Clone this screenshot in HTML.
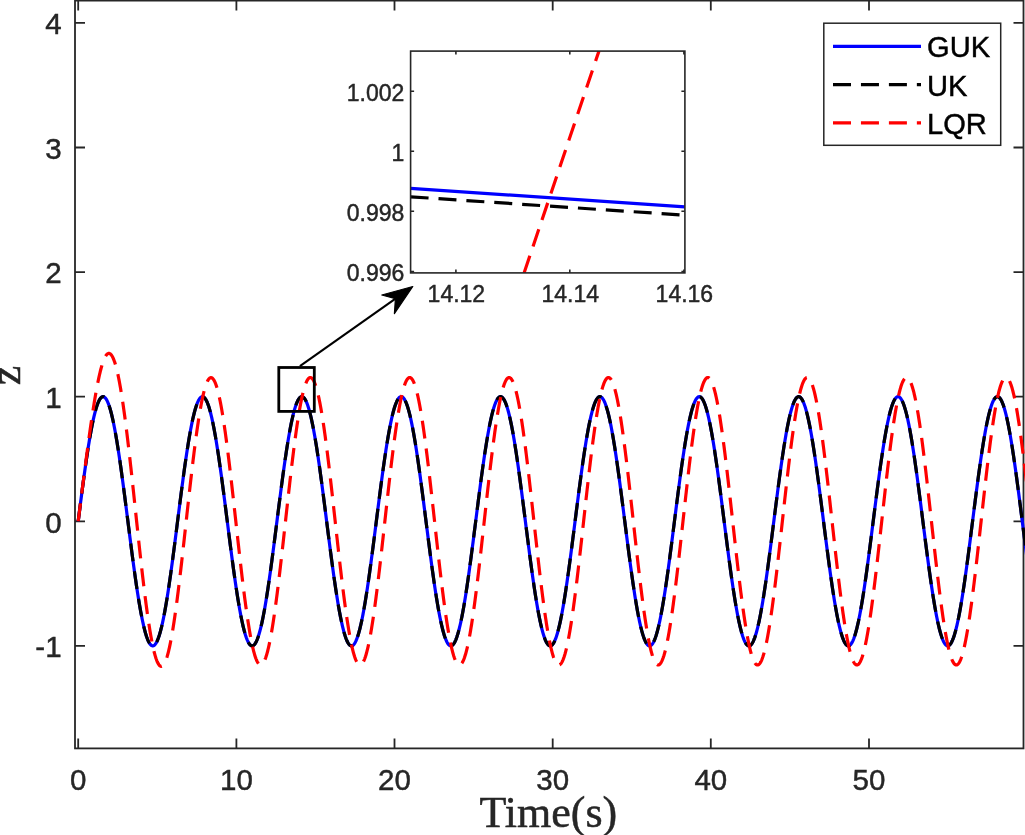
<!DOCTYPE html>
<html lang="en"><head><meta charset="utf-8"><title>Time(s) vs z</title>
<style>html,body{margin:0;padding:0;background:#fff;overflow:hidden}svg{display:block}.t{font-family:"Liberation Sans",Arial,Helvetica,sans-serif;fill:#262626;stroke:#262626;stroke-width:0.45px}.s{font-family:"Liberation Serif","Times New Roman",Times,serif;fill:#262626;stroke:#262626;stroke-width:0.5px}</style></head><body>
<svg width="1025" height="835" viewBox="0 0 1025 835">
<rect x="0" y="0" width="1025" height="835" fill="#fff"/>
<defs><clipPath id="ca"><rect x="75.0" y="0.6" width="950.0" height="747.8"/></clipPath><clipPath id="ci"><rect x="410.6" y="50.9" width="274.3" height="222"/></clipPath></defs>
<g stroke="#262626" stroke-width="1.8" fill="none" stroke-linecap="butt">
<rect x="75.0" y="0.6" width="948.5" height="747.8"/>
<path d="M78.2,748.4v-10M78.2,0.6v10M236.4,748.4v-10M236.4,0.6v10M394.5,748.4v-10M394.5,0.6v10M552.7,748.4v-10M552.7,0.6v10M710.8,748.4v-10M710.8,0.6v10M869.0,748.4v-10M869.0,0.6v10M75.0,645.9h10M1023.5,645.9h-10M75.0,521.3h10M1023.5,521.3h-10M75.0,396.7h10M1023.5,396.7h-10M75.0,272.1h10M1023.5,272.1h-10M75.0,147.5h10M1023.5,147.5h-10M75.0,22.9h10M1023.5,22.9h-10"/>
</g>
<g clip-path="url(#ca)" fill="none" stroke-width="3.2" stroke-linejoin="round">
<path d="M78.20,521.26 L78.52,518.77 L78.83,516.28 L79.15,513.79 L79.47,511.30 L79.78,508.82 L80.10,506.35 L80.41,503.87 L80.73,501.41 L81.05,498.95 L81.36,496.51 L81.68,494.07 L82.00,491.64 L82.31,489.23 L82.63,486.83 L82.94,484.44 L83.26,482.07 L83.58,479.71 L83.89,477.37 L84.21,475.05 L84.53,472.74 L84.84,470.46 L85.16,468.19 L85.48,465.95 L85.79,463.73 L86.11,461.53 L86.42,459.35 L86.74,457.20 L87.06,455.08 L87.37,452.98 L87.69,450.91 L88.01,448.87 L88.32,446.86 L88.64,444.87 L88.95,442.92 L89.27,441.00 L89.59,439.11 L89.90,437.25 L90.22,435.43 L90.54,433.64 L90.85,431.88 L91.17,430.17 L91.49,428.48 L91.80,426.84 L92.12,425.23 L92.43,423.67 L92.75,422.14 L93.07,420.65 L93.38,419.20 L93.70,417.79 L94.02,416.42 L94.33,415.10 L94.65,413.81 L94.96,412.57 L95.28,411.38 L95.60,410.22 L95.91,409.12 L96.23,408.05 L96.55,407.04 L96.86,406.06 L97.18,405.14 L97.50,404.26 L97.81,403.42 L98.13,402.64 L98.44,401.90 L98.76,401.21 L99.08,400.57 L99.39,399.97 L99.71,399.43 L100.03,398.93 L100.34,398.48 L100.66,398.08 L100.98,397.73 L101.29,397.43 L101.61,397.18 L101.92,396.98 L102.24,396.83 L102.56,396.73 L102.87,396.68 L103.19,396.68 L103.51,396.72 L103.82,396.82 L104.14,396.97 L104.45,397.17 L104.77,397.41 L105.09,397.71 L105.40,398.05 L105.72,398.45 L106.04,398.89 L106.35,399.39 L106.67,399.93 L106.99,400.52 L107.30,401.16 L107.62,401.84 L107.93,402.58 L108.25,403.36 L108.57,404.19 L108.88,405.07 L109.20,405.99 L109.52,406.96 L109.83,407.97 L110.15,409.03 L110.46,410.13 L110.78,411.28 L111.10,412.48 L111.41,413.71 L111.73,414.99 L112.05,416.31 L112.36,417.68 L112.68,419.08 L113.00,420.53 L113.31,422.02 L113.63,423.54 L113.94,425.11 L114.26,426.71 L114.58,428.35 L114.89,430.03 L115.21,431.75 L115.53,433.50 L115.84,435.28 L116.16,437.10 L116.47,438.96 L116.79,440.85 L117.11,442.76 L117.42,444.72 L117.74,446.70 L118.06,448.71 L118.37,450.75 L118.69,452.82 L119.01,454.91 L119.32,457.03 L119.64,459.18 L119.95,461.35 L120.27,463.55 L120.59,465.77 L120.90,468.01 L121.22,470.28 L121.54,472.56 L121.85,474.86 L122.17,477.18 L122.48,479.52 L122.80,481.88 L123.12,484.25 L123.43,486.64 L123.75,489.04 L124.07,491.45 L124.38,493.88 L124.70,496.31 L125.02,498.76 L125.33,501.21 L125.65,503.68 L125.96,506.15 L126.28,508.62 L126.60,511.11 L126.91,513.59 L127.23,516.08 L127.55,518.57 L127.86,521.06 L128.18,523.55 L128.49,526.04 L128.81,528.53 L129.13,531.02 L129.44,533.50 L129.76,535.98 L130.08,538.45 L130.39,540.91 L130.71,543.37 L131.03,545.82 L131.34,548.26 L131.66,550.68 L131.97,553.10 L132.29,555.50 L132.61,557.89 L132.92,560.26 L133.24,562.62 L133.56,564.96 L133.87,567.29 L134.19,569.59 L134.50,571.88 L134.82,574.15 L135.14,576.39 L135.45,578.62 L135.77,580.82 L136.09,582.99 L136.40,585.15 L136.72,587.27 L137.04,589.37 L137.35,591.44 L137.67,593.49 L137.98,595.51 L138.30,597.49 L138.62,599.45 L138.93,601.37 L139.25,603.26 L139.57,605.12 L139.88,606.95 L140.20,608.74 L140.52,610.50 L140.83,612.22 L141.15,613.90 L141.46,615.55 L141.78,617.16 L142.10,618.73 L142.41,620.26 L142.73,621.76 L143.05,623.21 L143.36,624.62 L143.68,625.99 L143.99,627.32 L144.31,628.61 L144.63,629.85 L144.94,631.05 L145.26,632.21 L145.58,633.32 L145.89,634.38 L146.21,635.41 L146.53,636.38 L146.84,637.31 L147.16,638.19 L147.47,639.03 L147.79,639.82 L148.11,640.56 L148.42,641.26 L148.74,641.90 L149.06,642.50 L149.37,643.05 L149.69,643.55 L150.00,644.00 L150.32,644.41 L150.64,644.76 L150.95,645.06 L151.27,645.32 L151.59,645.52 L151.90,645.68 L152.22,645.78 L152.54,645.84 L152.85,645.85 L153.17,645.80 L153.48,645.71 L153.80,645.57 L154.12,645.37 L154.43,645.13 L154.75,644.84 L155.07,644.50 L155.38,644.10 L155.70,643.66 L156.01,643.17 L156.33,642.64 L156.65,642.05 L156.96,641.42 L157.28,640.73 L157.60,640.00 L157.91,639.22 L158.23,638.40 L158.55,637.53 L158.86,636.61 L159.18,635.64 L159.49,634.63 L159.81,633.58 L160.13,632.47 L160.44,631.33 L160.76,630.14 L161.08,628.91 L161.39,627.63 L161.71,626.31 L162.02,624.95 L162.34,623.55 L162.66,622.11 L162.97,620.62 L163.29,619.10 L163.61,617.54 L163.92,615.94 L164.24,614.30 L164.56,612.62 L164.87,610.91 L165.19,609.16 L165.50,607.38 L165.82,605.56 L166.14,603.71 L166.45,601.83 L166.77,599.91 L167.09,597.96 L167.40,595.98 L167.72,593.97 L168.03,591.94 L168.35,589.87 L168.67,587.78 L168.98,585.66 L169.30,583.51 L169.62,581.34 L169.93,579.14 L170.25,576.93 L170.57,574.69 L170.88,572.42 L171.20,570.14 L171.51,567.84 L171.83,565.52 L172.15,563.18 L172.46,560.83 L172.78,558.46 L173.10,556.07 L173.41,553.67 L173.73,551.26 L174.04,548.84 L174.36,546.40 L174.68,543.96 L174.99,541.50 L175.31,539.04 L175.63,536.57 L175.94,534.09 L176.26,531.61 L176.58,529.13 L176.89,526.64 L177.21,524.15 L177.52,521.66 L177.84,519.17 L178.16,516.67 L178.47,514.19 L178.79,511.70 L179.11,509.22 L179.42,506.74 L179.74,504.27 L180.06,501.80 L180.37,499.35 L180.69,496.90 L181.00,494.46 L181.32,492.03 L181.64,489.61 L181.95,487.21 L182.27,484.82 L182.59,482.45 L182.90,480.09 L183.22,477.74 L183.53,475.42 L183.85,473.11 L184.17,470.82 L184.48,468.55 L184.80,466.30 L185.12,464.08 L185.43,461.88 L185.75,459.70 L186.07,457.54 L186.38,455.42 L186.70,453.31 L187.01,451.24 L187.33,449.19 L187.65,447.17 L187.96,445.19 L188.28,443.23 L188.60,441.30 L188.91,439.41 L189.23,437.54 L189.54,435.72 L189.86,433.92 L190.18,432.16 L190.49,430.44 L190.81,428.75 L191.13,427.10 L191.44,425.49 L191.76,423.91 L192.08,422.38 L192.39,420.88 L192.71,419.43 L193.02,418.01 L193.34,416.64 L193.66,415.30 L193.97,414.01 L194.29,412.77 L194.61,411.56 L194.92,410.41 L195.24,409.29 L195.55,408.22 L195.87,407.19 L196.19,406.22 L196.50,405.28 L196.82,404.39 L197.14,403.55 L197.45,402.76 L197.77,402.02 L198.09,401.32 L198.40,400.67 L198.72,400.06 L199.03,399.51 L199.35,399.01 L199.67,398.55 L199.98,398.14 L200.30,397.79 L200.62,397.48 L200.93,397.22 L201.25,397.01 L201.56,396.85 L201.88,396.74 L202.20,396.68 L202.51,396.67 L202.83,396.71 L203.15,396.80 L203.46,396.94 L203.78,397.13 L204.10,397.37 L204.41,397.66 L204.73,398.00 L205.04,398.38 L205.36,398.82 L205.68,399.30 L205.99,399.84 L206.31,400.42 L206.63,401.05 L206.94,401.73 L207.26,402.46 L207.57,403.23 L207.89,404.05 L208.21,404.92 L208.52,405.84 L208.84,406.80 L209.16,407.81 L209.47,408.86 L209.79,409.96 L210.11,411.10 L210.42,412.28 L210.74,413.51 L211.05,414.79 L211.37,416.10 L211.69,417.46 L212.00,418.86 L212.32,420.30 L212.64,421.78 L212.95,423.30 L213.27,424.86 L213.58,426.45 L213.90,428.09 L214.22,429.76 L214.53,431.47 L214.85,433.22 L215.17,435.00 L215.48,436.81 L215.80,438.66 L216.12,440.54 L216.43,442.46 L216.75,444.40 L217.06,446.38 L217.38,448.39 L217.70,450.42 L218.01,452.48 L218.33,454.58 L218.65,456.69 L218.96,458.84 L219.28,461.01 L219.60,463.20 L219.91,465.42 L220.23,467.65 L220.54,469.91 L220.86,472.19 L221.18,474.49 L221.49,476.81 L221.81,479.15 L222.13,481.50 L222.44,483.87 L222.76,486.26 L223.07,488.66 L223.39,491.07 L223.71,493.49 L224.02,495.92 L224.34,498.37 L224.66,500.82 L224.97,503.29 L225.29,505.75 L225.61,508.23 L225.92,510.71 L226.24,513.19 L226.55,515.68 L226.87,518.17 L227.19,520.66 L227.50,523.16 L227.82,525.65 L228.14,528.14 L228.45,530.62 L228.77,533.11 L229.08,535.58 L229.40,538.06 L229.72,540.52 L230.03,542.98 L230.35,545.43 L230.67,547.87 L230.98,550.30 L231.30,552.71 L231.62,555.12 L231.93,557.51 L232.25,559.89 L232.56,562.25 L232.88,564.59 L233.20,566.92 L233.51,569.23 L233.83,571.52 L234.15,573.79 L234.46,576.04 L234.78,578.26 L235.09,580.47 L235.41,582.65 L235.73,584.80 L236.04,586.94 L236.36,589.04 L236.68,591.12 L236.99,593.17 L237.31,595.19 L237.63,597.18 L237.94,599.14 L238.26,601.07 L238.57,602.96 L238.89,604.83 L239.21,606.66 L239.52,608.46 L239.84,610.22 L240.16,611.95 L240.47,613.64 L240.79,615.29 L241.10,616.91 L241.42,618.48 L241.74,620.02 L242.05,621.52 L242.37,622.98 L242.69,624.40 L243.00,625.78 L243.32,627.11 L243.64,628.40 L243.95,629.65 L244.27,630.86 L244.58,632.02 L244.90,633.14 L245.22,634.22 L245.53,635.25 L245.85,636.23 L246.17,637.17 L246.48,638.06 L246.80,638.90 L247.11,639.70 L247.43,640.45 L247.75,641.15 L248.06,641.80 L248.38,642.41 L248.70,642.97 L249.01,643.47 L249.33,643.93 L249.65,644.35 L249.96,644.71 L250.28,645.02 L250.59,645.28 L250.91,645.49 L251.23,645.66 L251.54,645.77 L251.86,645.83 L252.18,645.85 L252.49,645.81 L252.81,645.73 L253.12,645.59 L253.44,645.41 L253.76,645.17 L254.07,644.89 L254.39,644.55 L254.71,644.17 L255.02,643.74 L255.34,643.26 L255.66,642.73 L255.97,642.15 L256.29,641.52 L256.60,640.84 L256.92,640.12 L257.24,639.35 L257.55,638.53 L257.87,637.67 L258.19,636.76 L258.50,635.80 L258.82,634.80 L259.14,633.75 L259.45,632.65 L259.77,631.51 L260.08,630.33 L260.40,629.11 L260.72,627.84 L261.03,626.53 L261.35,625.17 L261.67,623.78 L261.98,622.34 L262.30,620.86 L262.61,619.35 L262.93,617.79 L263.25,616.20 L263.56,614.56 L263.88,612.89 L264.20,611.19 L264.51,609.44 L264.83,607.67 L265.15,605.85 L265.46,604.01 L265.78,602.13 L266.09,600.22 L266.41,598.27 L266.73,596.30 L267.04,594.30 L267.36,592.26 L267.68,590.20 L267.99,588.11 L268.31,586.00 L268.62,583.85 L268.94,581.69 L269.26,579.50 L269.57,577.28 L269.89,575.04 L270.21,572.79 L270.52,570.51 L270.84,568.21 L271.16,565.89 L271.47,563.56 L271.79,561.20 L272.10,558.84 L272.42,556.45 L272.74,554.06 L273.05,551.65 L273.37,549.22 L273.69,546.79 L274.00,544.35 L274.32,541.89 L274.63,539.43 L274.95,536.96 L275.27,534.49 L275.58,532.01 L275.90,529.52 L276.22,527.04 L276.53,524.55 L276.85,522.05 L277.17,519.56 L277.48,517.07 L277.80,514.58 L278.11,512.09 L278.43,509.61 L278.75,507.13 L279.06,504.66 L279.38,502.19 L279.70,499.74 L280.01,497.29 L280.33,494.85 L280.64,492.42 L280.96,490.00 L281.28,487.59 L281.59,485.20 L281.91,482.82 L282.23,480.46 L282.54,478.11 L282.86,475.79 L283.18,473.47 L283.49,471.18 L283.81,468.91 L284.12,466.66 L284.44,464.43 L284.76,462.23 L285.07,460.04 L285.39,457.89 L285.71,455.75 L286.02,453.65 L286.34,451.57 L286.65,449.52 L286.97,447.49 L287.29,445.50 L287.60,443.54 L287.92,441.61 L288.24,439.71 L288.55,437.84 L288.87,436.00 L289.19,434.20 L289.50,432.44 L289.82,430.71 L290.13,429.02 L290.45,427.36 L290.77,425.74 L291.08,424.16 L291.40,422.62 L291.72,421.12 L292.03,419.65 L292.35,418.23 L292.66,416.85 L292.98,415.51 L293.30,414.22 L293.61,412.96 L293.93,411.75 L294.25,410.59 L294.56,409.46 L294.88,408.39 L295.20,407.35 L295.51,406.37 L295.83,405.43 L296.14,404.53 L296.46,403.68 L296.78,402.88 L297.09,402.13 L297.41,401.43 L297.73,400.77 L298.04,400.16 L298.36,399.60 L298.68,399.08 L298.99,398.62 L299.31,398.21 L299.62,397.84 L299.94,397.52 L300.26,397.26 L300.57,397.04 L300.89,396.87 L301.21,396.76 L301.52,396.69 L301.84,396.67 L302.15,396.70 L302.47,396.78 L302.79,396.92 L303.10,397.10 L303.42,397.33 L303.74,397.61 L304.05,397.94 L304.37,398.32 L304.69,398.75 L305.00,399.22 L305.32,399.75 L305.63,400.33 L305.95,400.95 L306.27,401.62 L306.58,402.34 L306.90,403.11 L307.22,403.92 L307.53,404.78 L307.85,405.69 L308.16,406.64 L308.48,407.64 L308.80,408.69 L309.11,409.78 L309.43,410.91 L309.75,412.09 L310.06,413.31 L310.38,414.58 L310.70,415.89 L311.01,417.24 L311.33,418.63 L311.64,420.06 L311.96,421.54 L312.28,423.05 L312.59,424.60 L312.91,426.20 L313.23,427.83 L313.54,429.49 L313.86,431.20 L314.17,432.94 L314.49,434.71 L314.81,436.52 L315.12,438.36 L315.44,440.24 L315.76,442.15 L316.07,444.09 L316.39,446.06 L316.71,448.06 L317.02,450.09 L317.34,452.15 L317.65,454.24 L317.97,456.35 L318.29,458.49 L318.60,460.66 L318.92,462.85 L319.24,465.06 L319.55,467.30 L319.87,469.55 L320.18,471.83 L320.50,474.13 L320.82,476.44 L321.13,478.78 L321.45,481.13 L321.77,483.49 L322.08,485.88 L322.40,488.27 L322.72,490.68 L323.03,493.10 L323.35,495.54 L323.66,497.98 L323.98,500.43 L324.30,502.89 L324.61,505.36 L324.93,507.83 L325.25,510.31 L325.56,512.80 L325.88,515.29 L326.19,517.78 L326.51,520.27 L326.83,522.76 L327.14,525.25 L327.46,527.74 L327.78,530.23 L328.09,532.71 L328.41,535.19 L328.73,537.66 L329.04,540.13 L329.36,542.59 L329.67,545.04 L329.99,547.48 L330.31,549.91 L330.62,552.33 L330.94,554.74 L331.26,557.13 L331.57,559.51 L331.89,561.87 L332.20,564.22 L332.52,566.55 L332.84,568.86 L333.15,571.16 L333.47,573.43 L333.79,575.68 L334.10,577.91 L334.42,580.12 L334.74,582.30 L335.05,584.46 L335.37,586.60 L335.68,588.71 L336.00,590.79 L336.32,592.84 L336.63,594.87 L336.95,596.86 L337.27,598.83 L337.58,600.76 L337.90,602.66 L338.22,604.53 L338.53,606.37 L338.85,608.17 L339.16,609.94 L339.48,611.67 L339.80,613.37 L340.11,615.03 L340.43,616.65 L340.75,618.23 L341.06,619.78 L341.38,621.29 L341.69,622.75 L342.01,624.18 L342.33,625.56 L342.64,626.90 L342.96,628.20 L343.28,629.46 L343.59,630.67 L343.91,631.84 L344.23,632.97 L344.54,634.05 L344.86,635.08 L345.17,636.08 L345.49,637.02 L345.81,637.92 L346.12,638.77 L346.44,639.57 L346.76,640.33 L347.07,641.04 L347.39,641.70 L347.70,642.32 L348.02,642.88 L348.34,643.40 L348.65,643.86 L348.97,644.28 L349.29,644.65 L349.60,644.97 L349.92,645.24 L350.24,645.46 L350.55,645.63 L350.87,645.76 L351.18,645.83 L351.50,645.85 L351.82,645.82 L352.13,645.74 L352.45,645.62 L352.77,645.44 L353.08,645.21 L353.40,644.94 L353.71,644.61 L354.03,644.23 L354.35,643.81 L354.66,643.34 L354.98,642.81 L355.30,642.24 L355.61,641.62 L355.93,640.96 L356.25,640.24 L356.56,639.48 L356.88,638.67 L357.19,637.81 L357.51,636.90 L357.83,635.95 L358.14,634.96 L358.46,633.92 L358.78,632.83 L359.09,631.70 L359.41,630.52 L359.72,629.30 L360.04,628.04 L360.36,626.74 L360.67,625.39 L360.99,624.00 L361.31,622.57 L361.62,621.10 L361.94,619.59 L362.26,618.04 L362.57,616.45 L362.89,614.83 L363.20,613.16 L363.52,611.46 L363.84,609.72 L364.15,607.95 L364.47,606.14 L364.79,604.30 L365.10,602.43 L365.42,600.52 L365.73,598.59 L366.05,596.62 L366.37,594.62 L366.68,592.59 L367.00,590.53 L367.32,588.45 L367.63,586.33 L367.95,584.20 L368.27,582.03 L368.58,579.85 L368.90,577.64 L369.21,575.40 L369.53,573.15 L369.85,570.87 L370.16,568.58 L370.48,566.26 L370.80,563.93 L371.11,561.58 L371.43,559.21 L371.74,556.83 L372.06,554.44 L372.38,552.03 L372.69,549.61 L373.01,547.18 L373.33,544.74 L373.64,542.28 L373.96,539.82 L374.28,537.36 L374.59,534.88 L374.91,532.40 L375.22,529.92 L375.54,527.43 L375.86,524.94 L376.17,522.45 L376.49,519.96 L376.81,517.47 L377.12,514.98 L377.44,512.49 L377.76,510.01 L378.07,507.53 L378.39,505.05 L378.70,502.59 L379.02,500.13 L379.34,497.68 L379.65,495.23 L379.97,492.80 L380.29,490.38 L380.60,487.97 L380.92,485.58 L381.23,483.20 L381.55,480.84 L381.87,478.49 L382.18,476.15 L382.50,473.84 L382.82,471.55 L383.13,469.27 L383.45,467.02 L383.77,464.79 L384.08,462.58 L384.40,460.39 L384.71,458.23 L385.03,456.09 L385.35,453.98 L385.66,451.90 L385.98,449.84 L386.30,447.81 L386.61,445.82 L386.93,443.85 L387.24,441.91 L387.56,440.01 L387.88,438.13 L388.19,436.29 L388.51,434.49 L388.83,432.72 L389.14,430.98 L389.46,429.28 L389.78,427.62 L390.09,426.00 L390.41,424.41 L390.72,422.86 L391.04,421.35 L391.36,419.88 L391.67,418.46 L391.99,417.07 L392.31,415.72 L392.62,414.42 L392.94,413.16 L393.25,411.94 L393.57,410.77 L393.89,409.64 L394.20,408.56 L394.52,407.52 L394.84,406.52 L395.15,405.57 L395.47,404.67 L395.79,403.82 L396.10,403.01 L396.42,402.25 L396.73,401.53 L397.05,400.87 L397.37,400.25 L397.68,399.68 L398.00,399.16 L398.32,398.69 L398.63,398.27 L398.95,397.90 L399.26,397.57 L399.58,397.30 L399.90,397.07 L400.21,396.90 L400.53,396.77 L400.85,396.70 L401.16,396.67 L401.48,396.69 L401.80,396.77 L402.11,396.89 L402.43,397.06 L402.74,397.29 L403.06,397.56 L403.38,397.88 L403.69,398.25 L404.01,398.68 L404.33,399.14 L404.64,399.66 L404.96,400.23 L405.27,400.85 L405.59,401.51 L405.91,402.22 L406.22,402.98 L406.54,403.79 L406.86,404.64 L407.17,405.54 L407.49,406.49 L407.81,407.48 L408.12,408.52 L408.44,409.60 L408.75,410.73 L409.07,411.90 L409.39,413.12 L409.70,414.38 L410.02,415.68 L410.34,417.02 L410.65,418.41 L410.97,419.83 L411.28,421.30 L411.60,422.81 L411.92,424.35 L412.23,425.94 L412.55,427.56 L412.87,429.22 L413.18,430.92 L413.50,432.66 L413.82,434.43 L414.13,436.23 L414.45,438.07 L414.76,439.94 L415.08,441.84 L415.40,443.78 L415.71,445.75 L416.03,447.74 L416.35,449.77 L416.66,451.82 L416.98,453.91 L417.30,456.02 L417.61,458.15 L417.93,460.31 L418.24,462.50 L418.56,464.71 L418.88,466.94 L419.19,469.19 L419.51,471.47 L419.83,473.76 L420.14,476.07 L420.46,478.40 L420.77,480.75 L421.09,483.12 L421.41,485.50 L421.72,487.89 L422.04,490.30 L422.36,492.72 L422.67,495.15 L422.99,497.59 L423.31,500.04 L423.62,502.50 L423.94,504.97 L424.25,507.44 L424.57,509.92 L424.89,512.40 L425.20,514.89 L425.52,517.38 L425.84,519.87 L426.15,522.36 L426.47,524.85 L426.78,527.34 L427.10,529.83 L427.42,532.32 L427.73,534.80 L428.05,537.27 L428.37,539.74 L428.68,542.20 L429.00,544.65 L429.32,547.09 L429.63,549.52 L429.95,551.95 L430.26,554.35 L430.58,556.75 L430.90,559.13 L431.21,561.50 L431.53,563.85 L431.85,566.18 L432.16,568.50 L432.48,570.79 L432.79,573.07 L433.11,575.32 L433.43,577.56 L433.74,579.77 L434.06,581.96 L434.38,584.12 L434.69,586.26 L435.01,588.37 L435.33,590.46 L435.64,592.52 L435.96,594.55 L436.27,596.55 L436.59,598.52 L436.91,600.46 L437.22,602.36 L437.54,604.24 L437.86,606.08 L438.17,607.89 L438.49,609.66 L438.80,611.40 L439.12,613.10 L439.44,614.77 L439.75,616.40 L440.07,617.99 L440.39,619.54 L440.70,621.05 L441.02,622.52 L441.34,623.95 L441.65,625.34 L441.97,626.69 L442.28,628.00 L442.60,629.26 L442.92,630.48 L443.23,631.66 L443.55,632.79 L443.87,633.88 L444.18,634.92 L444.50,635.92 L444.81,636.87 L445.13,637.78 L445.45,638.64 L445.76,639.45 L446.08,640.21 L446.40,640.93 L446.71,641.60 L447.03,642.22 L447.35,642.79 L447.66,643.32 L447.98,643.79 L448.29,644.22 L448.61,644.60 L448.93,644.92 L449.24,645.20 L449.56,645.43 L449.88,645.61 L450.19,645.74 L450.51,645.82 L450.82,645.85 L451.14,645.83 L451.46,645.76 L451.77,645.64 L452.09,645.47 L452.41,645.25 L452.72,644.98 L453.04,644.66 L453.36,644.30 L453.67,643.88 L453.99,643.41 L454.30,642.90 L454.62,642.34 L454.94,641.72 L455.25,641.06 L455.57,640.36 L455.89,639.60 L456.20,638.80 L456.52,637.95 L456.84,637.05 L457.15,636.11 L457.47,635.12 L457.78,634.09 L458.10,633.01 L458.42,631.88 L458.73,630.71 L459.05,629.50 L459.37,628.25 L459.68,626.95 L460.00,625.61 L460.31,624.23 L460.63,622.80 L460.95,621.34 L461.26,619.83 L461.58,618.29 L461.90,616.71 L462.21,615.09 L462.53,613.43 L462.85,611.73 L463.16,610.00 L463.48,608.24 L463.79,606.43 L464.11,604.60 L464.43,602.73 L464.74,600.83 L465.06,598.90 L465.38,596.93 L465.69,594.94 L466.01,592.91 L466.32,590.86 L466.64,588.78 L466.96,586.67 L467.27,584.54 L467.59,582.38 L467.91,580.20 L468.22,577.99 L468.54,575.76 L468.86,573.51 L469.17,571.24 L469.49,568.94 L469.80,566.63 L470.12,564.30 L470.44,561.96 L470.75,559.59 L471.07,557.21 L471.39,554.82 L471.70,552.41 L472.02,550.00 L472.33,547.57 L472.65,545.13 L472.97,542.67 L473.28,540.22 L473.60,537.75 L473.92,535.28 L474.23,532.80 L474.55,530.31 L474.87,527.83 L475.18,525.34 L475.50,522.85 L475.81,520.36 L476.13,517.86 L476.45,515.37 L476.76,512.89 L477.08,510.40 L477.40,507.92 L477.71,505.45 L478.03,502.98 L478.34,500.52 L478.66,498.07 L478.98,495.62 L479.29,493.19 L479.61,490.77 L479.93,488.36 L480.24,485.96 L480.56,483.58 L480.88,481.21 L481.19,478.86 L481.51,476.52 L481.82,474.21 L482.14,471.91 L482.46,469.63 L482.77,467.38 L483.09,465.14 L483.41,462.93 L483.72,460.74 L484.04,458.57 L484.35,456.43 L484.67,454.32 L484.99,452.23 L485.30,450.17 L485.62,448.13 L485.94,446.13 L486.25,444.16 L486.57,442.22 L486.89,440.31 L487.20,438.43 L487.52,436.58 L487.83,434.77 L488.15,433.00 L488.47,431.26 L488.78,429.55 L489.10,427.88 L489.42,426.25 L489.73,424.66 L490.05,423.11 L490.36,421.59 L490.68,420.12 L491.00,418.68 L491.31,417.29 L491.63,415.94 L491.95,414.63 L492.26,413.36 L492.58,412.13 L492.90,410.95 L493.21,409.82 L493.53,408.73 L493.84,407.68 L494.16,406.68 L494.48,405.72 L494.79,404.81 L495.11,403.95 L495.43,403.13 L495.74,402.37 L496.06,401.64 L496.38,400.97 L496.69,400.35 L497.01,399.77 L497.32,399.24 L497.64,398.76 L497.96,398.33 L498.27,397.95 L498.59,397.62 L498.91,397.34 L499.22,397.10 L499.54,396.92 L499.85,396.79 L500.17,396.70 L500.49,396.67 L500.80,396.69 L501.12,396.75 L501.44,396.87 L501.75,397.03 L502.07,397.25 L502.39,397.51 L502.70,397.83 L503.02,398.19 L503.33,398.60 L503.65,399.07 L503.97,399.58 L504.28,400.14 L504.60,400.74 L504.92,401.40 L505.23,402.11 L505.55,402.86 L505.86,403.66 L506.18,404.50 L506.50,405.39 L506.81,406.33 L507.13,407.32 L507.45,408.35 L507.76,409.43 L508.08,410.55 L508.40,411.71 L508.71,412.92 L509.03,414.17 L509.34,415.47 L509.66,416.80 L509.98,418.18 L510.29,419.60 L510.61,421.06 L510.93,422.57 L511.24,424.11 L511.56,425.68 L511.87,427.30 L512.19,428.96 L512.51,430.65 L512.82,432.38 L513.14,434.14 L513.46,435.94 L513.77,437.77 L514.09,439.64 L514.41,441.54 L514.72,443.47 L515.04,445.43 L515.35,447.42 L515.67,449.44 L515.99,451.49 L516.30,453.57 L516.62,455.68 L516.94,457.81 L517.25,459.97 L517.57,462.15 L517.88,464.35 L518.20,466.58 L518.52,468.83 L518.83,471.10 L519.15,473.39 L519.47,475.70 L519.78,478.03 L520.10,480.38 L520.42,482.74 L520.73,485.12 L521.05,487.51 L521.36,489.91 L521.68,492.33 L522.00,494.76 L522.31,497.20 L522.63,499.65 L522.95,502.11 L523.26,504.57 L523.58,507.05 L523.89,509.52 L524.21,512.01 L524.53,514.49 L524.84,516.98 L525.16,519.47 L525.48,521.97 L525.79,524.46 L526.11,526.95 L526.43,529.44 L526.74,531.92 L527.06,534.40 L527.37,536.88 L527.69,539.34 L528.01,541.81 L528.32,544.26 L528.64,546.70 L528.96,549.14 L529.27,551.56 L529.59,553.97 L529.90,556.37 L530.22,558.75 L530.54,561.12 L530.85,563.47 L531.17,565.81 L531.49,568.13 L531.80,570.43 L532.12,572.71 L532.44,574.97 L532.75,577.20 L533.07,579.42 L533.38,581.61 L533.70,583.78 L534.02,585.92 L534.33,588.04 L534.65,590.13 L534.97,592.19 L535.28,594.22 L535.60,596.23 L535.92,598.20 L536.23,600.15 L536.55,602.06 L536.86,603.94 L537.18,605.79 L537.50,607.60 L537.81,609.38 L538.13,611.13 L538.45,612.83 L538.76,614.50 L539.08,616.14 L539.39,617.73 L539.71,619.29 L540.03,620.81 L540.34,622.29 L540.66,623.73 L540.98,625.12 L541.29,626.48 L541.61,627.79 L541.93,629.06 L542.24,630.29 L542.56,631.47 L542.87,632.61 L543.19,633.71 L543.51,634.76 L543.82,635.76 L544.14,636.72 L544.46,637.64 L544.77,638.50 L545.09,639.32 L545.40,640.09 L545.72,640.82 L546.04,641.50 L546.35,642.13 L546.67,642.71 L546.99,643.24 L547.30,643.72 L547.62,644.16 L547.94,644.54 L548.25,644.88 L548.57,645.16 L548.88,645.40 L549.20,645.59 L549.52,645.72 L549.83,645.81 L550.15,645.85 L550.47,645.84 L550.78,645.77 L551.10,645.66 L551.41,645.50 L551.73,645.29 L552.05,645.03 L552.36,644.72 L552.68,644.36 L553.00,643.95 L553.31,643.49 L553.63,642.98 L553.95,642.43 L554.26,641.83 L554.58,641.17 L554.89,640.47 L555.21,639.72 L555.53,638.93 L555.84,638.09 L556.16,637.20 L556.48,636.26 L556.79,635.28 L557.11,634.25 L557.42,633.18 L557.74,632.06 L558.06,630.90 L558.37,629.70 L558.69,628.45 L559.01,627.16 L559.32,625.82 L559.64,624.45 L559.96,623.03 L560.27,621.57 L560.59,620.08 L560.90,618.54 L561.22,616.96 L561.54,615.35 L561.85,613.70 L562.17,612.01 L562.49,610.28 L562.80,608.52 L563.12,606.72 L563.43,604.89 L563.75,603.03 L564.07,601.13 L564.38,599.21 L564.70,597.25 L565.02,595.26 L565.33,593.24 L565.65,591.19 L565.97,589.11 L566.28,587.01 L566.60,584.88 L566.91,582.73 L567.23,580.55 L567.55,578.34 L567.86,576.12 L568.18,573.87 L568.50,571.60 L568.81,569.31 L569.13,567.00 L569.44,564.67 L569.76,562.33 L570.08,559.97 L570.39,557.59 L570.71,555.20 L571.03,552.80 L571.34,550.38 L571.66,547.95 L571.98,545.51 L572.29,543.07 L572.61,540.61 L572.92,538.14 L573.24,535.67 L573.56,533.19 L573.87,530.71 L574.19,528.22 L574.51,525.74 L574.82,523.24 L575.14,520.75 L575.46,518.26 L575.77,515.77 L576.09,513.28 L576.40,510.80 L576.72,508.32 L577.04,505.84 L577.35,503.37 L577.67,500.91 L577.99,498.46 L578.30,496.01 L578.62,493.58 L578.93,491.15 L579.25,488.74 L579.57,486.34 L579.88,483.96 L580.20,481.59 L580.52,479.23 L580.83,476.90 L581.15,474.58 L581.47,472.28 L581.78,469.99 L582.10,467.73 L582.41,465.49 L582.73,463.28 L583.05,461.08 L583.36,458.91 L583.68,456.77 L584.00,454.65 L584.31,452.56 L584.63,450.49 L584.94,448.46 L585.26,446.45 L585.58,444.47 L585.89,442.52 L586.21,440.61 L586.53,438.73 L586.84,436.88 L587.16,435.06 L587.48,433.28 L587.79,431.53 L588.11,429.82 L588.42,428.15 L588.74,426.51 L589.06,424.91 L589.37,423.35 L589.69,421.83 L590.01,420.35 L590.32,418.91 L590.64,417.51 L590.95,416.15 L591.27,414.83 L591.59,413.56 L591.90,412.33 L592.22,411.14 L592.54,410.00 L592.85,408.90 L593.17,407.84 L593.49,406.83 L593.80,405.87 L594.12,404.95 L594.43,404.08 L594.75,403.26 L595.07,402.48 L595.38,401.76 L595.70,401.08 L596.02,400.44 L596.33,399.86 L596.65,399.32 L596.96,398.84 L597.28,398.40 L597.60,398.01 L597.91,397.67 L598.23,397.38 L598.55,397.14 L598.86,396.95 L599.18,396.81 L599.50,396.71 L599.81,396.67 L600.13,396.68 L600.44,396.74 L600.76,396.85 L601.08,397.00 L601.39,397.21 L601.71,397.47 L602.03,397.77 L602.34,398.13 L602.66,398.54 L602.97,398.99 L603.29,399.49 L603.61,400.04 L603.92,400.64 L604.24,401.29 L604.56,401.99 L604.87,402.73 L605.19,403.53 L605.51,404.36 L605.82,405.25 L606.14,406.18 L606.45,407.16 L606.77,408.18 L607.09,409.25 L607.40,410.37 L607.72,411.52 L608.04,412.72 L608.35,413.97 L608.67,415.26 L608.98,416.59 L609.30,417.96 L609.62,419.37 L609.93,420.83 L610.25,422.32 L610.57,423.86 L610.88,425.43 L611.20,427.04 L611.52,428.69 L611.83,430.38 L612.15,432.10 L612.46,433.86 L612.78,435.65 L613.10,437.48 L613.41,439.34 L613.73,441.23 L614.05,443.16 L614.36,445.12 L614.68,447.10 L615.00,449.12 L615.31,451.17 L615.63,453.24 L615.94,455.34 L616.26,457.47 L616.58,459.62 L616.89,461.80 L617.21,464.00 L617.53,466.23 L617.84,468.47 L618.16,470.74 L618.47,473.03 L618.79,475.33 L619.11,477.66 L619.42,480.00 L619.74,482.36 L620.06,484.74 L620.37,487.13 L620.69,489.53 L621.01,491.94 L621.32,494.37 L621.64,496.81 L621.95,499.26 L622.27,501.72 L622.59,504.18 L622.90,506.65 L623.22,509.13 L623.54,511.61 L623.85,514.10 L624.17,516.59 L624.48,519.08 L624.80,521.57 L625.12,524.06 L625.43,526.55 L625.75,529.04 L626.07,531.52 L626.38,534.01 L626.70,536.48 L627.02,538.95 L627.33,541.41 L627.65,543.87 L627.96,546.32 L628.28,548.75 L628.60,551.18 L628.91,553.59 L629.23,555.99 L629.55,558.37 L629.86,560.75 L630.18,563.10 L630.49,565.44 L630.81,567.76 L631.13,570.06 L631.44,572.34 L631.76,574.61 L632.08,576.85 L632.39,579.07 L632.71,581.26 L633.03,583.43 L633.34,585.58 L633.66,587.70 L633.97,589.80 L634.29,591.86 L634.61,593.90 L634.92,595.91 L635.24,597.89 L635.56,599.84 L635.87,601.76 L636.19,603.64 L636.50,605.50 L636.82,607.32 L637.14,609.10 L637.45,610.85 L637.77,612.56 L638.09,614.24 L638.40,615.88 L638.72,617.48 L639.04,619.05 L639.35,620.57 L639.67,622.06 L639.98,623.50 L640.30,624.90 L640.62,626.27 L640.93,627.59 L641.25,628.86 L641.57,630.10 L641.88,631.29 L642.20,632.44 L642.51,633.54 L642.83,634.60 L643.15,635.61 L643.46,636.57 L643.78,637.49 L644.10,638.37 L644.41,639.20 L644.73,639.98 L645.05,640.71 L645.36,641.39 L645.68,642.03 L645.99,642.62 L646.31,643.16 L646.63,643.65 L646.94,644.09 L647.26,644.48 L647.58,644.83 L647.89,645.12 L648.21,645.36 L648.52,645.56 L648.84,645.70 L649.16,645.80 L649.47,645.85 L649.79,645.84 L650.11,645.79 L650.42,645.68 L650.74,645.53 L651.06,645.33 L651.37,645.07 L651.69,644.77 L652.00,644.42 L652.32,644.02 L652.64,643.57 L652.95,643.07 L653.27,642.52 L653.59,641.92 L653.90,641.28 L654.22,640.59 L654.54,639.85 L654.85,639.06 L655.17,638.22 L655.48,637.34 L655.80,636.41 L656.12,635.44 L656.43,634.42 L656.75,633.36 L657.07,632.25 L657.38,631.09 L657.70,629.89 L658.01,628.65 L658.33,627.37 L658.65,626.04 L658.96,624.67 L659.28,623.26 L659.60,621.81 L659.91,620.32 L660.23,618.79 L660.55,617.22 L660.86,615.61 L661.18,613.96 L661.49,612.28 L661.81,610.56 L662.13,608.80 L662.44,607.01 L662.76,605.19 L663.08,603.33 L663.39,601.44 L663.71,599.52 L664.02,597.56 L664.34,595.58 L664.66,593.56 L664.97,591.52 L665.29,589.45 L665.61,587.35 L665.92,585.22 L666.24,583.07 L666.56,580.89 L666.87,578.69 L667.19,576.47 L667.50,574.23 L667.82,571.96 L668.14,569.68 L668.45,567.37 L668.77,565.05 L669.09,562.70 L669.40,560.35 L669.72,557.97 L670.03,555.58 L670.35,553.18 L670.67,550.77 L670.98,548.34 L671.30,545.90 L671.62,543.46 L671.93,541.00 L672.25,538.54 L672.57,536.07 L672.88,533.59 L673.20,531.11 L673.51,528.62 L673.83,526.13 L674.15,523.64 L674.46,521.15 L674.78,518.66 L675.10,516.17 L675.41,513.68 L675.73,511.19 L676.04,508.71 L676.36,506.24 L676.68,503.76 L676.99,501.30 L677.31,498.85 L677.63,496.40 L677.94,493.96 L678.26,491.54 L678.58,489.12 L678.89,486.72 L679.21,484.34 L679.52,481.96 L679.84,479.61 L680.16,477.27 L680.47,474.94 L680.79,472.64 L681.11,470.36 L681.42,468.09 L681.74,465.85 L682.05,463.63 L682.37,461.43 L682.69,459.26 L683.00,457.11 L683.32,454.99 L683.64,452.89 L683.95,450.82 L684.27,448.78 L684.59,446.77 L684.90,444.78 L685.22,442.83 L685.53,440.91 L685.85,439.02 L686.17,437.17 L686.48,435.35 L686.80,433.56 L687.12,431.81 L687.43,430.09 L687.75,428.41 L688.06,426.77 L688.38,425.16 L688.70,423.60 L689.01,422.07 L689.33,420.58 L689.65,419.13 L689.96,417.73 L690.28,416.36 L690.60,415.04 L690.91,413.76 L691.23,412.52 L691.54,411.32 L691.86,410.17 L692.18,409.07 L692.49,408.01 L692.81,406.99 L693.13,406.02 L693.44,405.10 L693.76,404.22 L694.08,403.39 L694.39,402.61 L694.71,401.87 L695.02,401.18 L695.34,400.54 L695.66,399.95 L695.97,399.40 L696.29,398.91 L696.61,398.46 L696.92,398.07 L697.24,397.72 L697.55,397.42 L697.87,397.17 L698.19,396.97 L698.50,396.83 L698.82,396.73 L699.14,396.68 L699.45,396.68 L699.77,396.73 L700.09,396.83 L700.40,396.98 L700.72,397.18 L701.03,397.42 L701.35,397.72 L701.67,398.07 L701.98,398.47 L702.30,398.91 L702.62,399.41 L702.93,399.95 L703.25,400.55 L703.56,401.19 L703.88,401.88 L704.20,402.61 L704.51,403.40 L704.83,404.23 L705.15,405.11 L705.46,406.03 L705.78,407.00 L706.10,408.02 L706.41,409.08 L706.73,410.18 L707.04,411.34 L707.36,412.53 L707.68,413.77 L707.99,415.05 L708.31,416.37 L708.63,417.74 L708.94,419.15 L709.26,420.59 L709.57,422.08 L709.89,423.61 L710.21,425.18 L710.52,426.78 L710.84,428.43 L711.16,430.11 L711.47,431.82 L711.79,433.58 L712.11,435.36 L712.42,437.19 L712.74,439.04 L713.05,440.93 L713.37,442.85 L713.69,444.80 L714.00,446.79 L714.32,448.80 L714.64,450.84 L714.95,452.91 L715.27,455.01 L715.58,457.13 L715.90,459.28 L716.22,461.45 L716.53,463.65 L716.85,465.87 L717.17,468.11 L717.48,470.38 L717.80,472.66 L718.12,474.97 L718.43,477.29 L718.75,479.63 L719.06,481.98 L719.38,484.36 L719.70,486.74 L720.01,489.15 L720.33,491.56 L720.65,493.99 L720.96,496.42 L721.28,498.87 L721.59,501.32 L721.91,503.79 L722.23,506.26 L722.54,508.73 L722.86,511.22 L723.18,513.70 L723.49,516.19 L723.81,518.68 L724.13,521.17 L724.44,523.66 L724.76,526.15 L725.07,528.64 L725.39,531.13 L725.71,533.61 L726.02,536.09 L726.34,538.56 L726.66,541.02 L726.97,543.48 L727.29,545.93 L727.60,548.36 L727.92,550.79 L728.24,553.20 L728.55,555.61 L728.87,558.00 L729.19,560.37 L729.50,562.73 L729.82,565.07 L730.14,567.39 L730.45,569.70 L730.77,571.98 L731.08,574.25 L731.40,576.49 L731.72,578.72 L732.03,580.91 L732.35,583.09 L732.67,585.24 L732.98,587.37 L733.30,589.46 L733.62,591.54 L733.93,593.58 L734.25,595.59 L734.56,597.58 L734.88,599.53 L735.20,601.46 L735.51,603.35 L735.83,605.20 L736.15,607.03 L736.46,608.82 L736.78,610.57 L737.09,612.29 L737.41,613.98 L737.73,615.62 L738.04,617.23 L738.36,618.80 L738.68,620.33 L738.99,621.82 L739.31,623.27 L739.63,624.68 L739.94,626.05 L740.26,627.38 L740.57,628.66 L740.89,629.90 L741.21,631.10 L741.52,632.26 L741.84,633.37 L742.16,634.43 L742.47,635.45 L742.79,636.42 L743.10,637.35 L743.42,638.23 L743.74,639.07 L744.05,639.85 L744.37,640.59 L744.69,641.29 L745.00,641.93 L745.32,642.53 L745.64,643.07 L745.95,643.57 L746.27,644.02 L746.58,644.42 L746.90,644.77 L747.22,645.08 L747.53,645.33 L747.85,645.53 L748.17,645.68 L748.48,645.79 L748.80,645.84 L749.11,645.85 L749.43,645.80 L749.75,645.70 L750.06,645.56 L750.38,645.36 L750.70,645.12 L751.01,644.82 L751.33,644.48 L751.65,644.09 L751.96,643.64 L752.28,643.15 L752.59,642.61 L752.91,642.02 L753.23,641.39 L753.54,640.70 L753.86,639.97 L754.18,639.19 L754.49,638.36 L754.81,637.49 L755.12,636.57 L755.44,635.60 L755.76,634.59 L756.07,633.53 L756.39,632.43 L756.71,631.28 L757.02,630.09 L757.34,628.85 L757.66,627.57 L757.97,626.25 L758.29,624.89 L758.60,623.49 L758.92,622.04 L759.24,620.56 L759.55,619.03 L759.87,617.47 L760.19,615.87 L760.50,614.23 L760.82,612.55 L761.13,610.83 L761.45,609.08 L761.77,607.30 L762.08,605.48 L762.40,603.63 L762.72,601.74 L763.03,599.82 L763.35,597.87 L763.67,595.89 L763.98,593.88 L764.30,591.84 L764.61,589.78 L764.93,587.68 L765.25,585.56 L765.56,583.41 L765.88,581.24 L766.20,579.05 L766.51,576.83 L766.83,574.59 L767.14,572.32 L767.46,570.04 L767.78,567.74 L768.09,565.42 L768.41,563.08 L768.73,560.72 L769.04,558.35 L769.36,555.97 L769.68,553.57 L769.99,551.15 L770.31,548.73 L770.62,546.29 L770.94,543.85 L771.26,541.39 L771.57,538.93 L771.89,536.46 L772.21,533.98 L772.52,531.50 L772.84,529.02 L773.16,526.53 L773.47,524.04 L773.79,521.55 L774.10,519.05 L774.42,516.56 L774.74,514.07 L775.05,511.59 L775.37,509.11 L775.69,506.63 L776.00,504.16 L776.32,501.69 L776.63,499.24 L776.95,496.79 L777.27,494.35 L777.58,491.92 L777.90,489.51 L778.22,487.10 L778.53,484.71 L778.85,482.34 L779.17,479.98 L779.48,477.64 L779.80,475.31 L780.11,473.01 L780.43,470.72 L780.75,468.45 L781.06,466.21 L781.38,463.98 L781.70,461.78 L782.01,459.60 L782.33,457.45 L782.64,455.32 L782.96,453.22 L783.28,451.15 L783.59,449.10 L783.91,447.09 L784.23,445.10 L784.54,443.14 L784.86,441.22 L785.18,439.32 L785.49,437.46 L785.81,435.63 L786.12,433.84 L786.44,432.08 L786.76,430.36 L787.07,428.68 L787.39,427.03 L787.71,425.42 L788.02,423.84 L788.34,422.31 L788.65,420.82 L788.97,419.36 L789.29,417.95 L789.60,416.58 L789.92,415.25 L790.24,413.96 L790.55,412.71 L790.87,411.51 L791.19,410.35 L791.50,409.24 L791.82,408.17 L792.13,407.15 L792.45,406.17 L792.77,405.24 L793.08,404.36 L793.40,403.52 L793.72,402.73 L794.03,401.98 L794.35,401.29 L794.66,400.64 L794.98,400.04 L795.30,399.49 L795.61,398.99 L795.93,398.53 L796.25,398.13 L796.56,397.77 L796.88,397.47 L797.20,397.21 L797.51,397.00 L797.83,396.85 L798.14,396.74 L798.46,396.68 L798.78,396.67 L799.09,396.72 L799.41,396.81 L799.73,396.95 L800.04,397.14 L800.36,397.38 L800.67,397.67 L800.99,398.01 L801.31,398.40 L801.62,398.84 L801.94,399.33 L802.26,399.86 L802.57,400.45 L802.89,401.08 L803.21,401.76 L803.52,402.49 L803.84,403.27 L804.15,404.09 L804.47,404.96 L804.79,405.88 L805.10,406.84 L805.42,407.85 L805.74,408.91 L806.05,410.01 L806.37,411.15 L806.68,412.34 L807.00,413.57 L807.32,414.84 L807.63,416.16 L807.95,417.52 L808.27,418.92 L808.58,420.36 L808.90,421.84 L809.22,423.36 L809.53,424.93 L809.85,426.52 L810.16,428.16 L810.48,429.84 L810.80,431.55 L811.11,433.29 L811.43,435.08 L811.75,436.89 L812.06,438.74 L812.38,440.63 L812.70,442.54 L813.01,444.49 L813.33,446.47 L813.64,448.47 L813.96,450.51 L814.28,452.58 L814.59,454.67 L814.91,456.79 L815.23,458.93 L815.54,461.10 L815.86,463.30 L816.17,465.51 L816.49,467.75 L816.81,470.01 L817.12,472.30 L817.44,474.60 L817.76,476.92 L818.07,479.25 L818.39,481.61 L818.71,483.98 L819.02,486.36 L819.34,488.76 L819.65,491.17 L819.97,493.60 L820.29,496.03 L820.60,498.48 L820.92,500.93 L821.24,503.39 L821.55,505.86 L821.87,508.34 L822.18,510.82 L822.50,513.31 L822.82,515.79 L823.13,518.28 L823.45,520.78 L823.77,523.27 L824.08,525.76 L824.40,528.25 L824.72,530.73 L825.03,533.22 L825.35,535.69 L825.66,538.17 L825.98,540.63 L826.30,543.09 L826.61,545.54 L826.93,547.98 L827.25,550.40 L827.56,552.82 L827.88,555.23 L828.19,557.62 L828.51,559.99 L828.83,562.35 L829.14,564.70 L829.46,567.02 L829.78,569.33 L830.09,571.62 L830.41,573.89 L830.73,576.14 L831.04,578.36 L831.36,580.57 L831.67,582.75 L831.99,584.90 L832.31,587.03 L832.62,589.13 L832.94,591.21 L833.26,593.26 L833.57,595.28 L833.89,597.26 L834.20,599.22 L834.52,601.15 L834.84,603.05 L835.15,604.91 L835.47,606.74 L835.79,608.54 L836.10,610.30 L836.42,612.02 L836.74,613.71 L837.05,615.36 L837.37,616.98 L837.68,618.55 L838.00,620.09 L838.32,621.59 L838.63,623.04 L838.95,624.46 L839.27,625.84 L839.58,627.17 L839.90,628.46 L840.21,629.71 L840.53,630.91 L840.85,632.07 L841.16,633.19 L841.48,634.26 L841.80,635.29 L842.11,636.27 L842.43,637.21 L842.75,638.09 L843.06,638.94 L843.38,639.73 L843.69,640.48 L844.01,641.18 L844.33,641.83 L844.64,642.43 L844.96,642.99 L845.28,643.50 L845.59,643.95 L845.91,644.36 L846.22,644.72 L846.54,645.03 L846.86,645.29 L847.17,645.50 L847.49,645.66 L847.81,645.78 L848.12,645.84 L848.44,645.85 L848.76,645.81 L849.07,645.72 L849.39,645.58 L849.70,645.40 L850.02,645.16 L850.34,644.87 L850.65,644.54 L850.97,644.15 L851.29,643.72 L851.60,643.23 L851.92,642.70 L852.24,642.12 L852.55,641.49 L852.87,640.81 L853.18,640.09 L853.50,639.32 L853.82,638.50 L854.13,637.63 L854.45,636.72 L854.77,635.76 L855.08,634.75 L855.40,633.70 L855.71,632.60 L856.03,631.46 L856.35,630.28 L856.66,629.05 L856.98,627.78 L857.30,626.47 L857.61,625.11 L857.93,623.71 L858.25,622.28 L858.56,620.80 L858.88,619.28 L859.19,617.72 L859.51,616.12 L859.83,614.49 L860.14,612.82 L860.46,611.11 L860.78,609.37 L861.09,607.59 L861.41,605.77 L861.72,603.93 L862.04,602.04 L862.36,600.13 L862.67,598.19 L862.99,596.21 L863.31,594.21 L863.62,592.17 L863.94,590.11 L864.26,588.02 L864.57,585.90 L864.89,583.76 L865.20,581.59 L865.52,579.40 L865.84,577.18 L866.15,574.94 L866.47,572.69 L866.79,570.41 L867.10,568.11 L867.42,565.79 L867.73,563.45 L868.05,561.10 L868.37,558.73 L868.68,556.35 L869.00,553.95 L869.32,551.54 L869.63,549.12 L869.95,546.68 L870.27,544.24 L870.58,541.78 L870.90,539.32 L871.21,536.85 L871.53,534.38 L871.85,531.90 L872.16,529.41 L872.48,526.92 L872.80,524.43 L873.11,521.94 L873.43,519.45 L873.74,516.96 L874.06,514.47 L874.38,511.98 L874.69,509.50 L875.01,507.02 L875.33,504.55 L875.64,502.09 L875.96,499.63 L876.28,497.18 L876.59,494.74 L876.91,492.31 L877.22,489.89 L877.54,487.49 L877.86,485.09 L878.17,482.72 L878.49,480.36 L878.81,478.01 L879.12,475.68 L879.44,473.37 L879.75,471.08 L880.07,468.81 L880.39,466.56 L880.70,464.33 L881.02,462.13 L881.34,459.95 L881.65,457.79 L881.97,455.66 L882.29,453.55 L882.60,451.48 L882.92,449.43 L883.23,447.40 L883.55,445.41 L883.87,443.45 L884.18,441.52 L884.50,439.62 L884.82,437.76 L885.13,435.92 L885.45,434.13 L885.76,432.36 L886.08,430.63 L886.40,428.94 L886.71,427.29 L887.03,425.67 L887.35,424.09 L887.66,422.55 L887.98,421.05 L888.30,419.59 L888.61,418.17 L888.93,416.79 L889.24,415.45 L889.56,414.16 L889.88,412.91 L890.19,411.70 L890.51,410.54 L890.83,409.42 L891.14,408.34 L891.46,407.31 L891.78,406.33 L892.09,405.39 L892.41,404.49 L892.72,403.65 L893.04,402.85 L893.36,402.10 L893.67,401.39 L893.99,400.74 L894.31,400.13 L894.62,399.57 L894.94,399.06 L895.25,398.60 L895.57,398.19 L895.89,397.83 L896.20,397.51 L896.52,397.25 L896.84,397.03 L897.15,396.87 L897.47,396.75 L897.79,396.69 L898.10,396.67 L898.42,396.71 L898.73,396.79 L899.05,396.92 L899.37,397.11 L899.68,397.34 L900.00,397.62 L900.32,397.95 L900.63,398.34 L900.95,398.77 L901.26,399.25 L901.58,399.77 L901.90,400.35 L902.21,400.98 L902.53,401.65 L902.85,402.37 L903.16,403.14 L903.48,403.96 L903.80,404.82 L904.11,405.73 L904.43,406.69 L904.74,407.69 L905.06,408.74 L905.38,409.83 L905.69,410.96 L906.01,412.15 L906.33,413.37 L906.64,414.64 L906.96,415.95 L907.27,417.30 L907.59,418.69 L907.91,420.13 L908.22,421.60 L908.54,423.12 L908.86,424.67 L909.17,426.27 L909.49,427.90 L909.81,429.57 L910.12,431.27 L910.44,433.01 L910.75,434.79 L911.07,436.60 L911.39,438.45 L911.70,440.32 L912.02,442.24 L912.34,444.18 L912.65,446.15 L912.97,448.15 L913.28,450.19 L913.60,452.25 L913.92,454.33 L914.23,456.45 L914.55,458.59 L914.87,460.76 L915.18,462.95 L915.50,465.16 L915.82,467.40 L916.13,469.65 L916.45,471.93 L916.76,474.23 L917.08,476.55 L917.40,478.88 L917.71,481.23 L918.03,483.60 L918.35,485.98 L918.66,488.38 L918.98,490.79 L919.29,493.21 L919.61,495.64 L919.93,498.09 L920.24,500.54 L920.56,503.00 L920.88,505.47 L921.19,507.94 L921.51,510.43 L921.83,512.91 L922.14,515.40 L922.46,517.89 L922.77,520.38 L923.09,522.87 L923.41,525.36 L923.72,527.85 L924.04,530.34 L924.36,532.82 L924.67,535.30 L924.99,537.77 L925.30,540.24 L925.62,542.70 L925.94,545.15 L926.25,547.59 L926.57,550.02 L926.89,552.44 L927.20,554.84 L927.52,557.24 L927.84,559.61 L928.15,561.98 L928.47,564.32 L928.78,566.65 L929.10,568.96 L929.42,571.26 L929.73,573.53 L930.05,575.78 L930.37,578.01 L930.68,580.22 L931.00,582.40 L931.32,584.56 L931.63,586.69 L931.95,588.80 L932.26,590.88 L932.58,592.93 L932.90,594.96 L933.21,596.95 L933.53,598.91 L933.85,600.85 L934.16,602.75 L934.48,604.62 L934.79,606.45 L935.11,608.25 L935.43,610.02 L935.74,611.75 L936.06,613.44 L936.38,615.10 L936.69,616.72 L937.01,618.30 L937.33,619.85 L937.64,621.35 L937.96,622.81 L938.27,624.24 L938.59,625.62 L938.91,626.96 L939.22,628.26 L939.54,629.51 L939.86,630.72 L940.17,631.89 L940.49,633.02 L940.80,634.10 L941.12,635.13 L941.44,636.12 L941.75,637.06 L942.07,637.96 L942.39,638.81 L942.70,639.61 L943.02,640.36 L943.34,641.07 L943.65,641.73 L943.97,642.34 L944.28,642.90 L944.60,643.42 L944.92,643.88 L945.23,644.30 L945.55,644.67 L945.87,644.99 L946.18,645.25 L946.50,645.47 L946.81,645.64 L947.13,645.76 L947.45,645.83 L947.76,645.85 L948.08,645.82 L948.40,645.74 L948.71,645.61 L949.03,645.43 L949.35,645.20 L949.66,644.92 L949.98,644.59 L950.29,644.22 L950.61,643.79 L950.93,643.31 L951.24,642.79 L951.56,642.22 L951.88,641.59 L952.19,640.92 L952.51,640.21 L952.82,639.44 L953.14,638.63 L953.46,637.77 L953.77,636.86 L954.09,635.91 L954.41,634.91 L954.72,633.87 L955.04,632.78 L955.36,631.65 L955.67,630.47 L955.99,629.25 L956.30,627.99 L956.62,626.68 L956.94,625.33 L957.25,623.94 L957.57,622.51 L957.89,621.03 L958.20,619.52 L958.52,617.97 L958.83,616.38 L959.15,614.75 L959.47,613.09 L959.78,611.38 L960.10,609.65 L960.42,607.87 L960.73,606.06 L961.05,604.22 L961.37,602.35 L961.68,600.44 L962.00,598.50 L962.31,596.53 L962.63,594.53 L962.95,592.50 L963.26,590.44 L963.58,588.35 L963.90,586.24 L964.21,584.10 L964.53,581.94 L964.84,579.75 L965.16,577.54 L965.48,575.30 L965.79,573.05 L966.11,570.77 L966.43,568.47 L966.74,566.16 L967.06,563.83 L967.38,561.48 L967.69,559.11 L968.01,556.73 L968.32,554.33 L968.64,551.92 L968.96,549.50 L969.27,547.07 L969.59,544.63 L969.91,542.17 L970.22,539.71 L970.54,537.25 L970.86,534.77 L971.17,532.29 L971.49,529.81 L971.80,527.32 L972.12,524.83 L972.44,522.34 L972.75,519.85 L973.07,517.36 L973.39,514.87 L973.70,512.38 L974.02,509.90 L974.33,507.42 L974.65,504.94 L974.97,502.48 L975.28,500.02 L975.60,497.57 L975.92,495.13 L976.23,492.69 L976.55,490.28 L976.87,487.87 L977.18,485.47 L977.50,483.09 L977.81,480.73 L978.13,478.38 L978.45,476.05 L978.76,473.74 L979.08,471.45 L979.40,469.17 L979.71,466.92 L980.03,464.69 L980.34,462.48 L980.66,460.29 L980.98,458.13 L981.29,456.00 L981.61,453.89 L981.93,451.81 L982.24,449.75 L982.56,447.72 L982.88,445.73 L983.19,443.76 L983.51,441.83 L983.82,439.92 L984.14,438.05 L984.46,436.21 L984.77,434.41 L985.09,432.64 L985.41,430.91 L985.72,429.21 L986.04,427.55 L986.35,425.93 L986.67,424.34 L986.99,422.79 L987.30,421.29 L987.62,419.82 L987.94,418.39 L988.25,417.01 L988.57,415.67 L988.89,414.36 L989.20,413.11 L989.52,411.89 L989.83,410.72 L990.15,409.59 L990.47,408.51 L990.78,407.47 L991.10,406.48 L991.42,405.53 L991.73,404.63 L992.05,403.78 L992.36,402.97 L992.68,402.21 L993.00,401.50 L993.31,400.84 L993.63,400.23 L993.95,399.66 L994.26,399.14 L994.58,398.67 L994.90,398.25 L995.21,397.88 L995.53,397.56 L995.84,397.29 L996.16,397.06 L996.48,396.89 L996.79,396.77 L997.11,396.69 L997.43,396.67 L997.74,396.70 L998.06,396.77 L998.37,396.90 L998.69,397.07 L999.01,397.30 L999.32,397.57 L999.64,397.90 L999.96,398.27 L1000.27,398.69 L1000.59,399.17 L1000.91,399.69 L1001.22,400.26 L1001.54,400.87 L1001.85,401.54 L1002.17,402.25 L1002.49,403.02 L1002.80,403.82 L1003.12,404.68 L1003.44,405.58 L1003.75,406.53 L1004.07,407.53 L1004.38,408.57 L1004.70,409.65 L1005.02,410.78 L1005.33,411.95 L1005.65,413.17 L1005.97,414.43 L1006.28,415.74 L1006.60,417.08 L1006.92,418.47 L1007.23,419.90 L1007.55,421.37 L1007.86,422.88 L1008.18,424.42 L1008.50,426.01 L1008.81,427.64 L1009.13,429.30 L1009.45,431.00 L1009.76,432.73 L1010.08,434.51 L1010.40,436.31 L1010.71,438.15 L1011.03,440.02 L1011.34,441.93 L1011.66,443.87 L1011.98,445.83 L1012.29,447.83 L1012.61,449.86 L1012.93,451.92 L1013.24,454.00 L1013.56,456.11 L1013.87,458.25 L1014.19,460.41 L1014.51,462.60 L1014.82,464.81 L1015.14,467.04 L1015.46,469.29 L1015.77,471.57 L1016.09,473.86 L1016.41,476.18 L1016.72,478.51 L1017.04,480.86 L1017.35,483.22 L1017.67,485.60 L1017.99,488.00 L1018.30,490.40 L1018.62,492.82 L1018.94,495.26 L1019.25,497.70 L1019.57,500.15 L1019.88,502.61 L1020.20,505.08 L1020.52,507.55 L1020.83,510.03 L1021.15,512.51 L1021.47,515.00 L1021.78,517.49 L1022.10,519.98 L1022.42,522.47 L1022.73,524.96 L1023.05,527.45 L1023.36,529.94 L1023.68,532.43 L1024.00,534.91 L1024.31,537.38 L1024.63,539.85 L1024.95,542.31 L1025.26,544.76 L1025.58,547.20 L1025.89,549.63 L1026.21,552.05 L1026.53,554.46 L1026.84,556.86 L1027.16,559.24" stroke="#0000ff"/>
<path d="M78.20,521.26 L78.52,518.77 L78.83,516.28 L79.15,513.79 L79.47,511.30 L79.78,508.82 L80.10,506.35 L80.41,503.87 L80.73,501.41 L81.05,498.95 L81.36,496.51 L81.68,494.07 L82.00,491.64 L82.31,489.23 L82.63,486.83 L82.94,484.44 L83.26,482.07 L83.58,479.71 L83.89,477.37 L84.21,475.05 L84.53,472.74 L84.84,470.46 L85.16,468.19 L85.48,465.95 L85.79,463.73 L86.11,461.53 L86.42,459.35 L86.74,457.20 L87.06,455.08 L87.37,452.98 L87.69,450.91 L88.01,448.87 L88.32,446.86 L88.64,444.87 L88.95,442.92 L89.27,441.00 L89.59,439.11 L89.90,437.25 L90.22,435.43 L90.54,433.64 L90.85,431.88 L91.17,430.17 L91.49,428.48 L91.80,426.84 L92.12,425.23 L92.43,423.67 L92.75,422.14 L93.07,420.65 L93.38,419.20 L93.70,417.79 L94.02,416.42 L94.33,415.10 L94.65,413.81 L94.96,412.57 L95.28,411.38 L95.60,410.22 L95.91,409.12 L96.23,408.05 L96.55,407.04 L96.86,406.06 L97.18,405.14 L97.50,404.26 L97.81,403.42 L98.13,402.64 L98.44,401.90 L98.76,401.21 L99.08,400.57 L99.39,399.97 L99.71,399.43 L100.03,398.93 L100.34,398.48 L100.66,398.08 L100.98,397.73 L101.29,397.43 L101.61,397.18 L101.92,396.98 L102.24,396.83 L102.56,396.73 L102.87,396.68 L103.19,396.68 L103.51,396.72 L103.82,396.82 L104.14,396.97 L104.45,397.17 L104.77,397.41 L105.09,397.71 L105.40,398.05 L105.72,398.45 L106.04,398.89 L106.35,399.39 L106.67,399.93 L106.99,400.52 L107.30,401.16 L107.62,401.84 L107.93,402.58 L108.25,403.36 L108.57,404.19 L108.88,405.07 L109.20,405.99 L109.52,406.96 L109.83,407.97 L110.15,409.03 L110.46,410.13 L110.78,411.28 L111.10,412.48 L111.41,413.71 L111.73,414.99 L112.05,416.31 L112.36,417.68 L112.68,419.08 L113.00,420.53 L113.31,422.02 L113.63,423.54 L113.94,425.11 L114.26,426.71 L114.58,428.35 L114.89,430.03 L115.21,431.75 L115.53,433.50 L115.84,435.28 L116.16,437.10 L116.47,438.96 L116.79,440.85 L117.11,442.76 L117.42,444.72 L117.74,446.70 L118.06,448.71 L118.37,450.75 L118.69,452.82 L119.01,454.91 L119.32,457.03 L119.64,459.18 L119.95,461.35 L120.27,463.55 L120.59,465.77 L120.90,468.01 L121.22,470.28 L121.54,472.56 L121.85,474.86 L122.17,477.18 L122.48,479.52 L122.80,481.88 L123.12,484.25 L123.43,486.64 L123.75,489.04 L124.07,491.45 L124.38,493.88 L124.70,496.31 L125.02,498.76 L125.33,501.21 L125.65,503.68 L125.96,506.15 L126.28,508.62 L126.60,511.11 L126.91,513.59 L127.23,516.08 L127.55,518.57 L127.86,521.06 L128.18,523.55 L128.49,526.04 L128.81,528.53 L129.13,531.02 L129.44,533.50 L129.76,535.98 L130.08,538.45 L130.39,540.91 L130.71,543.37 L131.03,545.82 L131.34,548.26 L131.66,550.68 L131.97,553.10 L132.29,555.50 L132.61,557.89 L132.92,560.26 L133.24,562.62 L133.56,564.96 L133.87,567.29 L134.19,569.59 L134.50,571.88 L134.82,574.15 L135.14,576.39 L135.45,578.62 L135.77,580.82 L136.09,582.99 L136.40,585.15 L136.72,587.27 L137.04,589.37 L137.35,591.44 L137.67,593.49 L137.98,595.51 L138.30,597.49 L138.62,599.45 L138.93,601.37 L139.25,603.26 L139.57,605.12 L139.88,606.95 L140.20,608.74 L140.52,610.50 L140.83,612.22 L141.15,613.90 L141.46,615.55 L141.78,617.16 L142.10,618.73 L142.41,620.26 L142.73,621.76 L143.05,623.21 L143.36,624.62 L143.68,625.99 L143.99,627.32 L144.31,628.61 L144.63,629.85 L144.94,631.05 L145.26,632.21 L145.58,633.32 L145.89,634.38 L146.21,635.41 L146.53,636.38 L146.84,637.31 L147.16,638.19 L147.47,639.03 L147.79,639.82 L148.11,640.56 L148.42,641.26 L148.74,641.90 L149.06,642.50 L149.37,643.05 L149.69,643.55 L150.00,644.00 L150.32,644.41 L150.64,644.76 L150.95,645.06 L151.27,645.32 L151.59,645.52 L151.90,645.68 L152.22,645.78 L152.54,645.84 L152.85,645.85 L153.17,645.80 L153.48,645.71 L153.80,645.57 L154.12,645.37 L154.43,645.13 L154.75,644.84 L155.07,644.50 L155.38,644.10 L155.70,643.66 L156.01,643.17 L156.33,642.64 L156.65,642.05 L156.96,641.42 L157.28,640.73 L157.60,640.00 L157.91,639.22 L158.23,638.40 L158.55,637.53 L158.86,636.61 L159.18,635.64 L159.49,634.63 L159.81,633.58 L160.13,632.47 L160.44,631.33 L160.76,630.14 L161.08,628.91 L161.39,627.63 L161.71,626.31 L162.02,624.95 L162.34,623.55 L162.66,622.11 L162.97,620.62 L163.29,619.10 L163.61,617.54 L163.92,615.94 L164.24,614.30 L164.56,612.62 L164.87,610.91 L165.19,609.16 L165.50,607.38 L165.82,605.56 L166.14,603.71 L166.45,601.83 L166.77,599.91 L167.09,597.96 L167.40,595.98 L167.72,593.97 L168.03,591.94 L168.35,589.87 L168.67,587.78 L168.98,585.66 L169.30,583.51 L169.62,581.34 L169.93,579.14 L170.25,576.93 L170.57,574.69 L170.88,572.42 L171.20,570.14 L171.51,567.84 L171.83,565.52 L172.15,563.18 L172.46,560.83 L172.78,558.46 L173.10,556.07 L173.41,553.67 L173.73,551.26 L174.04,548.84 L174.36,546.40 L174.68,543.96 L174.99,541.50 L175.31,539.04 L175.63,536.57 L175.94,534.09 L176.26,531.61 L176.58,529.13 L176.89,526.64 L177.21,524.15 L177.52,521.66 L177.84,519.17 L178.16,516.67 L178.47,514.19 L178.79,511.70 L179.11,509.22 L179.42,506.74 L179.74,504.27 L180.06,501.80 L180.37,499.35 L180.69,496.90 L181.00,494.46 L181.32,492.03 L181.64,489.61 L181.95,487.21 L182.27,484.82 L182.59,482.45 L182.90,480.09 L183.22,477.74 L183.53,475.42 L183.85,473.11 L184.17,470.82 L184.48,468.55 L184.80,466.30 L185.12,464.08 L185.43,461.88 L185.75,459.70 L186.07,457.54 L186.38,455.42 L186.70,453.31 L187.01,451.24 L187.33,449.19 L187.65,447.17 L187.96,445.19 L188.28,443.23 L188.60,441.30 L188.91,439.41 L189.23,437.54 L189.54,435.72 L189.86,433.92 L190.18,432.16 L190.49,430.44 L190.81,428.75 L191.13,427.10 L191.44,425.49 L191.76,423.91 L192.08,422.38 L192.39,420.88 L192.71,419.43 L193.02,418.01 L193.34,416.64 L193.66,415.30 L193.97,414.01 L194.29,412.77 L194.61,411.56 L194.92,410.41 L195.24,409.29 L195.55,408.22 L195.87,407.19 L196.19,406.22 L196.50,405.28 L196.82,404.39 L197.14,403.55 L197.45,402.76 L197.77,402.02 L198.09,401.32 L198.40,400.67 L198.72,400.06 L199.03,399.51 L199.35,399.01 L199.67,398.55 L199.98,398.14 L200.30,397.79 L200.62,397.48 L200.93,397.22 L201.25,397.01 L201.56,396.85 L201.88,396.74 L202.20,396.68 L202.51,396.67 L202.83,396.71 L203.15,396.80 L203.46,396.94 L203.78,397.13 L204.10,397.37 L204.41,397.66 L204.73,398.00 L205.04,398.38 L205.36,398.82 L205.68,399.30 L205.99,399.84 L206.31,400.42 L206.63,401.05 L206.94,401.73 L207.26,402.46 L207.57,403.23 L207.89,404.05 L208.21,404.92 L208.52,405.84 L208.84,406.80 L209.16,407.81 L209.47,408.86 L209.79,409.96 L210.11,411.10 L210.42,412.28 L210.74,413.51 L211.05,414.79 L211.37,416.10 L211.69,417.46 L212.00,418.86 L212.32,420.30 L212.64,421.78 L212.95,423.30 L213.27,424.86 L213.58,426.45 L213.90,428.09 L214.22,429.76 L214.53,431.47 L214.85,433.22 L215.17,435.00 L215.48,436.81 L215.80,438.66 L216.12,440.54 L216.43,442.46 L216.75,444.40 L217.06,446.38 L217.38,448.39 L217.70,450.42 L218.01,452.48 L218.33,454.58 L218.65,456.69 L218.96,458.84 L219.28,461.01 L219.60,463.20 L219.91,465.42 L220.23,467.65 L220.54,469.91 L220.86,472.19 L221.18,474.49 L221.49,476.81 L221.81,479.15 L222.13,481.50 L222.44,483.87 L222.76,486.26 L223.07,488.66 L223.39,491.07 L223.71,493.49 L224.02,495.92 L224.34,498.37 L224.66,500.82 L224.97,503.29 L225.29,505.75 L225.61,508.23 L225.92,510.71 L226.24,513.19 L226.55,515.68 L226.87,518.17 L227.19,520.66 L227.50,523.16 L227.82,525.65 L228.14,528.14 L228.45,530.62 L228.77,533.11 L229.08,535.58 L229.40,538.06 L229.72,540.52 L230.03,542.98 L230.35,545.43 L230.67,547.87 L230.98,550.30 L231.30,552.71 L231.62,555.12 L231.93,557.51 L232.25,559.89 L232.56,562.25 L232.88,564.59 L233.20,566.92 L233.51,569.23 L233.83,571.52 L234.15,573.79 L234.46,576.04 L234.78,578.26 L235.09,580.47 L235.41,582.65 L235.73,584.80 L236.04,586.94 L236.36,589.04 L236.68,591.12 L236.99,593.17 L237.31,595.19 L237.63,597.18 L237.94,599.14 L238.26,601.07 L238.57,602.96 L238.89,604.83 L239.21,606.66 L239.52,608.46 L239.84,610.22 L240.16,611.95 L240.47,613.64 L240.79,615.29 L241.10,616.91 L241.42,618.48 L241.74,620.02 L242.05,621.52 L242.37,622.98 L242.69,624.40 L243.00,625.78 L243.32,627.11 L243.64,628.40 L243.95,629.65 L244.27,630.86 L244.58,632.02 L244.90,633.14 L245.22,634.22 L245.53,635.25 L245.85,636.23 L246.17,637.17 L246.48,638.06 L246.80,638.90 L247.11,639.70 L247.43,640.45 L247.75,641.15 L248.06,641.80 L248.38,642.41 L248.70,642.97 L249.01,643.47 L249.33,643.93 L249.65,644.35 L249.96,644.71 L250.28,645.02 L250.59,645.28 L250.91,645.49 L251.23,645.66 L251.54,645.77 L251.86,645.83 L252.18,645.85 L252.49,645.81 L252.81,645.73 L253.12,645.59 L253.44,645.41 L253.76,645.17 L254.07,644.89 L254.39,644.55 L254.71,644.17 L255.02,643.74 L255.34,643.26 L255.66,642.73 L255.97,642.15 L256.29,641.52 L256.60,640.84 L256.92,640.12 L257.24,639.35 L257.55,638.53 L257.87,637.67 L258.19,636.76 L258.50,635.80 L258.82,634.80 L259.14,633.75 L259.45,632.65 L259.77,631.51 L260.08,630.33 L260.40,629.11 L260.72,627.84 L261.03,626.53 L261.35,625.17 L261.67,623.78 L261.98,622.34 L262.30,620.86 L262.61,619.35 L262.93,617.79 L263.25,616.20 L263.56,614.56 L263.88,612.89 L264.20,611.19 L264.51,609.44 L264.83,607.67 L265.15,605.85 L265.46,604.01 L265.78,602.13 L266.09,600.22 L266.41,598.27 L266.73,596.30 L267.04,594.30 L267.36,592.26 L267.68,590.20 L267.99,588.11 L268.31,586.00 L268.62,583.85 L268.94,581.69 L269.26,579.50 L269.57,577.28 L269.89,575.04 L270.21,572.79 L270.52,570.51 L270.84,568.21 L271.16,565.89 L271.47,563.56 L271.79,561.20 L272.10,558.84 L272.42,556.45 L272.74,554.06 L273.05,551.65 L273.37,549.22 L273.69,546.79 L274.00,544.35 L274.32,541.89 L274.63,539.43 L274.95,536.96 L275.27,534.49 L275.58,532.01 L275.90,529.52 L276.22,527.04 L276.53,524.55 L276.85,522.05 L277.17,519.56 L277.48,517.07 L277.80,514.58 L278.11,512.09 L278.43,509.61 L278.75,507.13 L279.06,504.66 L279.38,502.19 L279.70,499.74 L280.01,497.29 L280.33,494.85 L280.64,492.42 L280.96,490.00 L281.28,487.59 L281.59,485.20 L281.91,482.82 L282.23,480.46 L282.54,478.11 L282.86,475.79 L283.18,473.47 L283.49,471.18 L283.81,468.91 L284.12,466.66 L284.44,464.43 L284.76,462.23 L285.07,460.04 L285.39,457.89 L285.71,455.75 L286.02,453.65 L286.34,451.57 L286.65,449.52 L286.97,447.49 L287.29,445.50 L287.60,443.54 L287.92,441.61 L288.24,439.71 L288.55,437.84 L288.87,436.00 L289.19,434.20 L289.50,432.44 L289.82,430.71 L290.13,429.02 L290.45,427.36 L290.77,425.74 L291.08,424.16 L291.40,422.62 L291.72,421.12 L292.03,419.65 L292.35,418.23 L292.66,416.85 L292.98,415.51 L293.30,414.22 L293.61,412.96 L293.93,411.75 L294.25,410.59 L294.56,409.46 L294.88,408.39 L295.20,407.35 L295.51,406.37 L295.83,405.43 L296.14,404.53 L296.46,403.68 L296.78,402.88 L297.09,402.13 L297.41,401.43 L297.73,400.77 L298.04,400.16 L298.36,399.60 L298.68,399.08 L298.99,398.62 L299.31,398.21 L299.62,397.84 L299.94,397.52 L300.26,397.26 L300.57,397.04 L300.89,396.87 L301.21,396.76 L301.52,396.69 L301.84,396.67 L302.15,396.70 L302.47,396.78 L302.79,396.92 L303.10,397.10 L303.42,397.33 L303.74,397.61 L304.05,397.94 L304.37,398.32 L304.69,398.75 L305.00,399.22 L305.32,399.75 L305.63,400.33 L305.95,400.95 L306.27,401.62 L306.58,402.34 L306.90,403.11 L307.22,403.92 L307.53,404.78 L307.85,405.69 L308.16,406.64 L308.48,407.64 L308.80,408.69 L309.11,409.78 L309.43,410.91 L309.75,412.09 L310.06,413.31 L310.38,414.58 L310.70,415.89 L311.01,417.24 L311.33,418.63 L311.64,420.06 L311.96,421.54 L312.28,423.05 L312.59,424.60 L312.91,426.20 L313.23,427.83 L313.54,429.49 L313.86,431.20 L314.17,432.94 L314.49,434.71 L314.81,436.52 L315.12,438.36 L315.44,440.24 L315.76,442.15 L316.07,444.09 L316.39,446.06 L316.71,448.06 L317.02,450.09 L317.34,452.15 L317.65,454.24 L317.97,456.35 L318.29,458.49 L318.60,460.66 L318.92,462.85 L319.24,465.06 L319.55,467.30 L319.87,469.55 L320.18,471.83 L320.50,474.13 L320.82,476.44 L321.13,478.78 L321.45,481.13 L321.77,483.49 L322.08,485.88 L322.40,488.27 L322.72,490.68 L323.03,493.10 L323.35,495.54 L323.66,497.98 L323.98,500.43 L324.30,502.89 L324.61,505.36 L324.93,507.83 L325.25,510.31 L325.56,512.80 L325.88,515.29 L326.19,517.78 L326.51,520.27 L326.83,522.76 L327.14,525.25 L327.46,527.74 L327.78,530.23 L328.09,532.71 L328.41,535.19 L328.73,537.66 L329.04,540.13 L329.36,542.59 L329.67,545.04 L329.99,547.48 L330.31,549.91 L330.62,552.33 L330.94,554.74 L331.26,557.13 L331.57,559.51 L331.89,561.87 L332.20,564.22 L332.52,566.55 L332.84,568.86 L333.15,571.16 L333.47,573.43 L333.79,575.68 L334.10,577.91 L334.42,580.12 L334.74,582.30 L335.05,584.46 L335.37,586.60 L335.68,588.71 L336.00,590.79 L336.32,592.84 L336.63,594.87 L336.95,596.86 L337.27,598.83 L337.58,600.76 L337.90,602.66 L338.22,604.53 L338.53,606.37 L338.85,608.17 L339.16,609.94 L339.48,611.67 L339.80,613.37 L340.11,615.03 L340.43,616.65 L340.75,618.23 L341.06,619.78 L341.38,621.29 L341.69,622.75 L342.01,624.18 L342.33,625.56 L342.64,626.90 L342.96,628.20 L343.28,629.46 L343.59,630.67 L343.91,631.84 L344.23,632.97 L344.54,634.05 L344.86,635.08 L345.17,636.08 L345.49,637.02 L345.81,637.92 L346.12,638.77 L346.44,639.57 L346.76,640.33 L347.07,641.04 L347.39,641.70 L347.70,642.32 L348.02,642.88 L348.34,643.40 L348.65,643.86 L348.97,644.28 L349.29,644.65 L349.60,644.97 L349.92,645.24 L350.24,645.46 L350.55,645.63 L350.87,645.76 L351.18,645.83 L351.50,645.85 L351.82,645.82 L352.13,645.74 L352.45,645.62 L352.77,645.44 L353.08,645.21 L353.40,644.94 L353.71,644.61 L354.03,644.23 L354.35,643.81 L354.66,643.34 L354.98,642.81 L355.30,642.24 L355.61,641.62 L355.93,640.96 L356.25,640.24 L356.56,639.48 L356.88,638.67 L357.19,637.81 L357.51,636.90 L357.83,635.95 L358.14,634.96 L358.46,633.92 L358.78,632.83 L359.09,631.70 L359.41,630.52 L359.72,629.30 L360.04,628.04 L360.36,626.74 L360.67,625.39 L360.99,624.00 L361.31,622.57 L361.62,621.10 L361.94,619.59 L362.26,618.04 L362.57,616.45 L362.89,614.83 L363.20,613.16 L363.52,611.46 L363.84,609.72 L364.15,607.95 L364.47,606.14 L364.79,604.30 L365.10,602.43 L365.42,600.52 L365.73,598.59 L366.05,596.62 L366.37,594.62 L366.68,592.59 L367.00,590.53 L367.32,588.45 L367.63,586.33 L367.95,584.20 L368.27,582.03 L368.58,579.85 L368.90,577.64 L369.21,575.40 L369.53,573.15 L369.85,570.87 L370.16,568.58 L370.48,566.26 L370.80,563.93 L371.11,561.58 L371.43,559.21 L371.74,556.83 L372.06,554.44 L372.38,552.03 L372.69,549.61 L373.01,547.18 L373.33,544.74 L373.64,542.28 L373.96,539.82 L374.28,537.36 L374.59,534.88 L374.91,532.40 L375.22,529.92 L375.54,527.43 L375.86,524.94 L376.17,522.45 L376.49,519.96 L376.81,517.47 L377.12,514.98 L377.44,512.49 L377.76,510.01 L378.07,507.53 L378.39,505.05 L378.70,502.59 L379.02,500.13 L379.34,497.68 L379.65,495.23 L379.97,492.80 L380.29,490.38 L380.60,487.97 L380.92,485.58 L381.23,483.20 L381.55,480.84 L381.87,478.49 L382.18,476.15 L382.50,473.84 L382.82,471.55 L383.13,469.27 L383.45,467.02 L383.77,464.79 L384.08,462.58 L384.40,460.39 L384.71,458.23 L385.03,456.09 L385.35,453.98 L385.66,451.90 L385.98,449.84 L386.30,447.81 L386.61,445.82 L386.93,443.85 L387.24,441.91 L387.56,440.01 L387.88,438.13 L388.19,436.29 L388.51,434.49 L388.83,432.72 L389.14,430.98 L389.46,429.28 L389.78,427.62 L390.09,426.00 L390.41,424.41 L390.72,422.86 L391.04,421.35 L391.36,419.88 L391.67,418.46 L391.99,417.07 L392.31,415.72 L392.62,414.42 L392.94,413.16 L393.25,411.94 L393.57,410.77 L393.89,409.64 L394.20,408.56 L394.52,407.52 L394.84,406.52 L395.15,405.57 L395.47,404.67 L395.79,403.82 L396.10,403.01 L396.42,402.25 L396.73,401.53 L397.05,400.87 L397.37,400.25 L397.68,399.68 L398.00,399.16 L398.32,398.69 L398.63,398.27 L398.95,397.90 L399.26,397.57 L399.58,397.30 L399.90,397.07 L400.21,396.90 L400.53,396.77 L400.85,396.70 L401.16,396.67 L401.48,396.69 L401.80,396.77 L402.11,396.89 L402.43,397.06 L402.74,397.29 L403.06,397.56 L403.38,397.88 L403.69,398.25 L404.01,398.68 L404.33,399.14 L404.64,399.66 L404.96,400.23 L405.27,400.85 L405.59,401.51 L405.91,402.22 L406.22,402.98 L406.54,403.79 L406.86,404.64 L407.17,405.54 L407.49,406.49 L407.81,407.48 L408.12,408.52 L408.44,409.60 L408.75,410.73 L409.07,411.90 L409.39,413.12 L409.70,414.38 L410.02,415.68 L410.34,417.02 L410.65,418.41 L410.97,419.83 L411.28,421.30 L411.60,422.81 L411.92,424.35 L412.23,425.94 L412.55,427.56 L412.87,429.22 L413.18,430.92 L413.50,432.66 L413.82,434.43 L414.13,436.23 L414.45,438.07 L414.76,439.94 L415.08,441.84 L415.40,443.78 L415.71,445.75 L416.03,447.74 L416.35,449.77 L416.66,451.82 L416.98,453.91 L417.30,456.02 L417.61,458.15 L417.93,460.31 L418.24,462.50 L418.56,464.71 L418.88,466.94 L419.19,469.19 L419.51,471.47 L419.83,473.76 L420.14,476.07 L420.46,478.40 L420.77,480.75 L421.09,483.12 L421.41,485.50 L421.72,487.89 L422.04,490.30 L422.36,492.72 L422.67,495.15 L422.99,497.59 L423.31,500.04 L423.62,502.50 L423.94,504.97 L424.25,507.44 L424.57,509.92 L424.89,512.40 L425.20,514.89 L425.52,517.38 L425.84,519.87 L426.15,522.36 L426.47,524.85 L426.78,527.34 L427.10,529.83 L427.42,532.32 L427.73,534.80 L428.05,537.27 L428.37,539.74 L428.68,542.20 L429.00,544.65 L429.32,547.09 L429.63,549.52 L429.95,551.95 L430.26,554.35 L430.58,556.75 L430.90,559.13 L431.21,561.50 L431.53,563.85 L431.85,566.18 L432.16,568.50 L432.48,570.79 L432.79,573.07 L433.11,575.32 L433.43,577.56 L433.74,579.77 L434.06,581.96 L434.38,584.12 L434.69,586.26 L435.01,588.37 L435.33,590.46 L435.64,592.52 L435.96,594.55 L436.27,596.55 L436.59,598.52 L436.91,600.46 L437.22,602.36 L437.54,604.24 L437.86,606.08 L438.17,607.89 L438.49,609.66 L438.80,611.40 L439.12,613.10 L439.44,614.77 L439.75,616.40 L440.07,617.99 L440.39,619.54 L440.70,621.05 L441.02,622.52 L441.34,623.95 L441.65,625.34 L441.97,626.69 L442.28,628.00 L442.60,629.26 L442.92,630.48 L443.23,631.66 L443.55,632.79 L443.87,633.88 L444.18,634.92 L444.50,635.92 L444.81,636.87 L445.13,637.78 L445.45,638.64 L445.76,639.45 L446.08,640.21 L446.40,640.93 L446.71,641.60 L447.03,642.22 L447.35,642.79 L447.66,643.32 L447.98,643.79 L448.29,644.22 L448.61,644.60 L448.93,644.92 L449.24,645.20 L449.56,645.43 L449.88,645.61 L450.19,645.74 L450.51,645.82 L450.82,645.85 L451.14,645.83 L451.46,645.76 L451.77,645.64 L452.09,645.47 L452.41,645.25 L452.72,644.98 L453.04,644.66 L453.36,644.30 L453.67,643.88 L453.99,643.41 L454.30,642.90 L454.62,642.34 L454.94,641.72 L455.25,641.06 L455.57,640.36 L455.89,639.60 L456.20,638.80 L456.52,637.95 L456.84,637.05 L457.15,636.11 L457.47,635.12 L457.78,634.09 L458.10,633.01 L458.42,631.88 L458.73,630.71 L459.05,629.50 L459.37,628.25 L459.68,626.95 L460.00,625.61 L460.31,624.23 L460.63,622.80 L460.95,621.34 L461.26,619.83 L461.58,618.29 L461.90,616.71 L462.21,615.09 L462.53,613.43 L462.85,611.73 L463.16,610.00 L463.48,608.24 L463.79,606.43 L464.11,604.60 L464.43,602.73 L464.74,600.83 L465.06,598.90 L465.38,596.93 L465.69,594.94 L466.01,592.91 L466.32,590.86 L466.64,588.78 L466.96,586.67 L467.27,584.54 L467.59,582.38 L467.91,580.20 L468.22,577.99 L468.54,575.76 L468.86,573.51 L469.17,571.24 L469.49,568.94 L469.80,566.63 L470.12,564.30 L470.44,561.96 L470.75,559.59 L471.07,557.21 L471.39,554.82 L471.70,552.41 L472.02,550.00 L472.33,547.57 L472.65,545.13 L472.97,542.67 L473.28,540.22 L473.60,537.75 L473.92,535.28 L474.23,532.80 L474.55,530.31 L474.87,527.83 L475.18,525.34 L475.50,522.85 L475.81,520.36 L476.13,517.86 L476.45,515.37 L476.76,512.89 L477.08,510.40 L477.40,507.92 L477.71,505.45 L478.03,502.98 L478.34,500.52 L478.66,498.07 L478.98,495.62 L479.29,493.19 L479.61,490.77 L479.93,488.36 L480.24,485.96 L480.56,483.58 L480.88,481.21 L481.19,478.86 L481.51,476.52 L481.82,474.21 L482.14,471.91 L482.46,469.63 L482.77,467.38 L483.09,465.14 L483.41,462.93 L483.72,460.74 L484.04,458.57 L484.35,456.43 L484.67,454.32 L484.99,452.23 L485.30,450.17 L485.62,448.13 L485.94,446.13 L486.25,444.16 L486.57,442.22 L486.89,440.31 L487.20,438.43 L487.52,436.58 L487.83,434.77 L488.15,433.00 L488.47,431.26 L488.78,429.55 L489.10,427.88 L489.42,426.25 L489.73,424.66 L490.05,423.11 L490.36,421.59 L490.68,420.12 L491.00,418.68 L491.31,417.29 L491.63,415.94 L491.95,414.63 L492.26,413.36 L492.58,412.13 L492.90,410.95 L493.21,409.82 L493.53,408.73 L493.84,407.68 L494.16,406.68 L494.48,405.72 L494.79,404.81 L495.11,403.95 L495.43,403.13 L495.74,402.37 L496.06,401.64 L496.38,400.97 L496.69,400.35 L497.01,399.77 L497.32,399.24 L497.64,398.76 L497.96,398.33 L498.27,397.95 L498.59,397.62 L498.91,397.34 L499.22,397.10 L499.54,396.92 L499.85,396.79 L500.17,396.70 L500.49,396.67 L500.80,396.69 L501.12,396.75 L501.44,396.87 L501.75,397.03 L502.07,397.25 L502.39,397.51 L502.70,397.83 L503.02,398.19 L503.33,398.60 L503.65,399.07 L503.97,399.58 L504.28,400.14 L504.60,400.74 L504.92,401.40 L505.23,402.11 L505.55,402.86 L505.86,403.66 L506.18,404.50 L506.50,405.39 L506.81,406.33 L507.13,407.32 L507.45,408.35 L507.76,409.43 L508.08,410.55 L508.40,411.71 L508.71,412.92 L509.03,414.17 L509.34,415.47 L509.66,416.80 L509.98,418.18 L510.29,419.60 L510.61,421.06 L510.93,422.57 L511.24,424.11 L511.56,425.68 L511.87,427.30 L512.19,428.96 L512.51,430.65 L512.82,432.38 L513.14,434.14 L513.46,435.94 L513.77,437.77 L514.09,439.64 L514.41,441.54 L514.72,443.47 L515.04,445.43 L515.35,447.42 L515.67,449.44 L515.99,451.49 L516.30,453.57 L516.62,455.68 L516.94,457.81 L517.25,459.97 L517.57,462.15 L517.88,464.35 L518.20,466.58 L518.52,468.83 L518.83,471.10 L519.15,473.39 L519.47,475.70 L519.78,478.03 L520.10,480.38 L520.42,482.74 L520.73,485.12 L521.05,487.51 L521.36,489.91 L521.68,492.33 L522.00,494.76 L522.31,497.20 L522.63,499.65 L522.95,502.11 L523.26,504.57 L523.58,507.05 L523.89,509.52 L524.21,512.01 L524.53,514.49 L524.84,516.98 L525.16,519.47 L525.48,521.97 L525.79,524.46 L526.11,526.95 L526.43,529.44 L526.74,531.92 L527.06,534.40 L527.37,536.88 L527.69,539.34 L528.01,541.81 L528.32,544.26 L528.64,546.70 L528.96,549.14 L529.27,551.56 L529.59,553.97 L529.90,556.37 L530.22,558.75 L530.54,561.12 L530.85,563.47 L531.17,565.81 L531.49,568.13 L531.80,570.43 L532.12,572.71 L532.44,574.97 L532.75,577.20 L533.07,579.42 L533.38,581.61 L533.70,583.78 L534.02,585.92 L534.33,588.04 L534.65,590.13 L534.97,592.19 L535.28,594.22 L535.60,596.23 L535.92,598.20 L536.23,600.15 L536.55,602.06 L536.86,603.94 L537.18,605.79 L537.50,607.60 L537.81,609.38 L538.13,611.13 L538.45,612.83 L538.76,614.50 L539.08,616.14 L539.39,617.73 L539.71,619.29 L540.03,620.81 L540.34,622.29 L540.66,623.73 L540.98,625.12 L541.29,626.48 L541.61,627.79 L541.93,629.06 L542.24,630.29 L542.56,631.47 L542.87,632.61 L543.19,633.71 L543.51,634.76 L543.82,635.76 L544.14,636.72 L544.46,637.64 L544.77,638.50 L545.09,639.32 L545.40,640.09 L545.72,640.82 L546.04,641.50 L546.35,642.13 L546.67,642.71 L546.99,643.24 L547.30,643.72 L547.62,644.16 L547.94,644.54 L548.25,644.88 L548.57,645.16 L548.88,645.40 L549.20,645.59 L549.52,645.72 L549.83,645.81 L550.15,645.85 L550.47,645.84 L550.78,645.77 L551.10,645.66 L551.41,645.50 L551.73,645.29 L552.05,645.03 L552.36,644.72 L552.68,644.36 L553.00,643.95 L553.31,643.49 L553.63,642.98 L553.95,642.43 L554.26,641.83 L554.58,641.17 L554.89,640.47 L555.21,639.72 L555.53,638.93 L555.84,638.09 L556.16,637.20 L556.48,636.26 L556.79,635.28 L557.11,634.25 L557.42,633.18 L557.74,632.06 L558.06,630.90 L558.37,629.70 L558.69,628.45 L559.01,627.16 L559.32,625.82 L559.64,624.45 L559.96,623.03 L560.27,621.57 L560.59,620.08 L560.90,618.54 L561.22,616.96 L561.54,615.35 L561.85,613.70 L562.17,612.01 L562.49,610.28 L562.80,608.52 L563.12,606.72 L563.43,604.89 L563.75,603.03 L564.07,601.13 L564.38,599.21 L564.70,597.25 L565.02,595.26 L565.33,593.24 L565.65,591.19 L565.97,589.11 L566.28,587.01 L566.60,584.88 L566.91,582.73 L567.23,580.55 L567.55,578.34 L567.86,576.12 L568.18,573.87 L568.50,571.60 L568.81,569.31 L569.13,567.00 L569.44,564.67 L569.76,562.33 L570.08,559.97 L570.39,557.59 L570.71,555.20 L571.03,552.80 L571.34,550.38 L571.66,547.95 L571.98,545.51 L572.29,543.07 L572.61,540.61 L572.92,538.14 L573.24,535.67 L573.56,533.19 L573.87,530.71 L574.19,528.22 L574.51,525.74 L574.82,523.24 L575.14,520.75 L575.46,518.26 L575.77,515.77 L576.09,513.28 L576.40,510.80 L576.72,508.32 L577.04,505.84 L577.35,503.37 L577.67,500.91 L577.99,498.46 L578.30,496.01 L578.62,493.58 L578.93,491.15 L579.25,488.74 L579.57,486.34 L579.88,483.96 L580.20,481.59 L580.52,479.23 L580.83,476.90 L581.15,474.58 L581.47,472.28 L581.78,469.99 L582.10,467.73 L582.41,465.49 L582.73,463.28 L583.05,461.08 L583.36,458.91 L583.68,456.77 L584.00,454.65 L584.31,452.56 L584.63,450.49 L584.94,448.46 L585.26,446.45 L585.58,444.47 L585.89,442.52 L586.21,440.61 L586.53,438.73 L586.84,436.88 L587.16,435.06 L587.48,433.28 L587.79,431.53 L588.11,429.82 L588.42,428.15 L588.74,426.51 L589.06,424.91 L589.37,423.35 L589.69,421.83 L590.01,420.35 L590.32,418.91 L590.64,417.51 L590.95,416.15 L591.27,414.83 L591.59,413.56 L591.90,412.33 L592.22,411.14 L592.54,410.00 L592.85,408.90 L593.17,407.84 L593.49,406.83 L593.80,405.87 L594.12,404.95 L594.43,404.08 L594.75,403.26 L595.07,402.48 L595.38,401.76 L595.70,401.08 L596.02,400.44 L596.33,399.86 L596.65,399.32 L596.96,398.84 L597.28,398.40 L597.60,398.01 L597.91,397.67 L598.23,397.38 L598.55,397.14 L598.86,396.95 L599.18,396.81 L599.50,396.71 L599.81,396.67 L600.13,396.68 L600.44,396.74 L600.76,396.85 L601.08,397.00 L601.39,397.21 L601.71,397.47 L602.03,397.77 L602.34,398.13 L602.66,398.54 L602.97,398.99 L603.29,399.49 L603.61,400.04 L603.92,400.64 L604.24,401.29 L604.56,401.99 L604.87,402.73 L605.19,403.53 L605.51,404.36 L605.82,405.25 L606.14,406.18 L606.45,407.16 L606.77,408.18 L607.09,409.25 L607.40,410.37 L607.72,411.52 L608.04,412.72 L608.35,413.97 L608.67,415.26 L608.98,416.59 L609.30,417.96 L609.62,419.37 L609.93,420.83 L610.25,422.32 L610.57,423.86 L610.88,425.43 L611.20,427.04 L611.52,428.69 L611.83,430.38 L612.15,432.10 L612.46,433.86 L612.78,435.65 L613.10,437.48 L613.41,439.34 L613.73,441.23 L614.05,443.16 L614.36,445.12 L614.68,447.10 L615.00,449.12 L615.31,451.17 L615.63,453.24 L615.94,455.34 L616.26,457.47 L616.58,459.62 L616.89,461.80 L617.21,464.00 L617.53,466.23 L617.84,468.47 L618.16,470.74 L618.47,473.03 L618.79,475.33 L619.11,477.66 L619.42,480.00 L619.74,482.36 L620.06,484.74 L620.37,487.13 L620.69,489.53 L621.01,491.94 L621.32,494.37 L621.64,496.81 L621.95,499.26 L622.27,501.72 L622.59,504.18 L622.90,506.65 L623.22,509.13 L623.54,511.61 L623.85,514.10 L624.17,516.59 L624.48,519.08 L624.80,521.57 L625.12,524.06 L625.43,526.55 L625.75,529.04 L626.07,531.52 L626.38,534.01 L626.70,536.48 L627.02,538.95 L627.33,541.41 L627.65,543.87 L627.96,546.32 L628.28,548.75 L628.60,551.18 L628.91,553.59 L629.23,555.99 L629.55,558.37 L629.86,560.75 L630.18,563.10 L630.49,565.44 L630.81,567.76 L631.13,570.06 L631.44,572.34 L631.76,574.61 L632.08,576.85 L632.39,579.07 L632.71,581.26 L633.03,583.43 L633.34,585.58 L633.66,587.70 L633.97,589.80 L634.29,591.86 L634.61,593.90 L634.92,595.91 L635.24,597.89 L635.56,599.84 L635.87,601.76 L636.19,603.64 L636.50,605.50 L636.82,607.32 L637.14,609.10 L637.45,610.85 L637.77,612.56 L638.09,614.24 L638.40,615.88 L638.72,617.48 L639.04,619.05 L639.35,620.57 L639.67,622.06 L639.98,623.50 L640.30,624.90 L640.62,626.27 L640.93,627.59 L641.25,628.86 L641.57,630.10 L641.88,631.29 L642.20,632.44 L642.51,633.54 L642.83,634.60 L643.15,635.61 L643.46,636.57 L643.78,637.49 L644.10,638.37 L644.41,639.20 L644.73,639.98 L645.05,640.71 L645.36,641.39 L645.68,642.03 L645.99,642.62 L646.31,643.16 L646.63,643.65 L646.94,644.09 L647.26,644.48 L647.58,644.83 L647.89,645.12 L648.21,645.36 L648.52,645.56 L648.84,645.70 L649.16,645.80 L649.47,645.85 L649.79,645.84 L650.11,645.79 L650.42,645.68 L650.74,645.53 L651.06,645.33 L651.37,645.07 L651.69,644.77 L652.00,644.42 L652.32,644.02 L652.64,643.57 L652.95,643.07 L653.27,642.52 L653.59,641.92 L653.90,641.28 L654.22,640.59 L654.54,639.85 L654.85,639.06 L655.17,638.22 L655.48,637.34 L655.80,636.41 L656.12,635.44 L656.43,634.42 L656.75,633.36 L657.07,632.25 L657.38,631.09 L657.70,629.89 L658.01,628.65 L658.33,627.37 L658.65,626.04 L658.96,624.67 L659.28,623.26 L659.60,621.81 L659.91,620.32 L660.23,618.79 L660.55,617.22 L660.86,615.61 L661.18,613.96 L661.49,612.28 L661.81,610.56 L662.13,608.80 L662.44,607.01 L662.76,605.19 L663.08,603.33 L663.39,601.44 L663.71,599.52 L664.02,597.56 L664.34,595.58 L664.66,593.56 L664.97,591.52 L665.29,589.45 L665.61,587.35 L665.92,585.22 L666.24,583.07 L666.56,580.89 L666.87,578.69 L667.19,576.47 L667.50,574.23 L667.82,571.96 L668.14,569.68 L668.45,567.37 L668.77,565.05 L669.09,562.70 L669.40,560.35 L669.72,557.97 L670.03,555.58 L670.35,553.18 L670.67,550.77 L670.98,548.34 L671.30,545.90 L671.62,543.46 L671.93,541.00 L672.25,538.54 L672.57,536.07 L672.88,533.59 L673.20,531.11 L673.51,528.62 L673.83,526.13 L674.15,523.64 L674.46,521.15 L674.78,518.66 L675.10,516.17 L675.41,513.68 L675.73,511.19 L676.04,508.71 L676.36,506.24 L676.68,503.76 L676.99,501.30 L677.31,498.85 L677.63,496.40 L677.94,493.96 L678.26,491.54 L678.58,489.12 L678.89,486.72 L679.21,484.34 L679.52,481.96 L679.84,479.61 L680.16,477.27 L680.47,474.94 L680.79,472.64 L681.11,470.36 L681.42,468.09 L681.74,465.85 L682.05,463.63 L682.37,461.43 L682.69,459.26 L683.00,457.11 L683.32,454.99 L683.64,452.89 L683.95,450.82 L684.27,448.78 L684.59,446.77 L684.90,444.78 L685.22,442.83 L685.53,440.91 L685.85,439.02 L686.17,437.17 L686.48,435.35 L686.80,433.56 L687.12,431.81 L687.43,430.09 L687.75,428.41 L688.06,426.77 L688.38,425.16 L688.70,423.60 L689.01,422.07 L689.33,420.58 L689.65,419.13 L689.96,417.73 L690.28,416.36 L690.60,415.04 L690.91,413.76 L691.23,412.52 L691.54,411.32 L691.86,410.17 L692.18,409.07 L692.49,408.01 L692.81,406.99 L693.13,406.02 L693.44,405.10 L693.76,404.22 L694.08,403.39 L694.39,402.61 L694.71,401.87 L695.02,401.18 L695.34,400.54 L695.66,399.95 L695.97,399.40 L696.29,398.91 L696.61,398.46 L696.92,398.07 L697.24,397.72 L697.55,397.42 L697.87,397.17 L698.19,396.97 L698.50,396.83 L698.82,396.73 L699.14,396.68 L699.45,396.68 L699.77,396.73 L700.09,396.83 L700.40,396.98 L700.72,397.18 L701.03,397.42 L701.35,397.72 L701.67,398.07 L701.98,398.47 L702.30,398.91 L702.62,399.41 L702.93,399.95 L703.25,400.55 L703.56,401.19 L703.88,401.88 L704.20,402.61 L704.51,403.40 L704.83,404.23 L705.15,405.11 L705.46,406.03 L705.78,407.00 L706.10,408.02 L706.41,409.08 L706.73,410.18 L707.04,411.34 L707.36,412.53 L707.68,413.77 L707.99,415.05 L708.31,416.37 L708.63,417.74 L708.94,419.15 L709.26,420.59 L709.57,422.08 L709.89,423.61 L710.21,425.18 L710.52,426.78 L710.84,428.43 L711.16,430.11 L711.47,431.82 L711.79,433.58 L712.11,435.36 L712.42,437.19 L712.74,439.04 L713.05,440.93 L713.37,442.85 L713.69,444.80 L714.00,446.79 L714.32,448.80 L714.64,450.84 L714.95,452.91 L715.27,455.01 L715.58,457.13 L715.90,459.28 L716.22,461.45 L716.53,463.65 L716.85,465.87 L717.17,468.11 L717.48,470.38 L717.80,472.66 L718.12,474.97 L718.43,477.29 L718.75,479.63 L719.06,481.98 L719.38,484.36 L719.70,486.74 L720.01,489.15 L720.33,491.56 L720.65,493.99 L720.96,496.42 L721.28,498.87 L721.59,501.32 L721.91,503.79 L722.23,506.26 L722.54,508.73 L722.86,511.22 L723.18,513.70 L723.49,516.19 L723.81,518.68 L724.13,521.17 L724.44,523.66 L724.76,526.15 L725.07,528.64 L725.39,531.13 L725.71,533.61 L726.02,536.09 L726.34,538.56 L726.66,541.02 L726.97,543.48 L727.29,545.93 L727.60,548.36 L727.92,550.79 L728.24,553.20 L728.55,555.61 L728.87,558.00 L729.19,560.37 L729.50,562.73 L729.82,565.07 L730.14,567.39 L730.45,569.70 L730.77,571.98 L731.08,574.25 L731.40,576.49 L731.72,578.72 L732.03,580.91 L732.35,583.09 L732.67,585.24 L732.98,587.37 L733.30,589.46 L733.62,591.54 L733.93,593.58 L734.25,595.59 L734.56,597.58 L734.88,599.53 L735.20,601.46 L735.51,603.35 L735.83,605.20 L736.15,607.03 L736.46,608.82 L736.78,610.57 L737.09,612.29 L737.41,613.98 L737.73,615.62 L738.04,617.23 L738.36,618.80 L738.68,620.33 L738.99,621.82 L739.31,623.27 L739.63,624.68 L739.94,626.05 L740.26,627.38 L740.57,628.66 L740.89,629.90 L741.21,631.10 L741.52,632.26 L741.84,633.37 L742.16,634.43 L742.47,635.45 L742.79,636.42 L743.10,637.35 L743.42,638.23 L743.74,639.07 L744.05,639.85 L744.37,640.59 L744.69,641.29 L745.00,641.93 L745.32,642.53 L745.64,643.07 L745.95,643.57 L746.27,644.02 L746.58,644.42 L746.90,644.77 L747.22,645.08 L747.53,645.33 L747.85,645.53 L748.17,645.68 L748.48,645.79 L748.80,645.84 L749.11,645.85 L749.43,645.80 L749.75,645.70 L750.06,645.56 L750.38,645.36 L750.70,645.12 L751.01,644.82 L751.33,644.48 L751.65,644.09 L751.96,643.64 L752.28,643.15 L752.59,642.61 L752.91,642.02 L753.23,641.39 L753.54,640.70 L753.86,639.97 L754.18,639.19 L754.49,638.36 L754.81,637.49 L755.12,636.57 L755.44,635.60 L755.76,634.59 L756.07,633.53 L756.39,632.43 L756.71,631.28 L757.02,630.09 L757.34,628.85 L757.66,627.57 L757.97,626.25 L758.29,624.89 L758.60,623.49 L758.92,622.04 L759.24,620.56 L759.55,619.03 L759.87,617.47 L760.19,615.87 L760.50,614.23 L760.82,612.55 L761.13,610.83 L761.45,609.08 L761.77,607.30 L762.08,605.48 L762.40,603.63 L762.72,601.74 L763.03,599.82 L763.35,597.87 L763.67,595.89 L763.98,593.88 L764.30,591.84 L764.61,589.78 L764.93,587.68 L765.25,585.56 L765.56,583.41 L765.88,581.24 L766.20,579.05 L766.51,576.83 L766.83,574.59 L767.14,572.32 L767.46,570.04 L767.78,567.74 L768.09,565.42 L768.41,563.08 L768.73,560.72 L769.04,558.35 L769.36,555.97 L769.68,553.57 L769.99,551.15 L770.31,548.73 L770.62,546.29 L770.94,543.85 L771.26,541.39 L771.57,538.93 L771.89,536.46 L772.21,533.98 L772.52,531.50 L772.84,529.02 L773.16,526.53 L773.47,524.04 L773.79,521.55 L774.10,519.05 L774.42,516.56 L774.74,514.07 L775.05,511.59 L775.37,509.11 L775.69,506.63 L776.00,504.16 L776.32,501.69 L776.63,499.24 L776.95,496.79 L777.27,494.35 L777.58,491.92 L777.90,489.51 L778.22,487.10 L778.53,484.71 L778.85,482.34 L779.17,479.98 L779.48,477.64 L779.80,475.31 L780.11,473.01 L780.43,470.72 L780.75,468.45 L781.06,466.21 L781.38,463.98 L781.70,461.78 L782.01,459.60 L782.33,457.45 L782.64,455.32 L782.96,453.22 L783.28,451.15 L783.59,449.10 L783.91,447.09 L784.23,445.10 L784.54,443.14 L784.86,441.22 L785.18,439.32 L785.49,437.46 L785.81,435.63 L786.12,433.84 L786.44,432.08 L786.76,430.36 L787.07,428.68 L787.39,427.03 L787.71,425.42 L788.02,423.84 L788.34,422.31 L788.65,420.82 L788.97,419.36 L789.29,417.95 L789.60,416.58 L789.92,415.25 L790.24,413.96 L790.55,412.71 L790.87,411.51 L791.19,410.35 L791.50,409.24 L791.82,408.17 L792.13,407.15 L792.45,406.17 L792.77,405.24 L793.08,404.36 L793.40,403.52 L793.72,402.73 L794.03,401.98 L794.35,401.29 L794.66,400.64 L794.98,400.04 L795.30,399.49 L795.61,398.99 L795.93,398.53 L796.25,398.13 L796.56,397.77 L796.88,397.47 L797.20,397.21 L797.51,397.00 L797.83,396.85 L798.14,396.74 L798.46,396.68 L798.78,396.67 L799.09,396.72 L799.41,396.81 L799.73,396.95 L800.04,397.14 L800.36,397.38 L800.67,397.67 L800.99,398.01 L801.31,398.40 L801.62,398.84 L801.94,399.33 L802.26,399.86 L802.57,400.45 L802.89,401.08 L803.21,401.76 L803.52,402.49 L803.84,403.27 L804.15,404.09 L804.47,404.96 L804.79,405.88 L805.10,406.84 L805.42,407.85 L805.74,408.91 L806.05,410.01 L806.37,411.15 L806.68,412.34 L807.00,413.57 L807.32,414.84 L807.63,416.16 L807.95,417.52 L808.27,418.92 L808.58,420.36 L808.90,421.84 L809.22,423.36 L809.53,424.93 L809.85,426.52 L810.16,428.16 L810.48,429.84 L810.80,431.55 L811.11,433.29 L811.43,435.08 L811.75,436.89 L812.06,438.74 L812.38,440.63 L812.70,442.54 L813.01,444.49 L813.33,446.47 L813.64,448.47 L813.96,450.51 L814.28,452.58 L814.59,454.67 L814.91,456.79 L815.23,458.93 L815.54,461.10 L815.86,463.30 L816.17,465.51 L816.49,467.75 L816.81,470.01 L817.12,472.30 L817.44,474.60 L817.76,476.92 L818.07,479.25 L818.39,481.61 L818.71,483.98 L819.02,486.36 L819.34,488.76 L819.65,491.17 L819.97,493.60 L820.29,496.03 L820.60,498.48 L820.92,500.93 L821.24,503.39 L821.55,505.86 L821.87,508.34 L822.18,510.82 L822.50,513.31 L822.82,515.79 L823.13,518.28 L823.45,520.78 L823.77,523.27 L824.08,525.76 L824.40,528.25 L824.72,530.73 L825.03,533.22 L825.35,535.69 L825.66,538.17 L825.98,540.63 L826.30,543.09 L826.61,545.54 L826.93,547.98 L827.25,550.40 L827.56,552.82 L827.88,555.23 L828.19,557.62 L828.51,559.99 L828.83,562.35 L829.14,564.70 L829.46,567.02 L829.78,569.33 L830.09,571.62 L830.41,573.89 L830.73,576.14 L831.04,578.36 L831.36,580.57 L831.67,582.75 L831.99,584.90 L832.31,587.03 L832.62,589.13 L832.94,591.21 L833.26,593.26 L833.57,595.28 L833.89,597.26 L834.20,599.22 L834.52,601.15 L834.84,603.05 L835.15,604.91 L835.47,606.74 L835.79,608.54 L836.10,610.30 L836.42,612.02 L836.74,613.71 L837.05,615.36 L837.37,616.98 L837.68,618.55 L838.00,620.09 L838.32,621.59 L838.63,623.04 L838.95,624.46 L839.27,625.84 L839.58,627.17 L839.90,628.46 L840.21,629.71 L840.53,630.91 L840.85,632.07 L841.16,633.19 L841.48,634.26 L841.80,635.29 L842.11,636.27 L842.43,637.21 L842.75,638.09 L843.06,638.94 L843.38,639.73 L843.69,640.48 L844.01,641.18 L844.33,641.83 L844.64,642.43 L844.96,642.99 L845.28,643.50 L845.59,643.95 L845.91,644.36 L846.22,644.72 L846.54,645.03 L846.86,645.29 L847.17,645.50 L847.49,645.66 L847.81,645.78 L848.12,645.84 L848.44,645.85 L848.76,645.81 L849.07,645.72 L849.39,645.58 L849.70,645.40 L850.02,645.16 L850.34,644.87 L850.65,644.54 L850.97,644.15 L851.29,643.72 L851.60,643.23 L851.92,642.70 L852.24,642.12 L852.55,641.49 L852.87,640.81 L853.18,640.09 L853.50,639.32 L853.82,638.50 L854.13,637.63 L854.45,636.72 L854.77,635.76 L855.08,634.75 L855.40,633.70 L855.71,632.60 L856.03,631.46 L856.35,630.28 L856.66,629.05 L856.98,627.78 L857.30,626.47 L857.61,625.11 L857.93,623.71 L858.25,622.28 L858.56,620.80 L858.88,619.28 L859.19,617.72 L859.51,616.12 L859.83,614.49 L860.14,612.82 L860.46,611.11 L860.78,609.37 L861.09,607.59 L861.41,605.77 L861.72,603.93 L862.04,602.04 L862.36,600.13 L862.67,598.19 L862.99,596.21 L863.31,594.21 L863.62,592.17 L863.94,590.11 L864.26,588.02 L864.57,585.90 L864.89,583.76 L865.20,581.59 L865.52,579.40 L865.84,577.18 L866.15,574.94 L866.47,572.69 L866.79,570.41 L867.10,568.11 L867.42,565.79 L867.73,563.45 L868.05,561.10 L868.37,558.73 L868.68,556.35 L869.00,553.95 L869.32,551.54 L869.63,549.12 L869.95,546.68 L870.27,544.24 L870.58,541.78 L870.90,539.32 L871.21,536.85 L871.53,534.38 L871.85,531.90 L872.16,529.41 L872.48,526.92 L872.80,524.43 L873.11,521.94 L873.43,519.45 L873.74,516.96 L874.06,514.47 L874.38,511.98 L874.69,509.50 L875.01,507.02 L875.33,504.55 L875.64,502.09 L875.96,499.63 L876.28,497.18 L876.59,494.74 L876.91,492.31 L877.22,489.89 L877.54,487.49 L877.86,485.09 L878.17,482.72 L878.49,480.36 L878.81,478.01 L879.12,475.68 L879.44,473.37 L879.75,471.08 L880.07,468.81 L880.39,466.56 L880.70,464.33 L881.02,462.13 L881.34,459.95 L881.65,457.79 L881.97,455.66 L882.29,453.55 L882.60,451.48 L882.92,449.43 L883.23,447.40 L883.55,445.41 L883.87,443.45 L884.18,441.52 L884.50,439.62 L884.82,437.76 L885.13,435.92 L885.45,434.13 L885.76,432.36 L886.08,430.63 L886.40,428.94 L886.71,427.29 L887.03,425.67 L887.35,424.09 L887.66,422.55 L887.98,421.05 L888.30,419.59 L888.61,418.17 L888.93,416.79 L889.24,415.45 L889.56,414.16 L889.88,412.91 L890.19,411.70 L890.51,410.54 L890.83,409.42 L891.14,408.34 L891.46,407.31 L891.78,406.33 L892.09,405.39 L892.41,404.49 L892.72,403.65 L893.04,402.85 L893.36,402.10 L893.67,401.39 L893.99,400.74 L894.31,400.13 L894.62,399.57 L894.94,399.06 L895.25,398.60 L895.57,398.19 L895.89,397.83 L896.20,397.51 L896.52,397.25 L896.84,397.03 L897.15,396.87 L897.47,396.75 L897.79,396.69 L898.10,396.67 L898.42,396.71 L898.73,396.79 L899.05,396.92 L899.37,397.11 L899.68,397.34 L900.00,397.62 L900.32,397.95 L900.63,398.34 L900.95,398.77 L901.26,399.25 L901.58,399.77 L901.90,400.35 L902.21,400.98 L902.53,401.65 L902.85,402.37 L903.16,403.14 L903.48,403.96 L903.80,404.82 L904.11,405.73 L904.43,406.69 L904.74,407.69 L905.06,408.74 L905.38,409.83 L905.69,410.96 L906.01,412.15 L906.33,413.37 L906.64,414.64 L906.96,415.95 L907.27,417.30 L907.59,418.69 L907.91,420.13 L908.22,421.60 L908.54,423.12 L908.86,424.67 L909.17,426.27 L909.49,427.90 L909.81,429.57 L910.12,431.27 L910.44,433.01 L910.75,434.79 L911.07,436.60 L911.39,438.45 L911.70,440.32 L912.02,442.24 L912.34,444.18 L912.65,446.15 L912.97,448.15 L913.28,450.19 L913.60,452.25 L913.92,454.33 L914.23,456.45 L914.55,458.59 L914.87,460.76 L915.18,462.95 L915.50,465.16 L915.82,467.40 L916.13,469.65 L916.45,471.93 L916.76,474.23 L917.08,476.55 L917.40,478.88 L917.71,481.23 L918.03,483.60 L918.35,485.98 L918.66,488.38 L918.98,490.79 L919.29,493.21 L919.61,495.64 L919.93,498.09 L920.24,500.54 L920.56,503.00 L920.88,505.47 L921.19,507.94 L921.51,510.43 L921.83,512.91 L922.14,515.40 L922.46,517.89 L922.77,520.38 L923.09,522.87 L923.41,525.36 L923.72,527.85 L924.04,530.34 L924.36,532.82 L924.67,535.30 L924.99,537.77 L925.30,540.24 L925.62,542.70 L925.94,545.15 L926.25,547.59 L926.57,550.02 L926.89,552.44 L927.20,554.84 L927.52,557.24 L927.84,559.61 L928.15,561.98 L928.47,564.32 L928.78,566.65 L929.10,568.96 L929.42,571.26 L929.73,573.53 L930.05,575.78 L930.37,578.01 L930.68,580.22 L931.00,582.40 L931.32,584.56 L931.63,586.69 L931.95,588.80 L932.26,590.88 L932.58,592.93 L932.90,594.96 L933.21,596.95 L933.53,598.91 L933.85,600.85 L934.16,602.75 L934.48,604.62 L934.79,606.45 L935.11,608.25 L935.43,610.02 L935.74,611.75 L936.06,613.44 L936.38,615.10 L936.69,616.72 L937.01,618.30 L937.33,619.85 L937.64,621.35 L937.96,622.81 L938.27,624.24 L938.59,625.62 L938.91,626.96 L939.22,628.26 L939.54,629.51 L939.86,630.72 L940.17,631.89 L940.49,633.02 L940.80,634.10 L941.12,635.13 L941.44,636.12 L941.75,637.06 L942.07,637.96 L942.39,638.81 L942.70,639.61 L943.02,640.36 L943.34,641.07 L943.65,641.73 L943.97,642.34 L944.28,642.90 L944.60,643.42 L944.92,643.88 L945.23,644.30 L945.55,644.67 L945.87,644.99 L946.18,645.25 L946.50,645.47 L946.81,645.64 L947.13,645.76 L947.45,645.83 L947.76,645.85 L948.08,645.82 L948.40,645.74 L948.71,645.61 L949.03,645.43 L949.35,645.20 L949.66,644.92 L949.98,644.59 L950.29,644.22 L950.61,643.79 L950.93,643.31 L951.24,642.79 L951.56,642.22 L951.88,641.59 L952.19,640.92 L952.51,640.21 L952.82,639.44 L953.14,638.63 L953.46,637.77 L953.77,636.86 L954.09,635.91 L954.41,634.91 L954.72,633.87 L955.04,632.78 L955.36,631.65 L955.67,630.47 L955.99,629.25 L956.30,627.99 L956.62,626.68 L956.94,625.33 L957.25,623.94 L957.57,622.51 L957.89,621.03 L958.20,619.52 L958.52,617.97 L958.83,616.38 L959.15,614.75 L959.47,613.09 L959.78,611.38 L960.10,609.65 L960.42,607.87 L960.73,606.06 L961.05,604.22 L961.37,602.35 L961.68,600.44 L962.00,598.50 L962.31,596.53 L962.63,594.53 L962.95,592.50 L963.26,590.44 L963.58,588.35 L963.90,586.24 L964.21,584.10 L964.53,581.94 L964.84,579.75 L965.16,577.54 L965.48,575.30 L965.79,573.05 L966.11,570.77 L966.43,568.47 L966.74,566.16 L967.06,563.83 L967.38,561.48 L967.69,559.11 L968.01,556.73 L968.32,554.33 L968.64,551.92 L968.96,549.50 L969.27,547.07 L969.59,544.63 L969.91,542.17 L970.22,539.71 L970.54,537.25 L970.86,534.77 L971.17,532.29 L971.49,529.81 L971.80,527.32 L972.12,524.83 L972.44,522.34 L972.75,519.85 L973.07,517.36 L973.39,514.87 L973.70,512.38 L974.02,509.90 L974.33,507.42 L974.65,504.94 L974.97,502.48 L975.28,500.02 L975.60,497.57 L975.92,495.13 L976.23,492.69 L976.55,490.28 L976.87,487.87 L977.18,485.47 L977.50,483.09 L977.81,480.73 L978.13,478.38 L978.45,476.05 L978.76,473.74 L979.08,471.45 L979.40,469.17 L979.71,466.92 L980.03,464.69 L980.34,462.48 L980.66,460.29 L980.98,458.13 L981.29,456.00 L981.61,453.89 L981.93,451.81 L982.24,449.75 L982.56,447.72 L982.88,445.73 L983.19,443.76 L983.51,441.83 L983.82,439.92 L984.14,438.05 L984.46,436.21 L984.77,434.41 L985.09,432.64 L985.41,430.91 L985.72,429.21 L986.04,427.55 L986.35,425.93 L986.67,424.34 L986.99,422.79 L987.30,421.29 L987.62,419.82 L987.94,418.39 L988.25,417.01 L988.57,415.67 L988.89,414.36 L989.20,413.11 L989.52,411.89 L989.83,410.72 L990.15,409.59 L990.47,408.51 L990.78,407.47 L991.10,406.48 L991.42,405.53 L991.73,404.63 L992.05,403.78 L992.36,402.97 L992.68,402.21 L993.00,401.50 L993.31,400.84 L993.63,400.23 L993.95,399.66 L994.26,399.14 L994.58,398.67 L994.90,398.25 L995.21,397.88 L995.53,397.56 L995.84,397.29 L996.16,397.06 L996.48,396.89 L996.79,396.77 L997.11,396.69 L997.43,396.67 L997.74,396.70 L998.06,396.77 L998.37,396.90 L998.69,397.07 L999.01,397.30 L999.32,397.57 L999.64,397.90 L999.96,398.27 L1000.27,398.69 L1000.59,399.17 L1000.91,399.69 L1001.22,400.26 L1001.54,400.87 L1001.85,401.54 L1002.17,402.25 L1002.49,403.02 L1002.80,403.82 L1003.12,404.68 L1003.44,405.58 L1003.75,406.53 L1004.07,407.53 L1004.38,408.57 L1004.70,409.65 L1005.02,410.78 L1005.33,411.95 L1005.65,413.17 L1005.97,414.43 L1006.28,415.74 L1006.60,417.08 L1006.92,418.47 L1007.23,419.90 L1007.55,421.37 L1007.86,422.88 L1008.18,424.42 L1008.50,426.01 L1008.81,427.64 L1009.13,429.30 L1009.45,431.00 L1009.76,432.73 L1010.08,434.51 L1010.40,436.31 L1010.71,438.15 L1011.03,440.02 L1011.34,441.93 L1011.66,443.87 L1011.98,445.83 L1012.29,447.83 L1012.61,449.86 L1012.93,451.92 L1013.24,454.00 L1013.56,456.11 L1013.87,458.25 L1014.19,460.41 L1014.51,462.60 L1014.82,464.81 L1015.14,467.04 L1015.46,469.29 L1015.77,471.57 L1016.09,473.86 L1016.41,476.18 L1016.72,478.51 L1017.04,480.86 L1017.35,483.22 L1017.67,485.60 L1017.99,488.00 L1018.30,490.40 L1018.62,492.82 L1018.94,495.26 L1019.25,497.70 L1019.57,500.15 L1019.88,502.61 L1020.20,505.08 L1020.52,507.55 L1020.83,510.03 L1021.15,512.51 L1021.47,515.00 L1021.78,517.49 L1022.10,519.98 L1022.42,522.47 L1022.73,524.96 L1023.05,527.45 L1023.36,529.94 L1023.68,532.43 L1024.00,534.91 L1024.31,537.38 L1024.63,539.85 L1024.95,542.31 L1025.26,544.76 L1025.58,547.20 L1025.89,549.63 L1026.21,552.05 L1026.53,554.46 L1026.84,556.86 L1027.16,559.24" stroke="#000" stroke-dasharray="18 9.95"/>
<path d="M78.20,521.26 L78.52,518.77 L78.83,516.28 L79.15,513.78 L79.47,511.29 L79.78,508.80 L80.10,506.31 L80.41,503.82 L80.73,501.33 L81.05,498.84 L81.36,496.35 L81.68,493.87 L82.00,491.39 L82.31,488.91 L82.63,486.43 L82.94,483.96 L83.26,481.49 L83.58,479.02 L83.89,476.56 L84.21,474.11 L84.53,471.66 L84.84,469.22 L85.16,466.78 L85.48,464.35 L85.79,461.93 L86.11,459.52 L86.42,457.12 L86.74,454.73 L87.06,452.35 L87.37,449.98 L87.69,447.62 L88.01,445.27 L88.32,442.94 L88.64,440.62 L88.95,438.32 L89.27,436.03 L89.59,433.76 L89.90,431.50 L90.22,429.26 L90.54,427.04 L90.85,424.84 L91.17,422.66 L91.49,420.50 L91.80,418.36 L92.12,416.24 L92.43,414.14 L92.75,412.07 L93.07,410.02 L93.38,408.00 L93.70,406.00 L94.02,404.03 L94.33,402.08 L94.65,400.16 L94.96,398.28 L95.28,396.42 L95.60,394.59 L95.91,392.79 L96.23,391.02 L96.55,389.29 L96.86,387.59 L97.18,385.92 L97.50,384.28 L97.81,382.68 L98.13,381.12 L98.44,379.59 L98.76,378.10 L99.08,376.65 L99.39,375.24 L99.71,373.86 L100.03,372.53 L100.34,371.23 L100.66,369.98 L100.98,368.77 L101.29,367.60 L101.61,366.47 L101.92,365.39 L102.24,364.34 L102.56,363.35 L102.87,362.40 L103.19,361.49 L103.51,360.63 L103.82,359.81 L104.14,359.05 L104.45,358.33 L104.77,357.65 L105.09,357.03 L105.40,356.45 L105.72,355.92 L106.04,355.44 L106.35,355.01 L106.67,354.63 L106.99,354.30 L107.30,354.02 L107.62,353.79 L107.93,353.62 L108.25,353.49 L108.57,353.41 L108.88,353.39 L109.20,353.42 L109.52,353.50 L109.83,353.63 L110.15,353.81 L110.46,354.05 L110.78,354.33 L111.10,354.67 L111.41,355.06 L111.73,355.51 L112.05,356.01 L112.36,356.55 L112.68,357.16 L113.00,357.81 L113.31,358.51 L113.63,359.27 L113.94,360.08 L114.26,360.94 L114.58,361.85 L114.89,362.82 L115.21,363.83 L115.53,364.89 L115.84,366.01 L116.16,367.18 L116.47,368.39 L116.79,369.66 L117.11,370.97 L117.42,372.34 L117.74,373.75 L118.06,375.21 L118.37,376.72 L118.69,378.27 L119.01,379.87 L119.32,381.52 L119.64,383.22 L119.95,384.96 L120.27,386.74 L120.59,388.57 L120.90,390.44 L121.22,392.36 L121.54,394.31 L121.85,396.31 L122.17,398.35 L122.48,400.43 L122.80,402.55 L123.12,404.71 L123.43,406.91 L123.75,409.15 L124.07,411.42 L124.38,413.73 L124.70,416.07 L125.02,418.45 L125.33,420.86 L125.65,423.31 L125.96,425.78 L126.28,428.29 L126.60,430.83 L126.91,433.40 L127.23,435.99 L127.55,438.62 L127.86,441.27 L128.18,443.95 L128.49,446.65 L128.81,449.37 L129.13,452.12 L129.44,454.89 L129.76,457.68 L130.08,460.49 L130.39,463.32 L130.71,466.17 L131.03,469.03 L131.34,471.91 L131.66,474.80 L131.97,477.71 L132.29,480.63 L132.61,483.56 L132.92,486.51 L133.24,489.46 L133.56,492.42 L133.87,495.39 L134.19,498.36 L134.50,501.34 L134.82,504.32 L135.14,507.31 L135.45,510.30 L135.77,513.29 L136.09,516.27 L136.40,519.26 L136.72,522.24 L137.04,525.22 L137.35,528.20 L137.67,531.17 L137.98,534.13 L138.30,537.08 L138.62,540.03 L138.93,542.96 L139.25,545.89 L139.57,548.80 L139.88,551.69 L140.20,554.57 L140.52,557.44 L140.83,560.29 L141.15,563.12 L141.46,565.93 L141.78,568.72 L142.10,571.50 L142.41,574.24 L142.73,576.97 L143.05,579.67 L143.36,582.35 L143.68,585.00 L143.99,587.62 L144.31,590.21 L144.63,592.78 L144.94,595.31 L145.26,597.81 L145.58,600.29 L145.89,602.72 L146.21,605.13 L146.53,607.50 L146.84,609.83 L147.16,612.13 L147.47,614.39 L147.79,616.61 L148.11,618.79 L148.42,620.93 L148.74,623.03 L149.06,625.09 L149.37,627.10 L149.69,629.08 L150.00,631.00 L150.32,632.89 L150.64,634.73 L150.95,636.52 L151.27,638.27 L151.59,639.96 L151.90,641.61 L152.22,643.22 L152.54,644.77 L152.85,646.27 L153.17,647.72 L153.48,649.12 L153.80,650.47 L154.12,651.77 L154.43,653.01 L154.75,654.20 L155.07,655.34 L155.38,656.42 L155.70,657.45 L156.01,658.43 L156.33,659.34 L156.65,660.21 L156.96,661.02 L157.28,661.77 L157.60,662.46 L157.91,663.10 L158.23,663.68 L158.55,664.21 L158.86,664.68 L159.18,665.09 L159.49,665.44 L159.81,665.73 L160.13,665.97 L160.44,666.15 L160.76,666.27 L161.08,666.34 L161.39,666.34 L161.71,666.29 L162.02,666.18 L162.34,666.01 L162.66,665.78 L162.97,665.50 L163.29,665.16 L163.61,664.76 L163.92,664.30 L164.24,663.79 L164.56,663.22 L164.87,662.60 L165.19,661.91 L165.50,661.17 L165.82,660.38 L166.14,659.53 L166.45,658.62 L166.77,657.66 L167.09,656.65 L167.40,655.58 L167.72,654.46 L168.03,653.29 L168.35,652.06 L168.67,650.78 L168.98,649.45 L169.30,648.07 L169.62,646.64 L169.93,645.16 L170.25,643.63 L170.57,642.05 L170.88,640.42 L171.20,638.74 L171.51,637.02 L171.83,635.25 L172.15,633.44 L172.46,631.59 L172.78,629.68 L173.10,627.74 L173.41,625.75 L173.73,623.73 L174.04,621.66 L174.36,619.55 L174.68,617.40 L174.99,615.22 L175.31,613.00 L175.63,610.74 L175.94,608.44 L176.26,606.11 L176.58,603.75 L176.89,601.36 L177.21,598.93 L177.52,596.47 L177.84,593.99 L178.16,591.47 L178.47,588.93 L178.79,586.36 L179.11,583.76 L179.42,581.14 L179.74,578.50 L180.06,575.83 L180.37,573.14 L180.69,570.44 L181.00,567.71 L181.32,564.96 L181.64,562.20 L181.95,559.42 L182.27,556.63 L182.59,553.82 L182.90,551.00 L183.22,548.17 L183.53,545.33 L183.85,542.47 L184.17,539.61 L184.48,536.75 L184.80,533.88 L185.12,531.00 L185.43,528.12 L185.75,525.23 L186.07,522.35 L186.38,519.47 L186.70,516.58 L187.01,513.70 L187.33,510.82 L187.65,507.95 L187.96,505.08 L188.28,502.22 L188.60,499.37 L188.91,496.52 L189.23,493.69 L189.54,490.87 L189.86,488.06 L190.18,485.26 L190.49,482.48 L190.81,479.71 L191.13,476.96 L191.44,474.23 L191.76,471.52 L192.08,468.83 L192.39,466.16 L192.71,463.51 L193.02,460.89 L193.34,458.28 L193.66,455.71 L193.97,453.16 L194.29,450.64 L194.61,448.15 L194.92,445.68 L195.24,443.25 L195.55,440.85 L195.87,438.48 L196.19,436.15 L196.50,433.85 L196.82,431.58 L197.14,429.35 L197.45,427.16 L197.77,425.00 L198.09,422.89 L198.40,420.81 L198.72,418.77 L199.03,416.78 L199.35,414.83 L199.67,412.92 L199.98,411.05 L200.30,409.23 L200.62,407.45 L200.93,405.72 L201.25,404.03 L201.56,402.39 L201.88,400.80 L202.20,399.26 L202.51,397.77 L202.83,396.32 L203.15,394.93 L203.46,393.59 L203.78,392.30 L204.10,391.06 L204.41,389.87 L204.73,388.73 L205.04,387.65 L205.36,386.62 L205.68,385.65 L205.99,384.73 L206.31,383.87 L206.63,383.06 L206.94,382.30 L207.26,381.60 L207.57,380.96 L207.89,380.37 L208.21,379.84 L208.52,379.37 L208.84,378.95 L209.16,378.59 L209.47,378.29 L209.79,378.05 L210.11,377.86 L210.42,377.73 L210.74,377.66 L211.05,377.64 L211.37,377.69 L211.69,377.79 L212.00,377.94 L212.32,378.16 L212.64,378.43 L212.95,378.76 L213.27,379.15 L213.58,379.59 L213.90,380.09 L214.22,380.65 L214.53,381.26 L214.85,381.93 L215.17,382.66 L215.48,383.44 L215.80,384.27 L216.12,385.16 L216.43,386.11 L216.75,387.11 L217.06,388.16 L217.38,389.27 L217.70,390.43 L218.01,391.64 L218.33,392.90 L218.65,394.22 L218.96,395.58 L219.28,397.00 L219.60,398.47 L219.91,399.98 L220.23,401.55 L220.54,403.16 L220.86,404.82 L221.18,406.52 L221.49,408.27 L221.81,410.07 L222.13,411.91 L222.44,413.80 L222.76,415.72 L223.07,417.70 L223.39,419.71 L223.71,421.76 L224.02,423.85 L224.34,425.98 L224.66,428.15 L224.97,430.36 L225.29,432.60 L225.61,434.88 L225.92,437.19 L226.24,439.54 L226.55,441.92 L226.87,444.33 L227.19,446.78 L227.50,449.25 L227.82,451.75 L228.14,454.28 L228.45,456.83 L228.77,459.41 L229.08,462.02 L229.40,464.65 L229.72,467.30 L230.03,469.98 L230.35,472.67 L230.67,475.38 L230.98,478.12 L231.30,480.87 L231.62,483.63 L231.93,486.41 L232.25,489.21 L232.56,492.02 L232.88,494.84 L233.20,497.67 L233.51,500.51 L233.83,503.35 L234.15,506.21 L234.46,509.07 L234.78,511.93 L235.09,514.80 L235.41,517.68 L235.73,520.55 L236.04,523.42 L236.36,526.30 L236.68,529.17 L236.99,532.04 L237.31,534.90 L237.63,537.76 L237.94,540.61 L238.26,543.45 L238.57,546.29 L238.89,549.11 L239.21,551.93 L239.52,554.73 L239.84,557.52 L240.16,560.29 L240.47,563.05 L240.79,565.79 L241.10,568.51 L241.42,571.22 L241.74,573.90 L242.05,576.57 L242.37,579.21 L242.69,581.83 L243.00,584.42 L243.32,586.99 L243.64,589.53 L243.95,592.05 L244.27,594.53 L244.58,596.99 L244.90,599.42 L245.22,601.81 L245.53,604.18 L245.85,606.51 L246.17,608.81 L246.48,611.07 L246.80,613.29 L247.11,615.48 L247.43,617.63 L247.75,619.74 L248.06,621.82 L248.38,623.85 L248.70,625.84 L249.01,627.79 L249.33,629.70 L249.65,631.56 L249.96,633.38 L250.28,635.16 L250.59,636.89 L250.91,638.57 L251.23,640.21 L251.54,641.80 L251.86,643.34 L252.18,644.83 L252.49,646.27 L252.81,647.66 L253.12,649.01 L253.44,650.30 L253.76,651.53 L254.07,652.72 L254.39,653.86 L254.71,654.94 L255.02,655.96 L255.34,656.94 L255.66,657.86 L255.97,658.72 L256.29,659.53 L256.60,660.29 L256.92,660.99 L257.24,661.63 L257.55,662.22 L257.87,662.75 L258.19,663.22 L258.50,663.64 L258.82,664.00 L259.14,664.30 L259.45,664.55 L259.77,664.74 L260.08,664.87 L260.40,664.94 L260.72,664.96 L261.03,664.92 L261.35,664.82 L261.67,664.66 L261.98,664.45 L262.30,664.18 L262.61,663.85 L262.93,663.46 L263.25,663.02 L263.56,662.52 L263.88,661.97 L264.20,661.36 L264.51,660.69 L264.83,659.97 L265.15,659.19 L265.46,658.35 L265.78,657.46 L266.09,656.52 L266.41,655.52 L266.73,654.47 L267.04,653.37 L267.36,652.21 L267.68,651.00 L267.99,649.74 L268.31,648.43 L268.62,647.06 L268.94,645.65 L269.26,644.19 L269.57,642.67 L269.89,641.11 L270.21,639.50 L270.52,637.85 L270.84,636.14 L271.16,634.39 L271.47,632.60 L271.79,630.76 L272.10,628.88 L272.42,626.95 L272.74,624.98 L273.05,622.97 L273.37,620.92 L273.69,618.83 L274.00,616.70 L274.32,614.53 L274.63,612.33 L274.95,610.09 L275.27,607.81 L275.58,605.50 L275.90,603.15 L276.22,600.78 L276.53,598.37 L276.85,595.93 L277.17,593.46 L277.48,590.96 L277.80,588.43 L278.11,585.87 L278.43,583.29 L278.75,580.69 L279.06,578.06 L279.38,575.41 L279.70,572.74 L280.01,570.04 L280.33,567.33 L280.64,564.60 L280.96,561.85 L281.28,559.09 L281.59,556.30 L281.91,553.51 L282.23,550.70 L282.54,547.88 L282.86,545.06 L283.18,542.22 L283.49,539.37 L283.81,536.51 L284.12,533.65 L284.44,530.79 L284.76,527.92 L285.07,525.05 L285.39,522.17 L285.71,519.30 L286.02,516.42 L286.34,513.55 L286.65,510.68 L286.97,507.82 L287.29,504.96 L287.60,502.11 L287.92,499.27 L288.24,496.43 L288.55,493.60 L288.87,490.79 L289.19,487.99 L289.50,485.20 L289.82,482.42 L290.13,479.66 L290.45,476.92 L290.77,474.19 L291.08,471.49 L291.40,468.80 L291.72,466.14 L292.03,463.49 L292.35,460.87 L292.66,458.28 L292.98,455.71 L293.30,453.16 L293.61,450.65 L293.93,448.16 L294.25,445.70 L294.56,443.27 L294.88,440.87 L295.20,438.50 L295.51,436.17 L295.83,433.87 L296.14,431.61 L296.46,429.38 L296.78,427.19 L297.09,425.03 L297.41,422.92 L297.73,420.84 L298.04,418.80 L298.36,416.81 L298.68,414.86 L298.99,412.95 L299.31,411.08 L299.62,409.26 L299.94,407.48 L300.26,405.74 L300.57,404.06 L300.89,402.42 L301.21,400.83 L301.52,399.28 L301.84,397.79 L302.15,396.34 L302.47,394.94 L302.79,393.60 L303.10,392.30 L303.42,391.06 L303.74,389.87 L304.05,388.73 L304.37,387.65 L304.69,386.61 L305.00,385.64 L305.32,384.71 L305.63,383.84 L305.95,383.03 L306.27,382.27 L306.58,381.57 L306.90,380.92 L307.22,380.33 L307.53,379.80 L307.85,379.32 L308.16,378.90 L308.48,378.53 L308.80,378.22 L309.11,377.97 L309.43,377.78 L309.75,377.64 L310.06,377.57 L310.38,377.55 L310.70,377.58 L311.01,377.68 L311.33,377.83 L311.64,378.04 L311.96,378.30 L312.28,378.63 L312.59,379.01 L312.91,379.45 L313.23,379.94 L313.54,380.49 L313.86,381.10 L314.17,381.76 L314.49,382.48 L314.81,383.26 L315.12,384.09 L315.44,384.97 L315.76,385.91 L316.07,386.90 L316.39,387.95 L316.71,389.05 L317.02,390.20 L317.34,391.41 L317.65,392.67 L317.97,393.97 L318.29,395.33 L318.60,396.74 L318.92,398.21 L319.24,399.71 L319.55,401.27 L319.87,402.88 L320.18,404.53 L320.50,406.23 L320.82,407.98 L321.13,409.77 L321.45,411.60 L321.77,413.48 L322.08,415.41 L322.40,417.37 L322.72,419.38 L323.03,421.43 L323.35,423.51 L323.66,425.64 L323.98,427.80 L324.30,430.01 L324.61,432.25 L324.93,434.52 L325.25,436.83 L325.56,439.17 L325.88,441.55 L326.19,443.95 L326.51,446.39 L326.83,448.86 L327.14,451.36 L327.46,453.88 L327.78,456.44 L328.09,459.01 L328.41,461.62 L328.73,464.24 L329.04,466.89 L329.36,469.56 L329.67,472.26 L329.99,474.97 L330.31,477.70 L330.62,480.45 L330.94,483.21 L331.26,485.99 L331.57,488.78 L331.89,491.59 L332.20,494.41 L332.52,497.23 L332.84,500.07 L333.15,502.92 L333.47,505.77 L333.79,508.64 L334.10,511.50 L334.42,514.37 L334.74,517.24 L335.05,520.12 L335.37,522.99 L335.68,525.86 L336.00,528.74 L336.32,531.60 L336.63,534.47 L336.95,537.33 L337.27,540.18 L337.58,543.03 L337.90,545.86 L338.22,548.69 L338.53,551.51 L338.85,554.31 L339.16,557.10 L339.48,559.88 L339.80,562.64 L340.11,565.38 L340.43,568.11 L340.75,570.81 L341.06,573.50 L341.38,576.17 L341.69,578.81 L342.01,581.44 L342.33,584.03 L342.64,586.61 L342.96,589.15 L343.28,591.67 L343.59,594.17 L343.91,596.63 L344.23,599.06 L344.54,601.46 L344.86,603.83 L345.17,606.17 L345.49,608.47 L345.81,610.73 L346.12,612.97 L346.44,615.16 L346.76,617.32 L347.07,619.44 L347.39,621.51 L347.70,623.55 L348.02,625.55 L348.34,627.51 L348.65,629.42 L348.97,631.29 L349.29,633.12 L349.60,634.90 L349.92,636.64 L350.24,638.33 L350.55,639.97 L350.87,641.57 L351.18,643.12 L351.50,644.62 L351.82,646.07 L352.13,647.47 L352.45,648.82 L352.77,650.12 L353.08,651.36 L353.40,652.56 L353.71,653.70 L354.03,654.79 L354.35,655.82 L354.66,656.81 L354.98,657.74 L355.30,658.61 L355.61,659.43 L355.93,660.19 L356.25,660.90 L356.56,661.55 L356.88,662.15 L357.19,662.68 L357.51,663.17 L357.83,663.59 L358.14,663.96 L358.46,664.27 L358.78,664.53 L359.09,664.73 L359.41,664.87 L359.72,664.95 L360.04,664.97 L360.36,664.94 L360.67,664.85 L360.99,664.71 L361.31,664.50 L361.62,664.24 L361.94,663.92 L362.26,663.54 L362.57,663.11 L362.89,662.62 L363.20,662.07 L363.52,661.47 L363.84,660.81 L364.15,660.10 L364.47,659.33 L364.79,658.50 L365.10,657.62 L365.42,656.69 L365.73,655.70 L366.05,654.66 L366.37,653.56 L366.68,652.41 L367.00,651.21 L367.32,649.96 L367.63,648.65 L367.95,647.30 L368.27,645.89 L368.58,644.43 L368.90,642.93 L369.21,641.37 L369.53,639.77 L369.85,638.12 L370.16,636.43 L370.48,634.68 L370.80,632.90 L371.11,631.06 L371.43,629.19 L371.74,627.27 L372.06,625.31 L372.38,623.30 L372.69,621.26 L373.01,619.17 L373.33,617.05 L373.64,614.89 L373.96,612.69 L374.28,610.45 L374.59,608.18 L374.91,605.88 L375.22,603.54 L375.54,601.16 L375.86,598.76 L376.17,596.32 L376.49,593.86 L376.81,591.36 L377.12,588.84 L377.44,586.29 L377.76,583.71 L378.07,581.11 L378.39,578.49 L378.70,575.84 L379.02,573.17 L379.34,570.48 L379.65,567.77 L379.97,565.04 L380.29,562.29 L380.60,559.53 L380.92,556.75 L381.23,553.96 L381.55,551.16 L381.87,548.34 L382.18,545.51 L382.50,542.67 L382.82,539.83 L383.13,536.97 L383.45,534.11 L383.77,531.25 L384.08,528.38 L384.40,525.51 L384.71,522.63 L385.03,519.76 L385.35,516.89 L385.66,514.01 L385.98,511.14 L386.30,508.28 L386.61,505.42 L386.93,502.57 L387.24,499.72 L387.56,496.88 L387.88,494.06 L388.19,491.24 L388.51,488.43 L388.83,485.64 L389.14,482.87 L389.46,480.10 L389.78,477.36 L390.09,474.63 L390.41,471.92 L390.72,469.23 L391.04,466.56 L391.36,463.92 L391.67,461.29 L391.99,458.69 L392.31,456.12 L392.62,453.57 L392.94,451.05 L393.25,448.55 L393.57,446.09 L393.89,443.65 L394.20,441.25 L394.52,438.88 L394.84,436.54 L395.15,434.24 L395.47,431.97 L395.79,429.73 L396.10,427.53 L396.42,425.37 L396.73,423.25 L397.05,421.17 L397.37,419.13 L397.68,417.13 L398.00,415.17 L398.32,413.25 L398.63,411.37 L398.95,409.54 L399.26,407.76 L399.58,406.02 L399.90,404.32 L400.21,402.68 L400.53,401.08 L400.85,399.52 L401.16,398.02 L401.48,396.57 L401.80,395.16 L402.11,393.81 L402.43,392.51 L402.74,391.26 L403.06,390.06 L403.38,388.91 L403.69,387.82 L404.01,386.78 L404.33,385.79 L404.64,384.86 L404.96,383.98 L405.27,383.16 L405.59,382.39 L405.91,381.68 L406.22,381.02 L406.54,380.42 L406.86,379.88 L407.17,379.39 L407.49,378.96 L407.81,378.58 L408.12,378.27 L408.44,378.01 L408.75,377.81 L409.07,377.66 L409.39,377.58 L409.70,377.55 L410.02,377.57 L410.34,377.66 L410.65,377.80 L410.97,378.00 L411.28,378.26 L411.60,378.57 L411.92,378.94 L412.23,379.37 L412.55,379.86 L412.87,380.40 L413.18,381.00 L413.50,381.65 L413.82,382.36 L414.13,383.13 L414.45,383.95 L414.76,384.83 L415.08,385.76 L415.40,386.74 L415.71,387.78 L416.03,388.87 L416.35,390.02 L416.66,391.21 L416.98,392.46 L417.30,393.76 L417.61,395.11 L417.93,396.52 L418.24,397.97 L418.56,399.47 L418.88,401.02 L419.19,402.62 L419.51,404.26 L419.83,405.96 L420.14,407.70 L420.46,409.48 L420.77,411.31 L421.09,413.18 L421.41,415.10 L421.72,417.06 L422.04,419.06 L422.36,421.10 L422.67,423.18 L422.99,425.30 L423.31,427.46 L423.62,429.65 L423.94,431.89 L424.25,434.15 L424.57,436.46 L424.89,438.80 L425.20,441.17 L425.52,443.57 L425.84,446.00 L426.15,448.47 L426.47,450.96 L426.78,453.48 L427.10,456.03 L427.42,458.60 L427.73,461.20 L428.05,463.82 L428.37,466.47 L428.68,469.14 L429.00,471.83 L429.32,474.53 L429.63,477.26 L429.95,480.01 L430.26,482.77 L430.58,485.54 L430.90,488.34 L431.21,491.14 L431.53,493.96 L431.85,496.78 L432.16,499.62 L432.48,502.47 L432.79,505.32 L433.11,508.18 L433.43,511.04 L433.74,513.91 L434.06,516.78 L434.38,519.66 L434.69,522.53 L435.01,525.41 L435.33,528.28 L435.64,531.15 L435.96,534.01 L436.27,536.87 L436.59,539.73 L436.91,542.57 L437.22,545.41 L437.54,548.24 L437.86,551.06 L438.17,553.86 L438.49,556.66 L438.80,559.43 L439.12,562.20 L439.44,564.94 L439.75,567.67 L440.07,570.38 L440.39,573.08 L440.70,575.75 L441.02,578.39 L441.34,581.02 L441.65,583.62 L441.97,586.20 L442.28,588.75 L442.60,591.27 L442.92,593.77 L443.23,596.24 L443.55,598.67 L443.87,601.08 L444.18,603.45 L444.50,605.80 L444.81,608.10 L445.13,610.38 L445.45,612.61 L445.76,614.81 L446.08,616.98 L446.40,619.10 L446.71,621.19 L447.03,623.23 L447.35,625.24 L447.66,627.20 L447.98,629.12 L448.29,631.00 L448.61,632.83 L448.93,634.62 L449.24,636.37 L449.56,638.06 L449.88,639.71 L450.19,641.32 L450.51,642.87 L450.82,644.38 L451.14,645.84 L451.46,647.25 L451.77,648.60 L452.09,649.91 L452.41,651.17 L452.72,652.37 L453.04,653.52 L453.36,654.62 L453.67,655.66 L453.99,656.65 L454.30,657.59 L454.62,658.47 L454.94,659.30 L455.25,660.07 L455.57,660.79 L455.89,661.45 L456.20,662.05 L456.52,662.60 L456.84,663.09 L457.15,663.53 L457.47,663.91 L457.78,664.23 L458.10,664.49 L458.42,664.70 L458.73,664.85 L459.05,664.94 L459.37,664.97 L459.68,664.95 L460.00,664.87 L460.31,664.73 L460.63,664.54 L460.95,664.28 L461.26,663.97 L461.58,663.61 L461.90,663.18 L462.21,662.70 L462.53,662.17 L462.85,661.57 L463.16,660.92 L463.48,660.22 L463.79,659.45 L464.11,658.64 L464.43,657.77 L464.74,656.84 L465.06,655.86 L465.38,654.83 L465.69,653.74 L466.01,652.60 L466.32,651.40 L466.64,650.16 L466.96,648.86 L467.27,647.52 L467.59,646.12 L467.91,644.67 L468.22,643.17 L468.54,641.62 L468.86,640.03 L469.17,638.39 L469.49,636.70 L469.80,634.96 L470.12,633.18 L470.44,631.36 L470.75,629.49 L471.07,627.58 L471.39,625.62 L471.70,623.63 L472.02,621.59 L472.33,619.51 L472.65,617.39 L472.97,615.24 L473.28,613.04 L473.60,610.81 L473.92,608.55 L474.23,606.25 L474.55,603.91 L474.87,601.54 L475.18,599.14 L475.50,596.71 L475.81,594.25 L476.13,591.76 L476.45,589.24 L476.76,586.70 L477.08,584.13 L477.40,581.53 L477.71,578.91 L478.03,576.26 L478.34,573.60 L478.66,570.91 L478.98,568.20 L479.29,565.48 L479.61,562.73 L479.93,559.97 L480.24,557.20 L480.56,554.41 L480.88,551.60 L481.19,548.79 L481.51,545.96 L481.82,543.13 L482.14,540.28 L482.46,537.43 L482.77,534.57 L483.09,531.70 L483.41,528.84 L483.72,525.96 L484.04,523.09 L484.35,520.22 L484.67,517.34 L484.99,514.47 L485.30,511.60 L485.62,508.74 L485.94,505.87 L486.25,503.02 L486.57,500.17 L486.89,497.33 L487.20,494.51 L487.52,491.69 L487.83,488.88 L488.15,486.09 L488.47,483.31 L488.78,480.54 L489.10,477.79 L489.42,475.06 L489.73,472.35 L490.05,469.66 L490.36,466.99 L490.68,464.34 L491.00,461.71 L491.31,459.10 L491.63,456.53 L491.95,453.97 L492.26,451.45 L492.58,448.95 L492.90,446.48 L493.21,444.04 L493.53,441.63 L493.84,439.25 L494.16,436.91 L494.48,434.60 L494.79,432.32 L495.11,430.08 L495.43,427.88 L495.74,425.72 L496.06,423.59 L496.38,421.50 L496.69,419.45 L497.01,417.44 L497.32,415.47 L497.64,413.55 L497.96,411.67 L498.27,409.83 L498.59,408.04 L498.91,406.29 L499.22,404.59 L499.54,402.94 L499.85,401.33 L500.17,399.77 L500.49,398.26 L500.80,396.80 L501.12,395.38 L501.44,394.02 L501.75,392.71 L502.07,391.45 L502.39,390.24 L502.70,389.09 L503.02,387.99 L503.33,386.94 L503.65,385.94 L503.97,385.00 L504.28,384.12 L504.60,383.28 L504.92,382.51 L505.23,381.79 L505.55,381.12 L505.86,380.51 L506.18,379.96 L506.50,379.46 L506.81,379.02 L507.13,378.64 L507.45,378.32 L507.76,378.05 L508.08,377.84 L508.40,377.68 L508.71,377.59 L509.03,377.55 L509.34,377.56 L509.66,377.64 L509.98,377.77 L510.29,377.97 L510.61,378.21 L510.93,378.52 L511.24,378.88 L511.56,379.30 L511.87,379.78 L512.19,380.31 L512.51,380.90 L512.82,381.54 L513.14,382.25 L513.46,383.00 L513.77,383.81 L514.09,384.68 L514.41,385.60 L514.72,386.58 L515.04,387.61 L515.35,388.69 L515.67,389.83 L515.99,391.02 L516.30,392.26 L516.62,393.55 L516.94,394.90 L517.25,396.29 L517.57,397.73 L517.88,399.23 L518.20,400.77 L518.52,402.36 L518.83,404.00 L519.15,405.68 L519.47,407.42 L519.78,409.19 L520.10,411.01 L520.42,412.88 L520.73,414.79 L521.05,416.74 L521.36,418.73 L521.68,420.77 L522.00,422.84 L522.31,424.96 L522.63,427.11 L522.95,429.30 L523.26,431.53 L523.58,433.79 L523.89,436.09 L524.21,438.42 L524.53,440.79 L524.84,443.18 L525.16,445.61 L525.48,448.07 L525.79,450.56 L526.11,453.08 L526.43,455.62 L526.74,458.19 L527.06,460.78 L527.37,463.40 L527.69,466.05 L528.01,468.71 L528.32,471.40 L528.64,474.10 L528.96,476.83 L529.27,479.57 L529.59,482.33 L529.90,485.10 L530.22,487.89 L530.54,490.69 L530.85,493.51 L531.17,496.33 L531.49,499.17 L531.80,502.01 L532.12,504.86 L532.44,507.72 L532.75,510.59 L533.07,513.46 L533.38,516.33 L533.70,519.20 L534.02,522.07 L534.33,524.95 L534.65,527.82 L534.97,530.69 L535.28,533.56 L535.60,536.42 L535.92,539.27 L536.23,542.12 L536.55,544.96 L536.86,547.79 L537.18,550.61 L537.50,553.42 L537.81,556.21 L538.13,558.99 L538.45,561.76 L538.76,564.51 L539.08,567.24 L539.39,569.95 L539.71,572.65 L540.03,575.32 L540.34,577.97 L540.66,580.60 L540.98,583.21 L541.29,585.79 L541.61,588.35 L541.93,590.87 L542.24,593.37 L542.56,595.85 L542.87,598.29 L543.19,600.70 L543.51,603.08 L543.82,605.42 L544.14,607.74 L544.46,610.02 L544.77,612.26 L545.09,614.46 L545.40,616.63 L545.72,618.76 L546.04,620.86 L546.35,622.91 L546.67,624.92 L546.99,626.89 L547.30,628.82 L547.62,630.70 L547.94,632.54 L548.25,634.34 L548.57,636.09 L548.88,637.80 L549.20,639.45 L549.52,641.07 L549.83,642.63 L550.15,644.14 L550.47,645.61 L550.78,647.03 L551.10,648.39 L551.41,649.71 L551.73,650.97 L552.05,652.18 L552.36,653.34 L552.68,654.45 L553.00,655.50 L553.31,656.50 L553.63,657.45 L553.95,658.34 L554.26,659.17 L554.58,659.95 L554.89,660.68 L555.21,661.35 L555.53,661.96 L555.84,662.52 L556.16,663.02 L556.48,663.46 L556.79,663.85 L557.11,664.18 L557.42,664.45 L557.74,664.67 L558.06,664.83 L558.37,664.93 L558.69,664.97 L559.01,664.96 L559.32,664.89 L559.64,664.76 L559.96,664.57 L560.27,664.33 L560.59,664.03 L560.90,663.67 L561.22,663.25 L561.54,662.78 L561.85,662.25 L562.17,661.67 L562.49,661.03 L562.80,660.33 L563.12,659.58 L563.43,658.77 L563.75,657.91 L564.07,656.99 L564.38,656.02 L564.70,654.99 L565.02,653.92 L565.33,652.78 L565.65,651.60 L565.97,650.36 L566.28,649.07 L566.60,647.73 L566.91,646.34 L567.23,644.90 L567.55,643.41 L567.86,641.87 L568.18,640.29 L568.50,638.65 L568.81,636.97 L569.13,635.24 L569.44,633.47 L569.76,631.65 L570.08,629.79 L570.39,627.88 L570.71,625.94 L571.03,623.95 L571.34,621.91 L571.66,619.84 L571.98,617.73 L572.29,615.58 L572.61,613.39 L572.92,611.17 L573.24,608.91 L573.56,606.62 L573.87,604.29 L574.19,601.92 L574.51,599.53 L574.82,597.10 L575.14,594.65 L575.46,592.16 L575.77,589.65 L576.09,587.10 L576.40,584.54 L576.72,581.94 L577.04,579.33 L577.35,576.69 L577.67,574.02 L577.99,571.34 L578.30,568.63 L578.62,565.91 L578.93,563.17 L579.25,560.41 L579.57,557.64 L579.88,554.85 L580.20,552.05 L580.52,549.24 L580.83,546.41 L581.15,543.58 L581.47,540.73 L581.78,537.88 L582.10,535.02 L582.41,532.16 L582.73,529.29 L583.05,526.42 L583.36,523.55 L583.68,520.67 L584.00,517.80 L584.31,514.93 L584.63,512.06 L584.94,509.19 L585.26,506.33 L585.58,503.47 L585.89,500.63 L586.21,497.79 L586.53,494.96 L586.84,492.13 L587.16,489.33 L587.48,486.53 L587.79,483.75 L588.11,480.98 L588.42,478.23 L588.74,475.50 L589.06,472.78 L589.37,470.09 L589.69,467.41 L590.01,464.76 L590.32,462.12 L590.64,459.52 L590.95,456.93 L591.27,454.38 L591.59,451.85 L591.90,449.34 L592.22,446.87 L592.54,444.43 L592.85,442.01 L593.17,439.63 L593.49,437.28 L593.80,434.97 L594.12,432.68 L594.43,430.44 L594.75,428.23 L595.07,426.06 L595.38,423.92 L595.70,421.83 L596.02,419.77 L596.33,417.76 L596.65,415.79 L596.96,413.85 L597.28,411.97 L597.60,410.12 L597.91,408.32 L598.23,406.57 L598.55,404.86 L598.86,403.20 L599.18,401.58 L599.50,400.01 L599.81,398.49 L600.13,397.02 L600.44,395.60 L600.76,394.23 L601.08,392.92 L601.39,391.65 L601.71,390.43 L602.03,389.27 L602.34,388.16 L602.66,387.10 L602.97,386.10 L603.29,385.15 L603.61,384.25 L603.92,383.41 L604.24,382.63 L604.56,381.90 L604.87,381.22 L605.19,380.61 L605.51,380.04 L605.82,379.54 L606.14,379.09 L606.45,378.70 L606.77,378.36 L607.09,378.09 L607.40,377.87 L607.72,377.70 L608.04,377.60 L608.35,377.55 L608.67,377.56 L608.98,377.63 L609.30,377.75 L609.62,377.93 L609.93,378.17 L610.25,378.47 L610.57,378.82 L610.88,379.23 L611.20,379.70 L611.52,380.22 L611.83,380.80 L612.15,381.44 L612.46,382.13 L612.78,382.88 L613.10,383.68 L613.41,384.54 L613.73,385.45 L614.05,386.42 L614.36,387.44 L614.68,388.52 L615.00,389.64 L615.31,390.83 L615.63,392.06 L615.94,393.34 L616.26,394.68 L616.58,396.06 L616.89,397.50 L617.21,398.99 L617.53,400.52 L617.84,402.10 L618.16,403.74 L618.47,405.41 L618.79,407.14 L619.11,408.91 L619.42,410.72 L619.74,412.58 L620.06,414.48 L620.37,416.43 L620.69,418.41 L621.01,420.44 L621.32,422.51 L621.64,424.62 L621.95,426.77 L622.27,428.95 L622.59,431.17 L622.90,433.43 L623.22,435.72 L623.54,438.05 L623.85,440.41 L624.17,442.80 L624.48,445.22 L624.80,447.68 L625.12,450.16 L625.43,452.67 L625.75,455.21 L626.07,457.78 L626.38,460.37 L626.70,462.98 L627.02,465.62 L627.33,468.28 L627.65,470.97 L627.96,473.67 L628.28,476.39 L628.60,479.13 L628.91,481.89 L629.23,484.66 L629.55,487.45 L629.86,490.25 L630.18,493.06 L630.49,495.88 L630.81,498.72 L631.13,501.56 L631.44,504.41 L631.76,507.27 L632.08,510.13 L632.39,513.00 L632.71,515.87 L633.03,518.74 L633.34,521.62 L633.66,524.49 L633.97,527.36 L634.29,530.23 L634.61,533.10 L634.92,535.96 L635.24,538.82 L635.56,541.67 L635.87,544.51 L636.19,547.34 L636.50,550.16 L636.82,552.97 L637.14,555.77 L637.45,558.55 L637.77,561.32 L638.09,564.07 L638.40,566.81 L638.72,569.52 L639.04,572.22 L639.35,574.90 L639.67,577.55 L639.98,580.19 L640.30,582.80 L640.62,585.38 L640.93,587.94 L641.25,590.47 L641.57,592.98 L641.88,595.45 L642.20,597.90 L642.51,600.32 L642.83,602.70 L643.15,605.05 L643.46,607.37 L643.78,609.66 L644.10,611.90 L644.41,614.12 L644.73,616.29 L645.05,618.43 L645.36,620.53 L645.68,622.58 L645.99,624.60 L646.31,626.58 L646.63,628.51 L646.94,630.41 L647.26,632.25 L647.58,634.06 L647.89,635.82 L648.21,637.53 L648.52,639.19 L648.84,640.81 L649.16,642.38 L649.47,643.91 L649.79,645.38 L650.11,646.80 L650.42,648.18 L650.74,649.50 L651.06,650.77 L651.37,651.99 L651.69,653.16 L652.00,654.27 L652.32,655.34 L652.64,656.34 L652.95,657.30 L653.27,658.20 L653.59,659.04 L653.90,659.83 L654.22,660.57 L654.54,661.25 L654.85,661.87 L655.17,662.43 L655.48,662.94 L655.80,663.40 L656.12,663.79 L656.43,664.13 L656.75,664.41 L657.07,664.64 L657.38,664.81 L657.70,664.92 L658.01,664.97 L658.33,664.96 L658.65,664.90 L658.96,664.78 L659.28,664.61 L659.60,664.37 L659.91,664.08 L660.23,663.73 L660.55,663.32 L660.86,662.86 L661.18,662.34 L661.49,661.77 L661.81,661.13 L662.13,660.45 L662.44,659.70 L662.76,658.90 L663.08,658.05 L663.39,657.14 L663.71,656.18 L664.02,655.16 L664.34,654.09 L664.66,652.97 L664.97,651.79 L665.29,650.56 L665.61,649.28 L665.92,647.95 L666.24,646.57 L666.56,645.14 L666.87,643.65 L667.19,642.12 L667.50,640.54 L667.82,638.92 L668.14,637.24 L668.45,635.52 L668.77,633.76 L669.09,631.95 L669.40,630.09 L669.72,628.19 L670.03,626.25 L670.35,624.27 L670.67,622.24 L670.98,620.18 L671.30,618.07 L671.62,615.93 L671.93,613.75 L672.25,611.53 L672.57,609.27 L672.88,606.98 L673.20,604.66 L673.51,602.30 L673.83,599.91 L674.15,597.49 L674.46,595.04 L674.78,592.56 L675.10,590.05 L675.41,587.51 L675.73,584.95 L676.04,582.36 L676.36,579.74 L676.68,577.11 L676.99,574.45 L677.31,571.77 L677.63,569.07 L677.94,566.35 L678.26,563.61 L678.58,560.85 L678.89,558.08 L679.21,555.30 L679.52,552.50 L679.84,549.69 L680.16,546.86 L680.47,544.03 L680.79,541.19 L681.11,538.34 L681.42,535.48 L681.74,532.62 L682.05,529.75 L682.37,526.88 L682.69,524.01 L683.00,521.13 L683.32,518.26 L683.64,515.39 L683.95,512.51 L684.27,509.65 L684.59,506.79 L684.90,503.93 L685.22,501.08 L685.53,498.24 L685.85,495.41 L686.17,492.58 L686.48,489.77 L686.80,486.97 L687.12,484.19 L687.43,481.42 L687.75,478.67 L688.06,475.93 L688.38,473.21 L688.70,470.51 L689.01,467.83 L689.33,465.18 L689.65,462.54 L689.96,459.93 L690.28,457.34 L690.60,454.78 L690.91,452.25 L691.23,449.74 L691.54,447.26 L691.86,444.81 L692.18,442.39 L692.49,440.01 L692.81,437.65 L693.13,435.33 L693.44,433.05 L693.76,430.79 L694.08,428.58 L694.39,426.40 L694.71,424.26 L695.02,422.16 L695.34,420.10 L695.66,418.08 L695.97,416.10 L696.29,414.16 L696.61,412.26 L696.92,410.41 L697.24,408.61 L697.55,406.84 L697.87,405.13 L698.19,403.46 L698.50,401.83 L698.82,400.26 L699.14,398.73 L699.45,397.26 L699.77,395.83 L700.09,394.45 L700.40,393.12 L700.72,391.85 L701.03,390.62 L701.35,389.45 L701.67,388.33 L701.98,387.27 L702.30,386.25 L702.62,385.30 L702.93,384.39 L703.25,383.54 L703.56,382.75 L703.88,382.01 L704.20,381.33 L704.51,380.70 L704.83,380.13 L705.15,379.61 L705.46,379.16 L705.78,378.76 L706.10,378.41 L706.41,378.13 L706.73,377.90 L707.04,377.72 L707.36,377.61 L707.68,377.55 L707.99,377.55 L708.31,377.61 L708.63,377.73 L708.94,377.90 L709.26,378.13 L709.57,378.42 L709.89,378.76 L710.21,379.16 L710.52,379.62 L710.84,380.13 L711.16,380.71 L711.47,381.33 L711.79,382.02 L712.11,382.76 L712.42,383.55 L712.74,384.40 L713.05,385.30 L713.37,386.26 L713.69,387.28 L714.00,388.34 L714.32,389.46 L714.64,390.63 L714.95,391.86 L715.27,393.13 L715.58,394.46 L715.90,395.84 L716.22,397.27 L716.53,398.75 L716.85,400.27 L717.17,401.85 L717.48,403.47 L717.80,405.14 L718.12,406.86 L718.43,408.62 L718.75,410.43 L719.06,412.28 L719.38,414.18 L719.70,416.11 L720.01,418.09 L720.33,420.12 L720.65,422.18 L720.96,424.28 L721.28,426.42 L721.59,428.60 L721.91,430.81 L722.23,433.07 L722.54,435.35 L722.86,437.67 L723.18,440.03 L723.49,442.42 L723.81,444.84 L724.13,447.28 L724.44,449.76 L724.76,452.27 L725.07,454.81 L725.39,457.37 L725.71,459.95 L726.02,462.57 L726.34,465.20 L726.66,467.86 L726.97,470.54 L727.29,473.24 L727.60,475.96 L727.92,478.69 L728.24,481.45 L728.55,484.22 L728.87,487.00 L729.19,489.80 L729.50,492.61 L729.82,495.43 L730.14,498.26 L730.45,501.11 L730.77,503.96 L731.08,506.81 L731.40,509.67 L731.72,512.54 L732.03,515.41 L732.35,518.28 L732.67,521.16 L732.98,524.03 L733.30,526.91 L733.62,529.78 L733.93,532.64 L734.25,535.51 L734.56,538.36 L734.88,541.21 L735.20,544.06 L735.51,546.89 L735.83,549.71 L736.15,552.52 L736.46,555.32 L736.78,558.11 L737.09,560.88 L737.41,563.63 L737.73,566.37 L738.04,569.09 L738.36,571.79 L738.68,574.47 L738.99,577.13 L739.31,579.77 L739.63,582.38 L739.94,584.97 L740.26,587.53 L740.57,590.07 L740.89,592.58 L741.21,595.06 L741.52,597.51 L741.84,599.93 L742.16,602.32 L742.47,604.68 L742.79,607.00 L743.10,609.29 L743.42,611.55 L743.74,613.77 L744.05,615.95 L744.37,618.09 L744.69,620.19 L745.00,622.26 L745.32,624.28 L745.64,626.27 L745.95,628.21 L746.27,630.11 L746.58,631.96 L746.90,633.77 L747.22,635.54 L747.53,637.26 L747.85,638.93 L748.17,640.56 L748.48,642.14 L748.80,643.67 L749.11,645.15 L749.43,646.58 L749.75,647.96 L750.06,649.29 L750.38,650.57 L750.70,651.80 L751.01,652.98 L751.33,654.10 L751.65,655.17 L751.96,656.19 L752.28,657.15 L752.59,658.06 L752.91,658.91 L753.23,659.71 L753.54,660.45 L753.86,661.14 L754.18,661.77 L754.49,662.35 L754.81,662.87 L755.12,663.33 L755.44,663.73 L755.76,664.08 L756.07,664.37 L756.39,664.61 L756.71,664.78 L757.02,664.90 L757.34,664.97 L757.66,664.97 L757.97,664.92 L758.29,664.81 L758.60,664.64 L758.92,664.41 L759.24,664.13 L759.55,663.79 L759.87,663.39 L760.19,662.94 L760.50,662.43 L760.82,661.86 L761.13,661.24 L761.45,660.56 L761.77,659.83 L762.08,659.04 L762.40,658.19 L762.72,657.29 L763.03,656.34 L763.35,655.33 L763.67,654.26 L763.98,653.15 L764.30,651.98 L764.61,650.76 L764.93,649.49 L765.25,648.17 L765.56,646.79 L765.88,645.37 L766.20,643.89 L766.51,642.37 L766.83,640.80 L767.14,639.18 L767.46,637.51 L767.78,635.80 L768.09,634.04 L768.41,632.24 L768.73,630.39 L769.04,628.50 L769.36,626.56 L769.68,624.58 L769.99,622.57 L770.31,620.51 L770.62,618.41 L770.94,616.27 L771.26,614.10 L771.57,611.88 L771.89,609.63 L772.21,607.35 L772.52,605.03 L772.84,602.68 L773.16,600.29 L773.47,597.88 L773.79,595.43 L774.10,592.96 L774.42,590.45 L774.74,587.92 L775.05,585.36 L775.37,582.77 L775.69,580.16 L776.00,577.53 L776.32,574.87 L776.63,572.20 L776.95,569.50 L777.27,566.78 L777.58,564.05 L777.90,561.29 L778.22,558.53 L778.53,555.74 L778.85,552.94 L779.17,550.14 L779.48,547.31 L779.80,544.48 L780.11,541.64 L780.43,538.79 L780.75,535.94 L781.06,533.07 L781.38,530.21 L781.70,527.34 L782.01,524.46 L782.33,521.59 L782.64,518.72 L782.96,515.84 L783.28,512.97 L783.59,510.10 L783.91,507.24 L784.23,504.38 L784.54,501.53 L784.86,498.69 L785.18,495.86 L785.49,493.03 L785.81,490.22 L786.12,487.42 L786.44,484.63 L786.76,481.86 L787.07,479.10 L787.39,476.37 L787.71,473.64 L788.02,470.94 L788.34,468.26 L788.65,465.60 L788.97,462.96 L789.29,460.35 L789.60,457.75 L789.92,455.19 L790.24,452.65 L790.55,450.14 L790.87,447.65 L791.19,445.20 L791.50,442.78 L791.82,440.39 L792.13,438.03 L792.45,435.70 L792.77,433.41 L793.08,431.15 L793.40,428.93 L793.72,426.75 L794.03,424.60 L794.35,422.49 L794.66,420.42 L794.98,418.40 L795.30,416.41 L795.61,414.46 L795.93,412.56 L796.25,410.70 L796.56,408.89 L796.88,407.12 L797.20,405.40 L797.51,403.72 L797.83,402.09 L798.14,400.51 L798.46,398.97 L798.78,397.49 L799.09,396.05 L799.41,394.67 L799.73,393.33 L800.04,392.05 L800.36,390.81 L800.67,389.63 L800.99,388.51 L801.31,387.43 L801.62,386.41 L801.94,385.44 L802.26,384.53 L802.57,383.67 L802.89,382.87 L803.21,382.12 L803.52,381.43 L803.84,380.80 L804.15,380.22 L804.47,379.69 L804.79,379.23 L805.10,378.82 L805.42,378.46 L805.74,378.17 L806.05,377.93 L806.37,377.75 L806.68,377.62 L807.00,377.56 L807.32,377.55 L807.63,377.60 L807.95,377.70 L808.27,377.87 L808.58,378.09 L808.90,378.37 L809.22,378.70 L809.53,379.09 L809.85,379.54 L810.16,380.05 L810.48,380.61 L810.80,381.23 L811.11,381.90 L811.43,382.63 L811.75,383.42 L812.06,384.26 L812.38,385.16 L812.70,386.11 L813.01,387.11 L813.33,388.17 L813.64,389.28 L813.96,390.44 L814.28,391.66 L814.59,392.93 L814.91,394.25 L815.23,395.62 L815.54,397.04 L815.86,398.51 L816.17,400.03 L816.49,401.59 L816.81,403.21 L817.12,404.87 L817.44,406.58 L817.76,408.34 L818.07,410.14 L818.39,411.98 L818.71,413.87 L819.02,415.80 L819.34,417.78 L819.65,419.79 L819.97,421.85 L820.29,423.94 L820.60,426.08 L820.92,428.25 L821.24,430.46 L821.55,432.71 L821.87,434.99 L822.18,437.30 L822.50,439.65 L822.82,442.03 L823.13,444.45 L823.45,446.89 L823.77,449.37 L824.08,451.87 L824.40,454.40 L824.72,456.96 L825.03,459.54 L825.35,462.15 L825.66,464.78 L825.98,467.43 L826.30,470.11 L826.61,472.81 L826.93,475.52 L827.25,478.26 L827.56,481.01 L827.88,483.77 L828.19,486.56 L828.51,489.35 L828.83,492.16 L829.14,494.98 L829.46,497.81 L829.78,500.65 L830.09,503.50 L830.41,506.36 L830.73,509.22 L831.04,512.08 L831.36,514.95 L831.67,517.83 L831.99,520.70 L832.31,523.58 L832.62,526.45 L832.94,529.32 L833.26,532.19 L833.57,535.05 L833.89,537.91 L834.20,540.76 L834.52,543.60 L834.84,546.44 L835.15,549.26 L835.47,552.08 L835.79,554.88 L836.10,557.67 L836.42,560.44 L836.74,563.20 L837.05,565.94 L837.37,568.66 L837.68,571.36 L838.00,574.05 L838.32,576.71 L838.63,579.35 L838.95,581.97 L839.27,584.56 L839.58,587.13 L839.90,589.67 L840.21,592.18 L840.53,594.67 L840.85,597.12 L841.16,599.55 L841.48,601.95 L841.80,604.31 L842.11,606.64 L842.43,608.93 L842.75,611.19 L843.06,613.42 L843.38,615.60 L843.69,617.75 L844.01,619.86 L844.33,621.93 L844.64,623.96 L844.96,625.95 L845.28,627.90 L845.59,629.81 L845.91,631.67 L846.22,633.49 L846.54,635.26 L846.86,636.99 L847.17,638.67 L847.49,640.30 L847.81,641.89 L848.12,643.43 L848.44,644.92 L848.76,646.36 L849.07,647.75 L849.39,649.08 L849.70,650.37 L850.02,651.61 L850.34,652.79 L850.65,653.93 L850.97,655.00 L851.29,656.03 L851.60,657.00 L851.92,657.92 L852.24,658.78 L852.55,659.59 L852.87,660.34 L853.18,661.03 L853.50,661.68 L853.82,662.26 L854.13,662.79 L854.45,663.26 L854.77,663.67 L855.08,664.03 L855.40,664.33 L855.71,664.57 L856.03,664.76 L856.35,664.89 L856.66,664.96 L856.98,664.97 L857.30,664.93 L857.61,664.83 L857.93,664.67 L858.25,664.45 L858.56,664.18 L858.88,663.85 L859.19,663.46 L859.51,663.02 L859.83,662.51 L860.14,661.96 L860.46,661.34 L860.78,660.67 L861.09,659.95 L861.41,659.16 L861.72,658.33 L862.04,657.44 L862.36,656.49 L862.67,655.49 L862.99,654.44 L863.31,653.33 L863.62,652.17 L863.94,650.96 L864.26,649.69 L864.57,648.38 L864.89,647.01 L865.20,645.60 L865.52,644.13 L865.84,642.62 L866.15,641.05 L866.47,639.44 L866.79,637.78 L867.10,636.08 L867.42,634.32 L867.73,632.53 L868.05,630.69 L868.37,628.80 L868.68,626.87 L869.00,624.90 L869.32,622.89 L869.63,620.84 L869.95,618.75 L870.27,616.61 L870.58,614.44 L870.90,612.24 L871.21,609.99 L871.53,607.72 L871.85,605.40 L872.16,603.06 L872.48,600.68 L872.80,598.27 L873.11,595.82 L873.43,593.35 L873.74,590.85 L874.06,588.32 L874.38,585.77 L874.69,583.19 L875.01,580.58 L875.33,577.95 L875.64,575.30 L875.96,572.62 L876.28,569.93 L876.59,567.22 L876.91,564.48 L877.22,561.73 L877.54,558.97 L877.86,556.19 L878.17,553.39 L878.49,550.58 L878.81,547.76 L879.12,544.93 L879.44,542.09 L879.75,539.25 L880.07,536.39 L880.39,533.53 L880.70,530.66 L881.02,527.79 L881.34,524.92 L881.65,522.05 L881.97,519.17 L882.29,516.30 L882.60,513.43 L882.92,510.56 L883.23,507.70 L883.55,504.84 L883.87,501.99 L884.18,499.14 L884.50,496.31 L884.82,493.48 L885.13,490.67 L885.45,487.86 L885.76,485.08 L886.08,482.30 L886.40,479.54 L886.71,476.80 L887.03,474.08 L887.35,471.37 L887.66,468.69 L887.98,466.02 L888.30,463.38 L888.61,460.76 L888.93,458.17 L889.24,455.60 L889.56,453.05 L889.88,450.54 L890.19,448.05 L890.51,445.59 L890.83,443.16 L891.14,440.76 L891.46,438.40 L891.78,436.07 L892.09,433.77 L892.41,431.51 L892.72,429.28 L893.04,427.09 L893.36,424.94 L893.67,422.82 L893.99,420.75 L894.31,418.72 L894.62,416.72 L894.94,414.77 L895.25,412.86 L895.57,411.00 L895.89,409.18 L896.20,407.40 L896.52,405.67 L896.84,403.98 L897.15,402.35 L897.47,400.76 L897.79,399.21 L898.10,397.72 L898.42,396.28 L898.73,394.88 L899.05,393.54 L899.37,392.25 L899.68,391.01 L900.00,389.82 L900.32,388.68 L900.63,387.60 L900.95,386.57 L901.26,385.60 L901.58,384.67 L901.90,383.81 L902.21,383.00 L902.53,382.24 L902.85,381.54 L903.16,380.89 L903.48,380.30 L903.80,379.77 L904.11,379.30 L904.43,378.88 L904.74,378.52 L905.06,378.21 L905.38,377.96 L905.69,377.77 L906.01,377.64 L906.33,377.56 L906.64,377.55 L906.96,377.59 L907.27,377.68 L907.59,377.84 L907.91,378.05 L908.22,378.32 L908.54,378.64 L908.86,379.03 L909.17,379.47 L909.49,379.96 L909.81,380.52 L910.12,381.13 L910.44,381.79 L910.75,382.51 L911.07,383.29 L911.39,384.12 L911.70,385.01 L912.02,385.95 L912.34,386.95 L912.65,388.00 L912.97,389.10 L913.28,390.25 L913.60,391.46 L913.92,392.72 L914.23,394.03 L914.55,395.40 L914.87,396.81 L915.18,398.27 L915.50,399.78 L915.82,401.34 L916.13,402.95 L916.45,404.61 L916.76,406.31 L917.08,408.06 L917.40,409.85 L917.71,411.69 L918.03,413.57 L918.35,415.49 L918.66,417.46 L918.98,419.47 L919.29,421.52 L919.61,423.61 L919.93,425.73 L920.24,427.90 L920.56,430.10 L920.88,432.35 L921.19,434.62 L921.51,436.93 L921.83,439.28 L922.14,441.65 L922.46,444.06 L922.77,446.50 L923.09,448.97 L923.41,451.47 L923.72,454.00 L924.04,456.55 L924.36,459.13 L924.67,461.73 L924.99,464.36 L925.30,467.01 L925.62,469.68 L925.94,472.38 L926.25,475.09 L926.57,477.82 L926.89,480.57 L927.20,483.33 L927.52,486.11 L927.84,488.91 L928.15,491.71 L928.47,494.53 L928.78,497.36 L929.10,500.20 L929.42,503.05 L929.73,505.90 L930.05,508.76 L930.37,511.63 L930.68,514.50 L931.00,517.37 L931.32,520.24 L931.63,523.12 L931.95,525.99 L932.26,528.86 L932.58,531.73 L932.90,534.60 L933.21,537.45 L933.53,540.31 L933.85,543.15 L934.16,545.99 L934.48,548.81 L934.79,551.63 L935.11,554.43 L935.43,557.22 L935.74,560.00 L936.06,562.76 L936.38,565.50 L936.69,568.23 L937.01,570.93 L937.33,573.62 L937.64,576.29 L937.96,578.93 L938.27,581.55 L938.59,584.15 L938.91,586.72 L939.22,589.27 L939.54,591.78 L939.86,594.27 L940.17,596.74 L940.49,599.17 L940.80,601.57 L941.12,603.93 L941.44,606.27 L941.75,608.57 L942.07,610.83 L942.39,613.06 L942.70,615.26 L943.02,617.41 L943.34,619.53 L943.65,621.61 L943.97,623.64 L944.28,625.64 L944.60,627.59 L944.92,629.51 L945.23,631.38 L945.55,633.20 L945.87,634.98 L946.18,636.72 L946.50,638.40 L946.81,640.05 L947.13,641.64 L947.45,643.19 L947.76,644.68 L948.08,646.13 L948.40,647.53 L948.71,648.88 L949.03,650.17 L949.35,651.42 L949.66,652.61 L949.98,653.75 L950.29,654.84 L950.61,655.87 L950.93,656.85 L951.24,657.77 L951.56,658.65 L951.88,659.46 L952.19,660.22 L952.51,660.93 L952.82,661.58 L953.14,662.17 L953.46,662.71 L953.77,663.19 L954.09,663.61 L954.41,663.98 L954.72,664.29 L955.04,664.54 L955.36,664.73 L955.67,664.87 L955.99,664.95 L956.30,664.97 L956.62,664.94 L956.94,664.85 L957.25,664.70 L957.57,664.49 L957.89,664.23 L958.20,663.90 L958.52,663.53 L958.83,663.09 L959.15,662.60 L959.47,662.05 L959.78,661.44 L960.10,660.78 L960.42,660.07 L960.73,659.29 L961.05,658.47 L961.37,657.58 L961.68,656.65 L962.00,655.65 L962.31,654.61 L962.63,653.51 L962.95,652.36 L963.26,651.16 L963.58,649.90 L963.90,648.59 L964.21,647.23 L964.53,645.83 L964.84,644.37 L965.16,642.86 L965.48,641.30 L965.79,639.70 L966.11,638.05 L966.43,636.35 L966.74,634.61 L967.06,632.82 L967.38,630.98 L967.69,629.10 L968.01,627.18 L968.32,625.22 L968.64,623.21 L968.96,621.17 L969.27,619.08 L969.59,616.96 L969.91,614.79 L970.22,612.59 L970.54,610.35 L970.86,608.08 L971.17,605.77 L971.49,603.43 L971.80,601.06 L972.12,598.65 L972.44,596.21 L972.75,593.75 L973.07,591.25 L973.39,588.73 L973.70,586.18 L974.02,583.60 L974.33,581.00 L974.65,578.37 L974.97,575.72 L975.28,573.05 L975.60,570.36 L975.92,567.65 L976.23,564.92 L976.55,562.17 L976.87,559.41 L977.18,556.63 L977.50,553.84 L977.81,551.03 L978.13,548.21 L978.45,545.39 L978.76,542.55 L979.08,539.70 L979.40,536.85 L979.71,533.99 L980.03,531.12 L980.34,528.25 L980.66,525.38 L980.98,522.51 L981.29,519.63 L981.61,516.76 L981.93,513.89 L982.24,511.02 L982.56,508.15 L982.88,505.29 L983.19,502.44 L983.51,499.59 L983.82,496.76 L984.14,493.93 L984.46,491.11 L984.77,488.31 L985.09,485.52 L985.41,482.74 L985.72,479.98 L986.04,477.24 L986.35,474.51 L986.67,471.80 L986.99,469.11 L987.30,466.44 L987.62,463.80 L987.94,461.18 L988.25,458.58 L988.57,456.00 L988.89,453.46 L989.20,450.93 L989.52,448.44 L989.83,445.98 L990.15,443.55 L990.47,441.14 L990.78,438.77 L991.10,436.44 L991.42,434.13 L991.73,431.87 L992.05,429.63 L992.36,427.44 L992.68,425.28 L993.00,423.16 L993.31,421.08 L993.63,419.04 L993.95,417.04 L994.26,415.08 L994.58,413.16 L994.90,411.29 L995.21,409.46 L995.53,407.68 L995.84,405.94 L996.16,404.25 L996.48,402.60 L996.79,401.01 L997.11,399.46 L997.43,397.96 L997.74,396.50 L998.06,395.10 L998.37,393.75 L998.69,392.45 L999.01,391.20 L999.32,390.00 L999.64,388.86 L999.96,387.77 L1000.27,386.73 L1000.59,385.75 L1000.91,384.82 L1001.22,383.94 L1001.54,383.12 L1001.85,382.36 L1002.17,381.65 L1002.49,380.99 L1002.80,380.39 L1003.12,379.85 L1003.44,379.37 L1003.75,378.94 L1004.07,378.57 L1004.38,378.26 L1004.70,378.00 L1005.02,377.80 L1005.33,377.66 L1005.65,377.57 L1005.97,377.55 L1006.28,377.58 L1006.60,377.66 L1006.92,377.81 L1007.23,378.01 L1007.55,378.27 L1007.86,378.59 L1008.18,378.96 L1008.50,379.39 L1008.81,379.88 L1009.13,380.43 L1009.45,381.03 L1009.76,381.68 L1010.08,382.40 L1010.40,383.16 L1010.71,383.99 L1011.03,384.87 L1011.34,385.80 L1011.66,386.79 L1011.98,387.83 L1012.29,388.92 L1012.61,390.07 L1012.93,391.27 L1013.24,392.52 L1013.56,393.82 L1013.87,395.18 L1014.19,396.58 L1014.51,398.03 L1014.82,399.54 L1015.14,401.09 L1015.46,402.69 L1015.77,404.34 L1016.09,406.03 L1016.41,407.77 L1016.72,409.56 L1017.04,411.39 L1017.35,413.27 L1017.67,415.18 L1017.99,417.14 L1018.30,419.15 L1018.62,421.19 L1018.94,423.27 L1019.25,425.39 L1019.57,427.55 L1019.88,429.75 L1020.20,431.99 L1020.52,434.26 L1020.83,436.56 L1021.15,438.90 L1021.47,441.27 L1021.78,443.68 L1022.10,446.11 L1022.42,448.58 L1022.73,451.07 L1023.05,453.59 L1023.36,456.14 L1023.68,458.72 L1024.00,461.32 L1024.31,463.94 L1024.63,466.59 L1024.95,469.26 L1025.26,471.95 L1025.58,474.65 L1025.89,477.38 L1026.21,480.13 L1026.53,482.89 L1026.84,485.67 L1027.16,488.46" stroke="#ff0000" stroke-dasharray="18 9.95"/>
</g>
<g class="t" font-size="29.5">
<text x="78.2" y="790" text-anchor="middle">0</text>
<text x="236.4" y="790" text-anchor="middle">10</text>
<text x="394.5" y="790" text-anchor="middle">20</text>
<text x="552.7" y="790" text-anchor="middle">30</text>
<text x="710.8" y="790" text-anchor="middle">40</text>
<text x="869.0" y="790" text-anchor="middle">50</text>
<text x="61.6" y="657.1" text-anchor="end">-1</text>
<text x="61.6" y="532.5" text-anchor="end">0</text>
<text x="61.6" y="407.9" text-anchor="end">1</text>
<text x="61.6" y="283.3" text-anchor="end">2</text>
<text x="61.6" y="158.7" text-anchor="end">3</text>
<text x="61.6" y="34.1" text-anchor="end">4</text>
</g>
<text class="s" font-size="44.0" x="548.3" y="826.9" text-anchor="middle">Time(s)</text>
<text class="s" font-size="44.0" transform="translate(19.9,375.4) rotate(-90)" text-anchor="middle">z</text>
<rect x="410.6" y="51.1" width="274.3" height="221.8" fill="#fff"/>
<g clip-path="url(#ci)" fill="none" stroke-width="3.2">
<path d="M410.6,188.4L684.9,206.9" stroke="#0000ff"/>
<path d="M410.6,196.8L684.9,215.2" stroke="#000" stroke-dasharray="18 9.95"/>
<path d="M524.1,272.9L599.0,50.9" stroke="#ff0000" stroke-dasharray="18 9.95"/>
</g>
<g stroke="#262626" stroke-width="1.6" fill="none">
<rect x="410.6" y="51.1" width="274.3" height="221.8"/>
<path d="M455.9,272.9v-3.5M455.9,51.1v3.5M569.8,272.9v-3.5M569.8,51.1v3.5M683.9,272.9v-3.5M683.9,51.1v3.5M410.6,91.3h3.5M684.9,91.3h-3.5M410.6,151.2h3.5M684.9,151.2h-3.5M410.6,211.3h3.5M684.9,211.3h-3.5M410.6,271.6h3.5M684.9,271.6h-3.5"/>
</g>
<g class="t" font-size="23.0">
<text x="456.4" y="301.7" text-anchor="middle">14.12</text>
<text x="570.3" y="301.7" text-anchor="middle">14.14</text>
<text x="684.4" y="301.7" text-anchor="middle">14.16</text>
<text x="404.4" y="100.6" text-anchor="end">1.002</text>
<text x="404.4" y="160.8" text-anchor="end">1</text>
<text x="404.4" y="221.1" text-anchor="end">0.998</text>
<text x="404.4" y="280.6" text-anchor="end">0.996</text>
</g>
<rect x="278.8" y="367.5" width="35.5" height="43.9" fill="none" stroke="#000" stroke-width="2.8"/>
<path d="M299.9,366.1L398,296.9" stroke="#000" stroke-width="2.1" fill="none"/>
<path d="M412.8,286.5L381.8,295.0L395.4,298.7L394.4,313.6Z" fill="#000" stroke="#000" stroke-width="1.2" stroke-linejoin="round"/>
<rect x="823.8" y="23.2" width="176.9" height="122.1" fill="#fff" stroke="#262626" stroke-width="1.5"/>
<g fill="none" stroke-width="3.2">
<path d="M833,46.4H921" stroke="#0000ff"/>
<path d="M833,84.7H921" stroke="#000" stroke-dasharray="18 9.95"/>
<path d="M833,122.9H921" stroke="#ff0000" stroke-dasharray="18 9.95"/>
</g>
<g class="t" font-size="29.1" style="fill:#000;stroke:#000">
<text x="927.0" y="57.3">GUK</text>
<text x="927.0" y="95.6">UK</text>
<text x="927.0" y="133.8">LQR</text>
</g>
</svg></body></html>
